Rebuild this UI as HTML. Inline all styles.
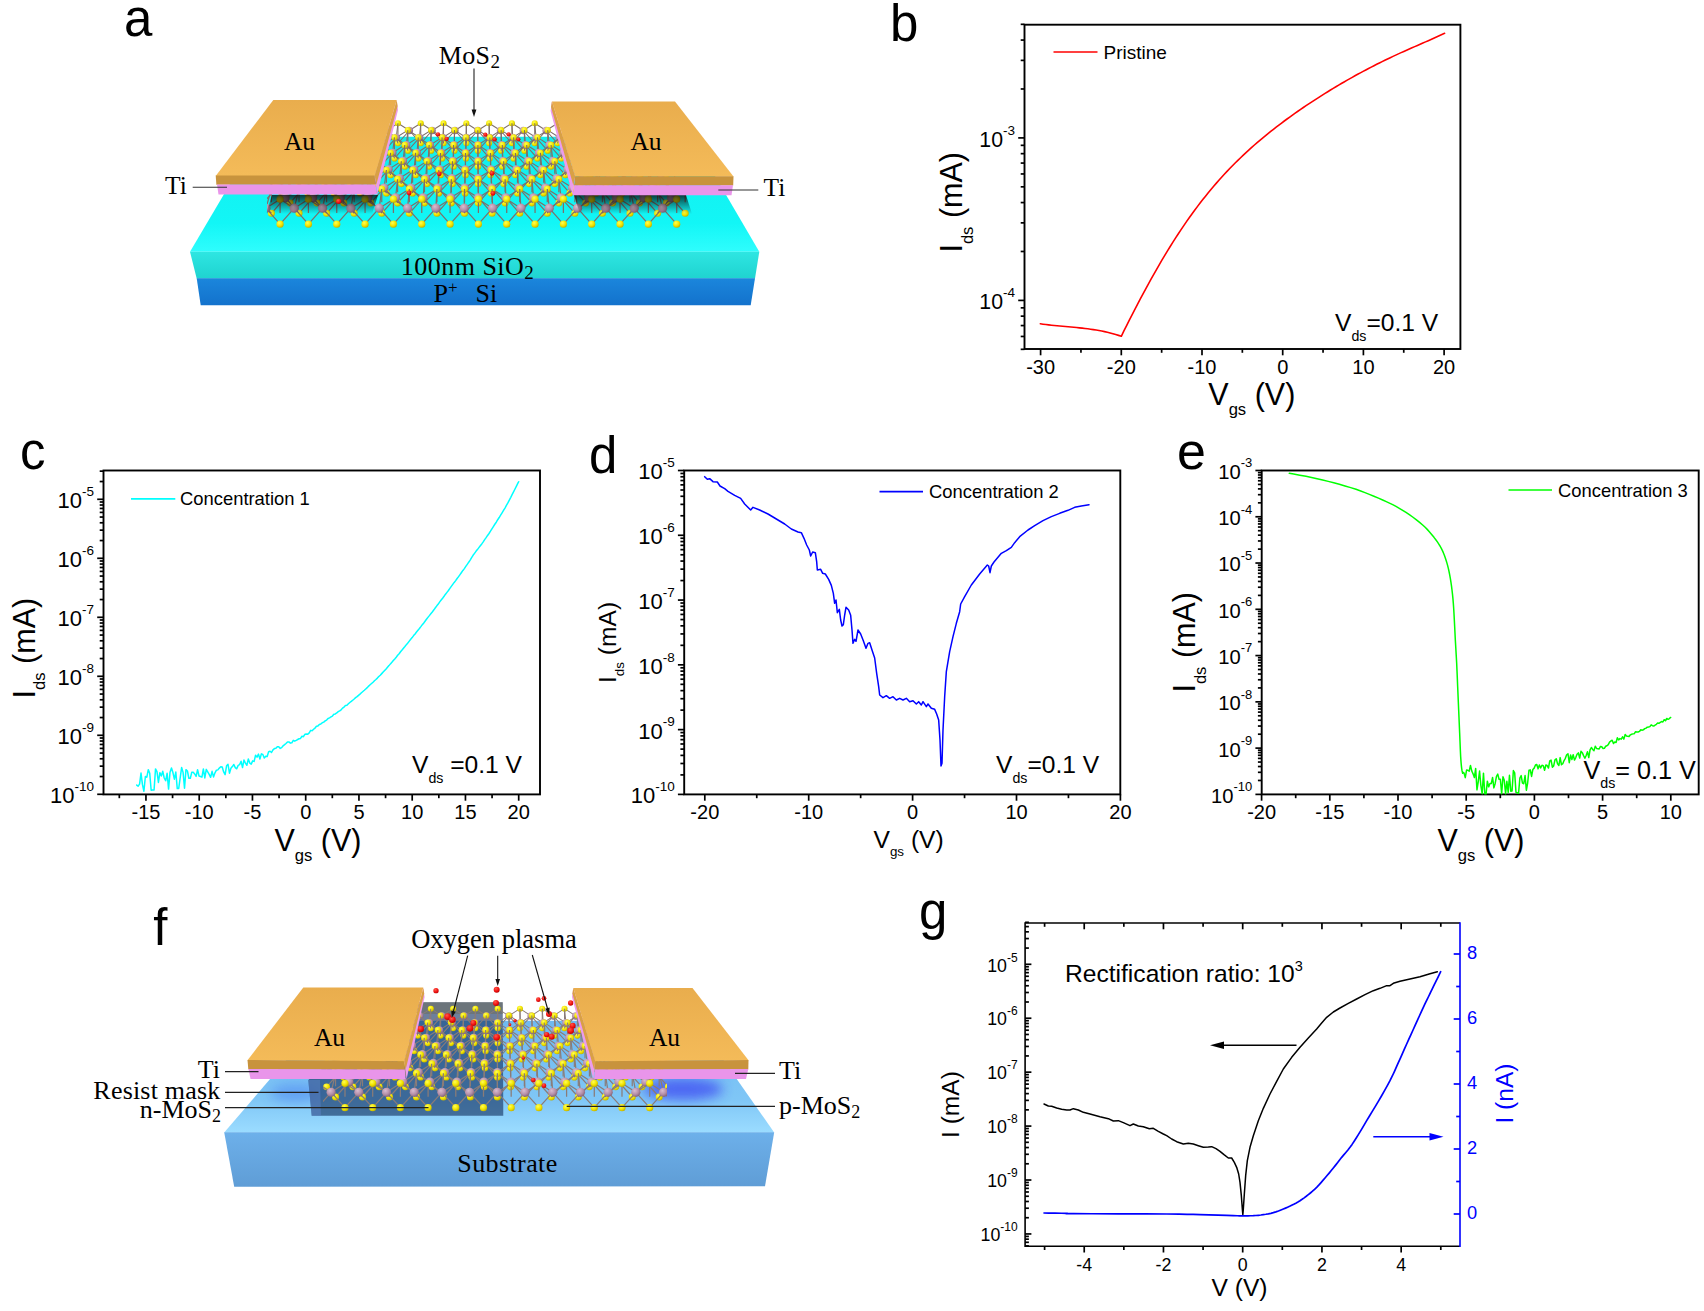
<!DOCTYPE html>
<html lang="en"><head><meta charset="utf-8"><title>MoS2 FET doping figure</title>
<style>
html,body{margin:0;padding:0;background:#fff;}
body{width:1704px;height:1311px;overflow:hidden;}
svg{display:block;}
.s{font-family:'Liberation Sans', Arial, sans-serif;}
.t{font-family:'Liberation Serif', 'Times New Roman', serif;}
</style></head><body>
<svg width="1704" height="1311" viewBox="0 0 1704 1311">
<rect width="1704" height="1311" fill="#fff"/>
<text class="s" x="124" y="35.5" font-size="51" text-anchor="start" fill="#000" >a</text>
<text class="s" x="890" y="41" font-size="51" text-anchor="start" fill="#000" >b</text>
<text class="s" x="20" y="468.5" font-size="51" text-anchor="start" fill="#000" >c</text>
<text class="s" x="589" y="473" font-size="51" text-anchor="start" fill="#000" >d</text>
<text class="s" x="1177" y="468.5" font-size="52" text-anchor="start" fill="#000" >e</text>
<text class="s" x="153.2" y="944.8" font-size="51" text-anchor="start" fill="#000" >f</text>
<text class="s" x="919" y="928.5" font-size="51" text-anchor="start" fill="#000" >g</text>
<rect x="1024.5" y="24.7" width="435.9" height="324.3" fill="#fff" stroke="#000" stroke-width="1.9"/>
<line x1="1040.6" y1="349" x2="1040.6" y2="355.3" stroke="#000" stroke-width="1.7" />
<text class="s" x="1040.6" y="374" font-size="20" text-anchor="middle" fill="#000" >-30</text>
<line x1="1121.3" y1="349" x2="1121.3" y2="355.3" stroke="#000" stroke-width="1.7" />
<text class="s" x="1121.3" y="374" font-size="20" text-anchor="middle" fill="#000" >-20</text>
<line x1="1202" y1="349" x2="1202" y2="355.3" stroke="#000" stroke-width="1.7" />
<text class="s" x="1202" y="374" font-size="20" text-anchor="middle" fill="#000" >-10</text>
<line x1="1282.7" y1="349" x2="1282.7" y2="355.3" stroke="#000" stroke-width="1.7" />
<text class="s" x="1282.7" y="374" font-size="20" text-anchor="middle" fill="#000" >0</text>
<line x1="1363.4" y1="349" x2="1363.4" y2="355.3" stroke="#000" stroke-width="1.7" />
<text class="s" x="1363.4" y="374" font-size="20" text-anchor="middle" fill="#000" >10</text>
<line x1="1444.1" y1="349" x2="1444.1" y2="355.3" stroke="#000" stroke-width="1.7" />
<text class="s" x="1444.1" y="374" font-size="20" text-anchor="middle" fill="#000" >20</text>
<line x1="1080.95" y1="349" x2="1080.95" y2="352.8" stroke="#000" stroke-width="1.7" />
<line x1="1161.65" y1="349" x2="1161.65" y2="352.8" stroke="#000" stroke-width="1.7" />
<line x1="1242.35" y1="349" x2="1242.35" y2="352.8" stroke="#000" stroke-width="1.7" />
<line x1="1323.05" y1="349" x2="1323.05" y2="352.8" stroke="#000" stroke-width="1.7" />
<line x1="1403.75" y1="349" x2="1403.75" y2="352.8" stroke="#000" stroke-width="1.7" />
<line x1="1024.5" y1="137.9" x2="1018.2" y2="137.9" stroke="#000" stroke-width="1.7" />
<text class="s" x="1015" y="146.8" font-size="21.3" text-anchor="end" fill="#000">10<tspan dy="-12.2" font-size="13.5">-3</tspan></text>
<line x1="1024.5" y1="300.4" x2="1018.2" y2="300.4" stroke="#000" stroke-width="1.7" />
<text class="s" x="1015" y="309.3" font-size="21.3" text-anchor="end" fill="#000">10<tspan dy="-12.2" font-size="13.5">-4</tspan></text>
<line x1="1024.5" y1="349.32" x2="1020.7" y2="349.32" stroke="#000" stroke-width="1.7" />
<line x1="1024.5" y1="336.45" x2="1020.7" y2="336.45" stroke="#000" stroke-width="1.7" />
<line x1="1024.5" y1="325.57" x2="1020.7" y2="325.57" stroke="#000" stroke-width="1.7" />
<line x1="1024.5" y1="316.15" x2="1020.7" y2="316.15" stroke="#000" stroke-width="1.7" />
<line x1="1024.5" y1="307.84" x2="1020.7" y2="307.84" stroke="#000" stroke-width="1.7" />
<line x1="1024.5" y1="251.48" x2="1020.7" y2="251.48" stroke="#000" stroke-width="1.7" />
<line x1="1024.5" y1="222.87" x2="1020.7" y2="222.87" stroke="#000" stroke-width="1.7" />
<line x1="1024.5" y1="202.57" x2="1020.7" y2="202.57" stroke="#000" stroke-width="1.7" />
<line x1="1024.5" y1="186.82" x2="1020.7" y2="186.82" stroke="#000" stroke-width="1.7" />
<line x1="1024.5" y1="173.95" x2="1020.7" y2="173.95" stroke="#000" stroke-width="1.7" />
<line x1="1024.5" y1="163.07" x2="1020.7" y2="163.07" stroke="#000" stroke-width="1.7" />
<line x1="1024.5" y1="153.65" x2="1020.7" y2="153.65" stroke="#000" stroke-width="1.7" />
<line x1="1024.5" y1="145.34" x2="1020.7" y2="145.34" stroke="#000" stroke-width="1.7" />
<line x1="1024.5" y1="88.98" x2="1020.7" y2="88.98" stroke="#000" stroke-width="1.7" />
<line x1="1024.5" y1="60.37" x2="1020.7" y2="60.37" stroke="#000" stroke-width="1.7" />
<line x1="1024.5" y1="40.07" x2="1020.7" y2="40.07" stroke="#000" stroke-width="1.7" />
<line x1="1024.5" y1="24.32" x2="1020.7" y2="24.32" stroke="#000" stroke-width="1.7" />
<text class="s" transform="translate(962.4 252.6) rotate(-90)" font-size="30.5" fill="#000">I<tspan dy="10.37" font-size="16.6">ds</tspan><tspan dy="-10.37" font-size="30.5"> (mA)</tspan></text>
<text class="s" x="1208.3" y="405.3" font-size="30.5" fill="#000">V<tspan dy="10.07" font-size="16.6">gs</tspan><tspan dy="-10.07" font-size="30.5"> (V)</tspan></text>
<line x1="1053.5" y1="52" x2="1097.5" y2="52" stroke="#ff0000" stroke-width="1.7" />
<text class="s" x="1103.5" y="58.6" font-size="19" text-anchor="start" fill="#000" >Pristine</text>
<text class="s" x="1335" y="331" font-size="24.6" fill="#000">V<tspan dy="9.5" font-size="14.2">ds</tspan><tspan dy="-9.5" font-size="24.6">=0.1 V</tspan></text>
<path d="M1040.3 323.79 L1043.09 324.19 L1045.89 324.55 L1048.68 324.89 L1051.47 325.2 L1054.27 325.49 L1057.06 325.77 L1059.85 326.03 L1062.64 326.28 L1065.44 326.53 L1068.23 326.78 L1071.02 327.03 L1073.82 327.29 L1076.61 327.56 L1079.4 327.84 L1082.2 328.14 L1084.99 328.46 L1087.78 328.81 L1090.58 329.18 L1093.37 329.59 L1096.16 330.04 L1098.96 330.52 L1101.75 331.05 L1104.54 331.63 L1107.33 332.26 L1110.13 332.95 L1112.92 333.69 L1115.71 334.5 L1118.51 335.38 L1121.3 336.3 L1124.02 330.71 L1126.73 325.32 L1129.45 319.96 L1132.17 314.65 L1134.88 309.38 L1137.6 304.15 L1140.32 298.99 L1143.03 293.87 L1145.75 288.82 L1148.47 283.84 L1151.18 278.92 L1153.9 274.06 L1156.62 269.28 L1159.34 264.57 L1162.05 259.93 L1164.77 255.37 L1167.49 250.89 L1170.2 246.48 L1172.92 242.15 L1175.64 237.89 L1178.35 233.71 L1181.07 229.62 L1183.79 225.59 L1186.5 221.65 L1189.22 217.78 L1191.94 213.99 L1194.65 210.27 L1197.37 206.63 L1200.09 203.06 L1202.8 199.57 L1205.52 196.14 L1208.24 192.79 L1210.95 189.5 L1213.67 186.28 L1216.39 183.13 L1219.11 180.04 L1221.82 177.02 L1224.54 174.05 L1227.26 171.15 L1229.97 168.3 L1232.69 165.51 L1235.41 162.77 L1238.12 160.09 L1240.84 157.46 L1243.56 154.87 L1246.27 152.34 L1248.99 149.85 L1251.71 147.4 L1254.42 145 L1257.14 142.64 L1259.86 140.32 L1262.57 138.04 L1265.29 135.8 L1268.01 133.59 L1270.72 131.41 L1273.44 129.27 L1276.16 127.16 L1278.87 125.08 L1281.59 123.03 L1284.31 121 L1287.03 119 L1289.74 117.03 L1292.46 115.09 L1295.18 113.16 L1297.89 111.27 L1300.61 109.39 L1303.33 107.53 L1306.04 105.7 L1308.76 103.88 L1311.48 102.09 L1314.19 100.31 L1316.91 98.56 L1319.63 96.82 L1322.34 95.1 L1325.06 93.4 L1327.78 91.71 L1330.49 90.05 L1333.21 88.4 L1335.93 86.77 L1338.64 85.15 L1341.36 83.55 L1344.08 81.97 L1346.79 80.41 L1349.51 78.86 L1352.23 77.33 L1354.95 75.81 L1357.66 74.32 L1360.38 72.84 L1363.1 71.38 L1365.81 69.93 L1368.53 68.5 L1371.25 67.09 L1373.96 65.7 L1376.68 64.32 L1379.4 62.96 L1382.11 61.62 L1384.83 60.29 L1387.55 58.98 L1390.26 57.68 L1392.98 56.4 L1395.7 55.14 L1398.41 53.88 L1401.13 52.64 L1403.85 51.42 L1406.56 50.2 L1409.28 48.99 L1412 47.8 L1414.72 46.61 L1417.43 45.42 L1420.15 44.24 L1422.87 43.06 L1425.58 41.87 L1428.3 40.69 L1431.02 39.5 L1433.73 38.29 L1436.45 37.08 L1439.17 35.85 L1441.88 34.6 L1444.6 33.33" fill="none" stroke="#ff0000" stroke-width="1.6" stroke-linejoin="round" stroke-linecap="round" />
<rect x="103.5" y="470.5" width="436.5" height="323.9" fill="#fff" stroke="#000" stroke-width="1.9"/>
<line x1="145.95" y1="794.4" x2="145.95" y2="800.7" stroke="#000" stroke-width="1.7" />
<text class="s" x="145.95" y="819.4" font-size="20" text-anchor="middle" fill="#000" >-15</text>
<line x1="199.2" y1="794.4" x2="199.2" y2="800.7" stroke="#000" stroke-width="1.7" />
<text class="s" x="199.2" y="819.4" font-size="20" text-anchor="middle" fill="#000" >-10</text>
<line x1="252.45" y1="794.4" x2="252.45" y2="800.7" stroke="#000" stroke-width="1.7" />
<text class="s" x="252.45" y="819.4" font-size="20" text-anchor="middle" fill="#000" >-5</text>
<line x1="305.7" y1="794.4" x2="305.7" y2="800.7" stroke="#000" stroke-width="1.7" />
<text class="s" x="305.7" y="819.4" font-size="20" text-anchor="middle" fill="#000" >0</text>
<line x1="358.95" y1="794.4" x2="358.95" y2="800.7" stroke="#000" stroke-width="1.7" />
<text class="s" x="358.95" y="819.4" font-size="20" text-anchor="middle" fill="#000" >5</text>
<line x1="412.2" y1="794.4" x2="412.2" y2="800.7" stroke="#000" stroke-width="1.7" />
<text class="s" x="412.2" y="819.4" font-size="20" text-anchor="middle" fill="#000" >10</text>
<line x1="465.45" y1="794.4" x2="465.45" y2="800.7" stroke="#000" stroke-width="1.7" />
<text class="s" x="465.45" y="819.4" font-size="20" text-anchor="middle" fill="#000" >15</text>
<line x1="518.7" y1="794.4" x2="518.7" y2="800.7" stroke="#000" stroke-width="1.7" />
<text class="s" x="518.7" y="819.4" font-size="20" text-anchor="middle" fill="#000" >20</text>
<line x1="119.32" y1="794.4" x2="119.32" y2="798.2" stroke="#000" stroke-width="1.7" />
<line x1="172.57" y1="794.4" x2="172.57" y2="798.2" stroke="#000" stroke-width="1.7" />
<line x1="225.82" y1="794.4" x2="225.82" y2="798.2" stroke="#000" stroke-width="1.7" />
<line x1="279.07" y1="794.4" x2="279.07" y2="798.2" stroke="#000" stroke-width="1.7" />
<line x1="332.32" y1="794.4" x2="332.32" y2="798.2" stroke="#000" stroke-width="1.7" />
<line x1="385.57" y1="794.4" x2="385.57" y2="798.2" stroke="#000" stroke-width="1.7" />
<line x1="438.82" y1="794.4" x2="438.82" y2="798.2" stroke="#000" stroke-width="1.7" />
<line x1="492.07" y1="794.4" x2="492.07" y2="798.2" stroke="#000" stroke-width="1.7" />
<line x1="103.5" y1="499.3" x2="97.2" y2="499.3" stroke="#000" stroke-width="1.7" />
<text class="s" x="94" y="508.2" font-size="22" text-anchor="end" fill="#000">10<tspan dy="-12.2" font-size="13.5">-5</tspan></text>
<line x1="103.5" y1="558.3" x2="97.2" y2="558.3" stroke="#000" stroke-width="1.7" />
<text class="s" x="94" y="567.2" font-size="22" text-anchor="end" fill="#000">10<tspan dy="-12.2" font-size="13.5">-6</tspan></text>
<line x1="103.5" y1="617.3" x2="97.2" y2="617.3" stroke="#000" stroke-width="1.7" />
<text class="s" x="94" y="626.2" font-size="22" text-anchor="end" fill="#000">10<tspan dy="-12.2" font-size="13.5">-7</tspan></text>
<line x1="103.5" y1="676.3" x2="97.2" y2="676.3" stroke="#000" stroke-width="1.7" />
<text class="s" x="94" y="685.2" font-size="22" text-anchor="end" fill="#000">10<tspan dy="-12.2" font-size="13.5">-8</tspan></text>
<line x1="103.5" y1="735.3" x2="97.2" y2="735.3" stroke="#000" stroke-width="1.7" />
<text class="s" x="94" y="744.2" font-size="22" text-anchor="end" fill="#000">10<tspan dy="-12.2" font-size="13.5">-9</tspan></text>
<line x1="103.5" y1="794.3" x2="97.2" y2="794.3" stroke="#000" stroke-width="1.7" />
<text class="s" x="94" y="803.2" font-size="22" text-anchor="end" fill="#000">10<tspan dy="-12.2" font-size="13.5">-10</tspan></text>
<line x1="103.5" y1="776.54" x2="99.7" y2="776.54" stroke="#000" stroke-width="1.7" />
<line x1="103.5" y1="766.15" x2="99.7" y2="766.15" stroke="#000" stroke-width="1.7" />
<line x1="103.5" y1="758.78" x2="99.7" y2="758.78" stroke="#000" stroke-width="1.7" />
<line x1="103.5" y1="753.06" x2="99.7" y2="753.06" stroke="#000" stroke-width="1.7" />
<line x1="103.5" y1="748.39" x2="99.7" y2="748.39" stroke="#000" stroke-width="1.7" />
<line x1="103.5" y1="744.44" x2="99.7" y2="744.44" stroke="#000" stroke-width="1.7" />
<line x1="103.5" y1="741.02" x2="99.7" y2="741.02" stroke="#000" stroke-width="1.7" />
<line x1="103.5" y1="738" x2="99.7" y2="738" stroke="#000" stroke-width="1.7" />
<line x1="103.5" y1="717.54" x2="99.7" y2="717.54" stroke="#000" stroke-width="1.7" />
<line x1="103.5" y1="707.15" x2="99.7" y2="707.15" stroke="#000" stroke-width="1.7" />
<line x1="103.5" y1="699.78" x2="99.7" y2="699.78" stroke="#000" stroke-width="1.7" />
<line x1="103.5" y1="694.06" x2="99.7" y2="694.06" stroke="#000" stroke-width="1.7" />
<line x1="103.5" y1="689.39" x2="99.7" y2="689.39" stroke="#000" stroke-width="1.7" />
<line x1="103.5" y1="685.44" x2="99.7" y2="685.44" stroke="#000" stroke-width="1.7" />
<line x1="103.5" y1="682.02" x2="99.7" y2="682.02" stroke="#000" stroke-width="1.7" />
<line x1="103.5" y1="679" x2="99.7" y2="679" stroke="#000" stroke-width="1.7" />
<line x1="103.5" y1="658.54" x2="99.7" y2="658.54" stroke="#000" stroke-width="1.7" />
<line x1="103.5" y1="648.15" x2="99.7" y2="648.15" stroke="#000" stroke-width="1.7" />
<line x1="103.5" y1="640.78" x2="99.7" y2="640.78" stroke="#000" stroke-width="1.7" />
<line x1="103.5" y1="635.06" x2="99.7" y2="635.06" stroke="#000" stroke-width="1.7" />
<line x1="103.5" y1="630.39" x2="99.7" y2="630.39" stroke="#000" stroke-width="1.7" />
<line x1="103.5" y1="626.44" x2="99.7" y2="626.44" stroke="#000" stroke-width="1.7" />
<line x1="103.5" y1="623.02" x2="99.7" y2="623.02" stroke="#000" stroke-width="1.7" />
<line x1="103.5" y1="620" x2="99.7" y2="620" stroke="#000" stroke-width="1.7" />
<line x1="103.5" y1="599.54" x2="99.7" y2="599.54" stroke="#000" stroke-width="1.7" />
<line x1="103.5" y1="589.15" x2="99.7" y2="589.15" stroke="#000" stroke-width="1.7" />
<line x1="103.5" y1="581.78" x2="99.7" y2="581.78" stroke="#000" stroke-width="1.7" />
<line x1="103.5" y1="576.06" x2="99.7" y2="576.06" stroke="#000" stroke-width="1.7" />
<line x1="103.5" y1="571.39" x2="99.7" y2="571.39" stroke="#000" stroke-width="1.7" />
<line x1="103.5" y1="567.44" x2="99.7" y2="567.44" stroke="#000" stroke-width="1.7" />
<line x1="103.5" y1="564.02" x2="99.7" y2="564.02" stroke="#000" stroke-width="1.7" />
<line x1="103.5" y1="561" x2="99.7" y2="561" stroke="#000" stroke-width="1.7" />
<line x1="103.5" y1="540.54" x2="99.7" y2="540.54" stroke="#000" stroke-width="1.7" />
<line x1="103.5" y1="530.15" x2="99.7" y2="530.15" stroke="#000" stroke-width="1.7" />
<line x1="103.5" y1="522.78" x2="99.7" y2="522.78" stroke="#000" stroke-width="1.7" />
<line x1="103.5" y1="517.06" x2="99.7" y2="517.06" stroke="#000" stroke-width="1.7" />
<line x1="103.5" y1="512.39" x2="99.7" y2="512.39" stroke="#000" stroke-width="1.7" />
<line x1="103.5" y1="508.44" x2="99.7" y2="508.44" stroke="#000" stroke-width="1.7" />
<line x1="103.5" y1="505.02" x2="99.7" y2="505.02" stroke="#000" stroke-width="1.7" />
<line x1="103.5" y1="502" x2="99.7" y2="502" stroke="#000" stroke-width="1.7" />
<line x1="103.5" y1="481.54" x2="99.7" y2="481.54" stroke="#000" stroke-width="1.7" />
<line x1="103.5" y1="471.15" x2="99.7" y2="471.15" stroke="#000" stroke-width="1.7" />
<text class="s" transform="translate(34.9 698.4) rotate(-90)" font-size="30.5" fill="#000">I<tspan dy="10.37" font-size="16.6">ds</tspan><tspan dy="-10.37" font-size="30.5"> (mA)</tspan></text>
<text class="s" x="274.5" y="851" font-size="30.5" fill="#000">V<tspan dy="10.07" font-size="16.6">gs</tspan><tspan dy="-10.07" font-size="30.5"> (V)</tspan></text>
<line x1="131" y1="498.8" x2="175.3" y2="498.8" stroke="#00ffff" stroke-width="1.7" />
<text class="s" x="180" y="505.4" font-size="18.4" text-anchor="start" fill="#000" >Concentration 1</text>
<text class="s" x="412" y="773" font-size="24.6" fill="#000">V<tspan dy="9.5" font-size="14.2">ds</tspan><tspan dy="-9.5" font-size="24.6"> =0.1 V</tspan></text>
<path d="M136.67 785.05 L138.12 786.19 L139.57 784.15 L141.02 773.04 L142.47 784.63 L143.92 791.27 L145.37 776.46 L146.82 777.26 L148.27 769.65 L149.72 773.23 L151.17 790.19 L152.62 790.07 L154.07 789.96 L155.52 768.89 L156.97 771.7 L158.42 782.43 L159.87 772.64 L161.32 776.06 L162.77 771.29 L164.22 778.01 L165.67 780.77 L167.12 773.23 L168.57 789.09 L170.02 772.22 L171.47 767.96 L172.92 772.55 L174.37 779.2 L175.82 772.08 L177.27 788.58 L178.72 788.5 L180.17 777.91 L181.62 767.59 L183.07 772.39 L184.52 788.19 L185.97 769.65 L187.42 771.01 L188.87 778.26 L190.32 778.32 L191.77 772.27 L193.22 772.3 L194.67 773.93 L196.12 776.38 L197.57 769.66 L199.02 776.03 L200.47 776.51 L201.92 777.13 L203.37 768.89 L204.82 777.97 L206.27 769.38 L207.72 771.81 L209.17 774.4 L210.62 777.32 L212.07 771.33 L213.52 776.92 L214.97 772.84 L216.42 770.18 L217.87 769.86 L219.32 768.09 L220.77 766.69 L222.22 766.97 L223.67 771.95 L225.12 774.59 L226.57 765.8 L228.02 764.25 L229.47 773.21 L230.92 768.26 L232.37 766.56 L233.82 764.46 L235.27 767.59 L236.72 768.82 L238.17 765.4 L239.62 764.66 L241.07 761.24 L242.52 767.61 L243.97 760 L245.42 763.11 L246.87 765.26 L248.32 758.95 L249.77 763.09 L251.22 764.13 L252.67 760.86 L254.12 761.4 L255.57 755.22 L257.02 757.11 L258.47 754.09 L259.92 758.94 L261.37 753.84 L262.82 754.41 L264.27 758.09 L265.72 756.23 L267.17 756.53 L268.62 751.67 L270.07 751.26 L271.52 752.51 L272.97 749.82 L274.42 748.56 L275.87 748.29 L277.32 746.7 L278.77 746.86 L280.22 748.4 L281.67 747.64 L283.12 745.79 L284.57 744.69 L286.02 743.47 L287.47 741.92 L288.92 741.94 L290.37 743.13 L291.82 742.78 L293.27 740.3 L294.72 741.16 L296.17 740.45 L297.62 739.51 L299.07 738.76 L300.52 738.44 L301.97 736.28 L303.42 736.69 L304.87 734.29 L306.32 734.1 L307.77 734.14 L309.22 732.84 L310.67 730.38 L312.12 730.69 L313.57 729.22 L315.02 728.06 L316.47 726.2 L317.92 725.9 L319.37 724.44 L320.82 724 L322.27 722.68 L323.72 722.16 L325.17 720.9 L326.62 720.1 L328.07 718.45 L329.52 717.85 L330.97 716.95 L332.42 716.05 L333.87 714.33 L335.32 713.97 L336.77 712.94 L338.22 711.62 L339.67 710.94 L341.12 709.83 L342.57 708.13 L344.02 707.05 L345.47 705.43 L346.92 705.26 L348.37 703.79 L349.82 702.5 L351.27 701.41 L352.72 700.24 L354.17 699.04 L355.62 697.67 L357.07 696.63 L358.52 695.33 L359.97 694.11 L361.42 692.77 L362.87 691.55 L364.32 690.3 L365.77 688.95 L367.22 687.65 L368.67 686.1 L370.12 684.79 L371.57 683.52 L373.02 682.23 L374.47 680.75 L375.92 679.52 L377.37 678.12 L378.82 676.52 L380.27 675.19 L381.72 673.62 L383.17 672.04 L384.62 670.5 L386.07 668.95 L387.52 667.27 L388.97 665.62 L390.42 663.89 L391.87 662.32 L393.32 660.58 L394.77 658.92 L396.22 657.18 L397.67 655.33 L399.12 653.77 L400.57 651.73 L402.02 650.08 L403.47 648.27 L404.92 646.52 L406.37 644.64 L407.82 643.06 L409.27 641.12 L410.72 639.21 L412.17 637.58 L413.62 635.6 L415.07 633.92 L416.52 632.02 L417.97 630.26 L419.42 628.53 L420.87 626.65 L422.32 624.67 L423.77 622.93 L425.22 621.01 L426.67 619.06 L428.12 617.12 L429.57 615.38 L431.02 613.48 L432.47 611.71 L433.92 609.82 L435.37 607.81 L436.82 605.82 L438.27 604.08 L439.72 601.89 L441.17 600 L442.62 598.2 L444.07 596.27 L445.52 594.19 L446.97 592.38 L448.42 590.5 L449.87 588.37 L451.32 586.42 L452.77 584.38 L454.22 582.42 L455.67 580.64 L457.12 578.47 L458.57 576.65 L460.02 574.64 L461.47 572.54 L462.92 570.43 L464.37 568.63 L465.82 566.45 L467.27 564.37 L468.72 562.2 L470.17 560.14 L471.62 557.58 L473.07 555.32 L474.52 553.36 L475.97 551.32 L477.42 549.58 L478.87 547.64 L480.32 545.7 L481.77 543.91 L483.22 541.93 L484.67 539.62 L486.12 537.67 L487.57 535.45 L489.02 533.47 L490.47 531.21 L491.92 528.81 L493.37 526.54 L494.82 524.24 L496.27 522.21 L497.72 519.72 L499.17 517.52 L500.62 515.15 L502.07 512.85 L503.52 510.44 L504.97 508.03 L506.42 505.32 L507.87 502.9 L509.32 500.06 L510.77 497.35 L512.22 494.46 L513.67 491.59 L515.12 488.76 L516.57 485.84 L518.02 482.91 L518.67 481.74" fill="none" stroke="#00ffff" stroke-width="1.5" stroke-linejoin="round" stroke-linecap="round" stroke-linejoin="miter"/>
<rect x="684.2" y="470.5" width="436.1" height="323.9" fill="#fff" stroke="#000" stroke-width="1.9"/>
<line x1="704.8" y1="794.4" x2="704.8" y2="800.7" stroke="#000" stroke-width="1.7" />
<text class="s" x="704.8" y="819.4" font-size="20" text-anchor="middle" fill="#000" >-20</text>
<line x1="808.7" y1="794.4" x2="808.7" y2="800.7" stroke="#000" stroke-width="1.7" />
<text class="s" x="808.7" y="819.4" font-size="20" text-anchor="middle" fill="#000" >-10</text>
<line x1="912.6" y1="794.4" x2="912.6" y2="800.7" stroke="#000" stroke-width="1.7" />
<text class="s" x="912.6" y="819.4" font-size="20" text-anchor="middle" fill="#000" >0</text>
<line x1="1016.5" y1="794.4" x2="1016.5" y2="800.7" stroke="#000" stroke-width="1.7" />
<text class="s" x="1016.5" y="819.4" font-size="20" text-anchor="middle" fill="#000" >10</text>
<line x1="1120.4" y1="794.4" x2="1120.4" y2="800.7" stroke="#000" stroke-width="1.7" />
<text class="s" x="1120.4" y="819.4" font-size="20" text-anchor="middle" fill="#000" >20</text>
<line x1="756.75" y1="794.4" x2="756.75" y2="798.2" stroke="#000" stroke-width="1.7" />
<line x1="860.65" y1="794.4" x2="860.65" y2="798.2" stroke="#000" stroke-width="1.7" />
<line x1="964.55" y1="794.4" x2="964.55" y2="798.2" stroke="#000" stroke-width="1.7" />
<line x1="1068.45" y1="794.4" x2="1068.45" y2="798.2" stroke="#000" stroke-width="1.7" />
<line x1="684.2" y1="470.5" x2="677.9" y2="470.5" stroke="#000" stroke-width="1.7" />
<text class="s" x="674.7" y="479.4" font-size="22" text-anchor="end" fill="#000">10<tspan dy="-12.2" font-size="13.5">-5</tspan></text>
<line x1="684.2" y1="535.28" x2="677.9" y2="535.28" stroke="#000" stroke-width="1.7" />
<text class="s" x="674.7" y="544.18" font-size="22" text-anchor="end" fill="#000">10<tspan dy="-12.2" font-size="13.5">-6</tspan></text>
<line x1="684.2" y1="600.06" x2="677.9" y2="600.06" stroke="#000" stroke-width="1.7" />
<text class="s" x="674.7" y="608.96" font-size="22" text-anchor="end" fill="#000">10<tspan dy="-12.2" font-size="13.5">-7</tspan></text>
<line x1="684.2" y1="664.84" x2="677.9" y2="664.84" stroke="#000" stroke-width="1.7" />
<text class="s" x="674.7" y="673.74" font-size="22" text-anchor="end" fill="#000">10<tspan dy="-12.2" font-size="13.5">-8</tspan></text>
<line x1="684.2" y1="729.62" x2="677.9" y2="729.62" stroke="#000" stroke-width="1.7" />
<text class="s" x="674.7" y="738.52" font-size="22" text-anchor="end" fill="#000">10<tspan dy="-12.2" font-size="13.5">-9</tspan></text>
<line x1="684.2" y1="794.4" x2="677.9" y2="794.4" stroke="#000" stroke-width="1.7" />
<text class="s" x="674.7" y="803.3" font-size="22" text-anchor="end" fill="#000">10<tspan dy="-12.2" font-size="13.5">-10</tspan></text>
<line x1="684.2" y1="774.9" x2="680.4" y2="774.9" stroke="#000" stroke-width="1.7" />
<line x1="684.2" y1="763.49" x2="680.4" y2="763.49" stroke="#000" stroke-width="1.7" />
<line x1="684.2" y1="755.4" x2="680.4" y2="755.4" stroke="#000" stroke-width="1.7" />
<line x1="684.2" y1="749.12" x2="680.4" y2="749.12" stroke="#000" stroke-width="1.7" />
<line x1="684.2" y1="743.99" x2="680.4" y2="743.99" stroke="#000" stroke-width="1.7" />
<line x1="684.2" y1="739.65" x2="680.4" y2="739.65" stroke="#000" stroke-width="1.7" />
<line x1="684.2" y1="735.9" x2="680.4" y2="735.9" stroke="#000" stroke-width="1.7" />
<line x1="684.2" y1="732.58" x2="680.4" y2="732.58" stroke="#000" stroke-width="1.7" />
<line x1="684.2" y1="710.12" x2="680.4" y2="710.12" stroke="#000" stroke-width="1.7" />
<line x1="684.2" y1="698.71" x2="680.4" y2="698.71" stroke="#000" stroke-width="1.7" />
<line x1="684.2" y1="690.62" x2="680.4" y2="690.62" stroke="#000" stroke-width="1.7" />
<line x1="684.2" y1="684.34" x2="680.4" y2="684.34" stroke="#000" stroke-width="1.7" />
<line x1="684.2" y1="679.21" x2="680.4" y2="679.21" stroke="#000" stroke-width="1.7" />
<line x1="684.2" y1="674.87" x2="680.4" y2="674.87" stroke="#000" stroke-width="1.7" />
<line x1="684.2" y1="671.12" x2="680.4" y2="671.12" stroke="#000" stroke-width="1.7" />
<line x1="684.2" y1="667.8" x2="680.4" y2="667.8" stroke="#000" stroke-width="1.7" />
<line x1="684.2" y1="645.34" x2="680.4" y2="645.34" stroke="#000" stroke-width="1.7" />
<line x1="684.2" y1="633.93" x2="680.4" y2="633.93" stroke="#000" stroke-width="1.7" />
<line x1="684.2" y1="625.84" x2="680.4" y2="625.84" stroke="#000" stroke-width="1.7" />
<line x1="684.2" y1="619.56" x2="680.4" y2="619.56" stroke="#000" stroke-width="1.7" />
<line x1="684.2" y1="614.43" x2="680.4" y2="614.43" stroke="#000" stroke-width="1.7" />
<line x1="684.2" y1="610.09" x2="680.4" y2="610.09" stroke="#000" stroke-width="1.7" />
<line x1="684.2" y1="606.34" x2="680.4" y2="606.34" stroke="#000" stroke-width="1.7" />
<line x1="684.2" y1="603.02" x2="680.4" y2="603.02" stroke="#000" stroke-width="1.7" />
<line x1="684.2" y1="580.56" x2="680.4" y2="580.56" stroke="#000" stroke-width="1.7" />
<line x1="684.2" y1="569.15" x2="680.4" y2="569.15" stroke="#000" stroke-width="1.7" />
<line x1="684.2" y1="561.06" x2="680.4" y2="561.06" stroke="#000" stroke-width="1.7" />
<line x1="684.2" y1="554.78" x2="680.4" y2="554.78" stroke="#000" stroke-width="1.7" />
<line x1="684.2" y1="549.65" x2="680.4" y2="549.65" stroke="#000" stroke-width="1.7" />
<line x1="684.2" y1="545.31" x2="680.4" y2="545.31" stroke="#000" stroke-width="1.7" />
<line x1="684.2" y1="541.56" x2="680.4" y2="541.56" stroke="#000" stroke-width="1.7" />
<line x1="684.2" y1="538.24" x2="680.4" y2="538.24" stroke="#000" stroke-width="1.7" />
<line x1="684.2" y1="515.78" x2="680.4" y2="515.78" stroke="#000" stroke-width="1.7" />
<line x1="684.2" y1="504.37" x2="680.4" y2="504.37" stroke="#000" stroke-width="1.7" />
<line x1="684.2" y1="496.28" x2="680.4" y2="496.28" stroke="#000" stroke-width="1.7" />
<line x1="684.2" y1="490" x2="680.4" y2="490" stroke="#000" stroke-width="1.7" />
<line x1="684.2" y1="484.87" x2="680.4" y2="484.87" stroke="#000" stroke-width="1.7" />
<line x1="684.2" y1="480.53" x2="680.4" y2="480.53" stroke="#000" stroke-width="1.7" />
<line x1="684.2" y1="476.78" x2="680.4" y2="476.78" stroke="#000" stroke-width="1.7" />
<line x1="684.2" y1="473.46" x2="680.4" y2="473.46" stroke="#000" stroke-width="1.7" />
<text class="s" transform="translate(615.7 683) rotate(-90)" font-size="24.6" fill="#000">I<tspan dy="8.36" font-size="13.4">ds</tspan><tspan dy="-8.36" font-size="24.6"> (mA)</tspan></text>
<text class="s" x="873.5" y="848.3" font-size="24.6" fill="#000">V<tspan dy="8.12" font-size="13.4">gs</tspan><tspan dy="-8.12" font-size="24.6"> (V)</tspan></text>
<line x1="879.5" y1="491.6" x2="923" y2="491.6" stroke="#0000ff" stroke-width="1.7" />
<text class="s" x="929" y="498.2" font-size="18.4" text-anchor="start" fill="#000" >Concentration 2</text>
<text class="s" x="996" y="773" font-size="24.6" fill="#000">V<tspan dy="9.5" font-size="14.2">ds</tspan><tspan dy="-9.5" font-size="24.6">=0.1 V</tspan></text>
<path d="M704.67 476.67 L707.33 479.33 L709.67 478.67 L713 481.67 L717.33 482 L720 486 L724.67 488.67 L728 491.33 L734.67 495.33 L740.67 498.33 L744.67 504 L750.67 510 L753 507.33 L759.67 510 L768 514 L774.67 518 L784.67 524 L791.33 529 L798 532 L801.33 532.67 L804 538.33 L806.67 545 L809.33 550 L810.67 556 L812.67 552 L815.33 552.67 L816.67 561.67 L817.33 570 L820.67 569.33 L822.67 573.33 L825.33 574 L828.67 579.33 L831.33 585.33 L833.33 593.33 L834.67 603.33 L836 600 L837.33 612.67 L839.33 609.33 L840.67 620 L842 626 L843.33 624.67 L844.67 615 L846 607.33 L848.67 610 L850.67 615.33 L852 630 L853 643.33 L854.67 639.33 L856 641.33 L858 630 L860.67 634 L863.33 640.67 L866 648.33 L868 643.33 L869.67 642.67 L872 650 L874.67 658 L876.67 673.33 L878.67 686.67 L879.67 695 L883 697.67 L886.33 695.67 L889.67 698.33 L893 696.67 L896.33 700 L899.67 698.33 L903 700 L906.33 698.33 L909.67 701.67 L913 700.67 L916.33 704 L918.67 701.67 L921.33 705 L923 701.67 L926.33 706.67 L928 704 L931.33 708.33 L934.67 709.33 L936.67 714 L938.67 720 L940 740 L941 766 L942 763.33 L943 730 L944.67 696.67 L946.33 671.67 L949.67 651.67 L953 636.67 L956.33 623.33 L959.67 611.67 L960.67 604 L964.67 596.67 L971.33 585 L979.67 574 L987.33 565 L988.67 566 L990 572.67 L991.33 566 L994 562 L1001.33 553.33 L1006.33 550.67 L1011.33 547.33 L1014.67 542.67 L1019.67 536.67 L1028 530 L1034.67 525.67 L1043 520.67 L1051.33 516.67 L1059.67 513.33 L1068 510.33 L1074.67 507.33 L1081.33 506 L1089 504.67" fill="none" stroke="#0000ff" stroke-width="1.5" stroke-linejoin="round" stroke-linecap="round" />
<rect x="1261.7" y="470.5" width="437" height="323.9" fill="#fff" stroke="#000" stroke-width="1.9"/>
<line x1="1261.6" y1="794.4" x2="1261.6" y2="800.7" stroke="#000" stroke-width="1.7" />
<text class="s" x="1261.6" y="819.4" font-size="20" text-anchor="middle" fill="#000" >-20</text>
<line x1="1329.8" y1="794.4" x2="1329.8" y2="800.7" stroke="#000" stroke-width="1.7" />
<text class="s" x="1329.8" y="819.4" font-size="20" text-anchor="middle" fill="#000" >-15</text>
<line x1="1398" y1="794.4" x2="1398" y2="800.7" stroke="#000" stroke-width="1.7" />
<text class="s" x="1398" y="819.4" font-size="20" text-anchor="middle" fill="#000" >-10</text>
<line x1="1466.2" y1="794.4" x2="1466.2" y2="800.7" stroke="#000" stroke-width="1.7" />
<text class="s" x="1466.2" y="819.4" font-size="20" text-anchor="middle" fill="#000" >-5</text>
<line x1="1534.4" y1="794.4" x2="1534.4" y2="800.7" stroke="#000" stroke-width="1.7" />
<text class="s" x="1534.4" y="819.4" font-size="20" text-anchor="middle" fill="#000" >0</text>
<line x1="1602.6" y1="794.4" x2="1602.6" y2="800.7" stroke="#000" stroke-width="1.7" />
<text class="s" x="1602.6" y="819.4" font-size="20" text-anchor="middle" fill="#000" >5</text>
<line x1="1670.8" y1="794.4" x2="1670.8" y2="800.7" stroke="#000" stroke-width="1.7" />
<text class="s" x="1670.8" y="819.4" font-size="20" text-anchor="middle" fill="#000" >10</text>
<line x1="1295.7" y1="794.4" x2="1295.7" y2="798.2" stroke="#000" stroke-width="1.7" />
<line x1="1363.9" y1="794.4" x2="1363.9" y2="798.2" stroke="#000" stroke-width="1.7" />
<line x1="1432.1" y1="794.4" x2="1432.1" y2="798.2" stroke="#000" stroke-width="1.7" />
<line x1="1500.3" y1="794.4" x2="1500.3" y2="798.2" stroke="#000" stroke-width="1.7" />
<line x1="1568.5" y1="794.4" x2="1568.5" y2="798.2" stroke="#000" stroke-width="1.7" />
<line x1="1636.7" y1="794.4" x2="1636.7" y2="798.2" stroke="#000" stroke-width="1.7" />
<line x1="1261.7" y1="470.5" x2="1255.4" y2="470.5" stroke="#000" stroke-width="1.7" />
<text class="s" x="1252.2" y="478.9" font-size="20.2" text-anchor="end" fill="#000">10<tspan dy="-11.6" font-size="13">-3</tspan></text>
<line x1="1261.7" y1="516.77" x2="1255.4" y2="516.77" stroke="#000" stroke-width="1.7" />
<text class="s" x="1252.2" y="525.17" font-size="20.2" text-anchor="end" fill="#000">10<tspan dy="-11.6" font-size="13">-4</tspan></text>
<line x1="1261.7" y1="563.04" x2="1255.4" y2="563.04" stroke="#000" stroke-width="1.7" />
<text class="s" x="1252.2" y="571.44" font-size="20.2" text-anchor="end" fill="#000">10<tspan dy="-11.6" font-size="13">-5</tspan></text>
<line x1="1261.7" y1="609.31" x2="1255.4" y2="609.31" stroke="#000" stroke-width="1.7" />
<text class="s" x="1252.2" y="617.71" font-size="20.2" text-anchor="end" fill="#000">10<tspan dy="-11.6" font-size="13">-6</tspan></text>
<line x1="1261.7" y1="655.58" x2="1255.4" y2="655.58" stroke="#000" stroke-width="1.7" />
<text class="s" x="1252.2" y="663.98" font-size="20.2" text-anchor="end" fill="#000">10<tspan dy="-11.6" font-size="13">-7</tspan></text>
<line x1="1261.7" y1="701.85" x2="1255.4" y2="701.85" stroke="#000" stroke-width="1.7" />
<text class="s" x="1252.2" y="710.25" font-size="20.2" text-anchor="end" fill="#000">10<tspan dy="-11.6" font-size="13">-8</tspan></text>
<line x1="1261.7" y1="748.12" x2="1255.4" y2="748.12" stroke="#000" stroke-width="1.7" />
<text class="s" x="1252.2" y="756.52" font-size="20.2" text-anchor="end" fill="#000">10<tspan dy="-11.6" font-size="13">-9</tspan></text>
<line x1="1261.7" y1="794.39" x2="1255.4" y2="794.39" stroke="#000" stroke-width="1.7" />
<text class="s" x="1252.2" y="802.79" font-size="20.2" text-anchor="end" fill="#000">10<tspan dy="-11.6" font-size="13">-10</tspan></text>
<line x1="1261.7" y1="780.46" x2="1257.9" y2="780.46" stroke="#000" stroke-width="1.7" />
<line x1="1261.7" y1="772.31" x2="1257.9" y2="772.31" stroke="#000" stroke-width="1.7" />
<line x1="1261.7" y1="766.53" x2="1257.9" y2="766.53" stroke="#000" stroke-width="1.7" />
<line x1="1261.7" y1="762.05" x2="1257.9" y2="762.05" stroke="#000" stroke-width="1.7" />
<line x1="1261.7" y1="758.38" x2="1257.9" y2="758.38" stroke="#000" stroke-width="1.7" />
<line x1="1261.7" y1="755.29" x2="1257.9" y2="755.29" stroke="#000" stroke-width="1.7" />
<line x1="1261.7" y1="752.6" x2="1257.9" y2="752.6" stroke="#000" stroke-width="1.7" />
<line x1="1261.7" y1="750.24" x2="1257.9" y2="750.24" stroke="#000" stroke-width="1.7" />
<line x1="1261.7" y1="734.19" x2="1257.9" y2="734.19" stroke="#000" stroke-width="1.7" />
<line x1="1261.7" y1="726.04" x2="1257.9" y2="726.04" stroke="#000" stroke-width="1.7" />
<line x1="1261.7" y1="720.26" x2="1257.9" y2="720.26" stroke="#000" stroke-width="1.7" />
<line x1="1261.7" y1="715.78" x2="1257.9" y2="715.78" stroke="#000" stroke-width="1.7" />
<line x1="1261.7" y1="712.11" x2="1257.9" y2="712.11" stroke="#000" stroke-width="1.7" />
<line x1="1261.7" y1="709.02" x2="1257.9" y2="709.02" stroke="#000" stroke-width="1.7" />
<line x1="1261.7" y1="706.33" x2="1257.9" y2="706.33" stroke="#000" stroke-width="1.7" />
<line x1="1261.7" y1="703.97" x2="1257.9" y2="703.97" stroke="#000" stroke-width="1.7" />
<line x1="1261.7" y1="687.92" x2="1257.9" y2="687.92" stroke="#000" stroke-width="1.7" />
<line x1="1261.7" y1="679.77" x2="1257.9" y2="679.77" stroke="#000" stroke-width="1.7" />
<line x1="1261.7" y1="673.99" x2="1257.9" y2="673.99" stroke="#000" stroke-width="1.7" />
<line x1="1261.7" y1="669.51" x2="1257.9" y2="669.51" stroke="#000" stroke-width="1.7" />
<line x1="1261.7" y1="665.84" x2="1257.9" y2="665.84" stroke="#000" stroke-width="1.7" />
<line x1="1261.7" y1="662.75" x2="1257.9" y2="662.75" stroke="#000" stroke-width="1.7" />
<line x1="1261.7" y1="660.06" x2="1257.9" y2="660.06" stroke="#000" stroke-width="1.7" />
<line x1="1261.7" y1="657.7" x2="1257.9" y2="657.7" stroke="#000" stroke-width="1.7" />
<line x1="1261.7" y1="641.65" x2="1257.9" y2="641.65" stroke="#000" stroke-width="1.7" />
<line x1="1261.7" y1="633.5" x2="1257.9" y2="633.5" stroke="#000" stroke-width="1.7" />
<line x1="1261.7" y1="627.72" x2="1257.9" y2="627.72" stroke="#000" stroke-width="1.7" />
<line x1="1261.7" y1="623.24" x2="1257.9" y2="623.24" stroke="#000" stroke-width="1.7" />
<line x1="1261.7" y1="619.57" x2="1257.9" y2="619.57" stroke="#000" stroke-width="1.7" />
<line x1="1261.7" y1="616.48" x2="1257.9" y2="616.48" stroke="#000" stroke-width="1.7" />
<line x1="1261.7" y1="613.79" x2="1257.9" y2="613.79" stroke="#000" stroke-width="1.7" />
<line x1="1261.7" y1="611.43" x2="1257.9" y2="611.43" stroke="#000" stroke-width="1.7" />
<line x1="1261.7" y1="595.38" x2="1257.9" y2="595.38" stroke="#000" stroke-width="1.7" />
<line x1="1261.7" y1="587.23" x2="1257.9" y2="587.23" stroke="#000" stroke-width="1.7" />
<line x1="1261.7" y1="581.45" x2="1257.9" y2="581.45" stroke="#000" stroke-width="1.7" />
<line x1="1261.7" y1="576.97" x2="1257.9" y2="576.97" stroke="#000" stroke-width="1.7" />
<line x1="1261.7" y1="573.3" x2="1257.9" y2="573.3" stroke="#000" stroke-width="1.7" />
<line x1="1261.7" y1="570.21" x2="1257.9" y2="570.21" stroke="#000" stroke-width="1.7" />
<line x1="1261.7" y1="567.52" x2="1257.9" y2="567.52" stroke="#000" stroke-width="1.7" />
<line x1="1261.7" y1="565.16" x2="1257.9" y2="565.16" stroke="#000" stroke-width="1.7" />
<line x1="1261.7" y1="549.11" x2="1257.9" y2="549.11" stroke="#000" stroke-width="1.7" />
<line x1="1261.7" y1="540.96" x2="1257.9" y2="540.96" stroke="#000" stroke-width="1.7" />
<line x1="1261.7" y1="535.18" x2="1257.9" y2="535.18" stroke="#000" stroke-width="1.7" />
<line x1="1261.7" y1="530.7" x2="1257.9" y2="530.7" stroke="#000" stroke-width="1.7" />
<line x1="1261.7" y1="527.03" x2="1257.9" y2="527.03" stroke="#000" stroke-width="1.7" />
<line x1="1261.7" y1="523.94" x2="1257.9" y2="523.94" stroke="#000" stroke-width="1.7" />
<line x1="1261.7" y1="521.25" x2="1257.9" y2="521.25" stroke="#000" stroke-width="1.7" />
<line x1="1261.7" y1="518.89" x2="1257.9" y2="518.89" stroke="#000" stroke-width="1.7" />
<line x1="1261.7" y1="502.84" x2="1257.9" y2="502.84" stroke="#000" stroke-width="1.7" />
<line x1="1261.7" y1="494.69" x2="1257.9" y2="494.69" stroke="#000" stroke-width="1.7" />
<line x1="1261.7" y1="488.91" x2="1257.9" y2="488.91" stroke="#000" stroke-width="1.7" />
<line x1="1261.7" y1="484.43" x2="1257.9" y2="484.43" stroke="#000" stroke-width="1.7" />
<line x1="1261.7" y1="480.76" x2="1257.9" y2="480.76" stroke="#000" stroke-width="1.7" />
<line x1="1261.7" y1="477.67" x2="1257.9" y2="477.67" stroke="#000" stroke-width="1.7" />
<line x1="1261.7" y1="474.98" x2="1257.9" y2="474.98" stroke="#000" stroke-width="1.7" />
<line x1="1261.7" y1="472.62" x2="1257.9" y2="472.62" stroke="#000" stroke-width="1.7" />
<text class="s" transform="translate(1195.3 692.6) rotate(-90)" font-size="30.5" fill="#000">I<tspan dy="10.37" font-size="16.6">ds</tspan><tspan dy="-10.37" font-size="30.5"> (mA)</tspan></text>
<text class="s" x="1437.5" y="850.7" font-size="30.5" fill="#000">V<tspan dy="10.07" font-size="16.6">gs</tspan><tspan dy="-10.07" font-size="30.5"> (V)</tspan></text>
<line x1="1508.5" y1="490" x2="1552" y2="490" stroke="#00ff00" stroke-width="1.7" />
<text class="s" x="1558" y="496.6" font-size="18.4" text-anchor="start" fill="#000" >Concentration 3</text>
<text class="s" x="1583.5" y="778.5" font-size="25.2" fill="#000">V<tspan dy="9.5" font-size="14.2">ds</tspan><tspan dy="-9.5" font-size="25.2">= 0.1 V</tspan></text>
<path d="M1289.33 473.33 L1293.65 474.09 L1299.83 475.17 L1306 476.33 L1311.56 477.48 L1317.11 478.7 L1322.67 480 L1328.22 481.37 L1333.78 482.81 L1339.33 484.33 L1345.01 485.95 L1350.69 487.64 L1356 489.33 L1360.69 490.98 L1365.01 492.62 L1369.33 494.33 L1373.9 496.21 L1378.47 498.16 L1382.67 500 L1386.25 501.59 L1389.46 503.07 L1392.67 504.67 L1396 506.44 L1399.33 508.33 L1402.67 510.33 L1406 512.43 L1409.33 514.64 L1412.67 517 L1416.12 519.62 L1419.58 522.38 L1422.67 525 L1425.14 527.26 L1427.23 529.37 L1429.33 531.67 L1431.65 534.41 L1433.98 537.33 L1436 540 L1437.56 542.15 L1438.81 544.04 L1440 546 L1441.19 548.15 L1442.3 550.37 L1443.33 552.67 L1444.28 555.02 L1445.16 557.46 L1446 560 L1446.81 562.64 L1447.59 565.4 L1448.33 568.33 L1449.04 571.48 L1449.7 574.81 L1450.33 578.33 L1450.93 582.04 L1451.48 585.93 L1452 590 L1452.48 594.2 L1452.93 598.58 L1453.33 603.33 L1453.69 608.52 L1454.01 614.07 L1454.33 620 L1454.65 626.3 L1454.98 632.96 L1455.33 640 L1455.77 647.53 L1456.23 655.43 L1456.67 663.33 L1457.02 671.11 L1457.35 678.89 L1457.67 686.67 L1458 694.44 L1458.33 702.22 L1458.67 710 L1459 717.78 L1459.33 725.56 L1459.67 733.33 L1460 741.54 L1460.33 749.75 L1460.67 756.67 L1461 761.67 L1461.33 765.37 L1461.67 768.33 L1462.04 770.68 L1462.41 772.28 L1462.67 773.33 L1462.67 772.08 L1463.97 772.9 L1465.27 777.62 L1466.57 770.1 L1467.87 770.27 L1469.17 771.27 L1470.47 765.45 L1471.77 771.05 L1473.07 773.87 L1474.37 777.6 L1475.67 768.48 L1476.97 789.86 L1478.27 781.59 L1479.57 771 L1480.87 785.75 L1482.17 793.64 L1483.47 773.14 L1484.77 793.8 L1486.07 793.8 L1487.37 781.2 L1488.67 786.85 L1489.97 783.58 L1491.27 783.56 L1492.57 777.43 L1493.87 787.9 L1495.17 783.45 L1496.47 776.35 L1497.77 774.14 L1499.07 779.32 L1500.37 779.32 L1501.67 793.8 L1502.97 776.69 L1504.27 780.26 L1505.57 793.8 L1506.87 781.24 L1508.17 792.48 L1509.47 775.22 L1510.77 791.2 L1512.07 791.01 L1513.37 770.6 L1514.67 772.82 L1515.97 792.25 L1517.27 792.82 L1518.57 793.22 L1519.87 778.14 L1521.17 775.63 L1522.47 783.14 L1523.77 783.7 L1525.07 775.57 L1526.37 790.3 L1527.67 782.78 L1528.97 770.25 L1530.27 769.88 L1531.57 776.4 L1532.87 769.44 L1534.17 768.11 L1535.47 765.05 L1536.77 764.52 L1538.07 768.86 L1539.37 764.93 L1540.67 768.01 L1541.97 765.25 L1543.27 765.61 L1544.57 770.23 L1545.87 765.05 L1547.17 765.54 L1548.47 768.05 L1549.77 760.8 L1551.07 760.1 L1552.37 767.23 L1553.67 765.9 L1554.97 759.8 L1556.27 758.79 L1557.57 763.87 L1558.87 765.47 L1560.17 757.63 L1561.47 764.76 L1562.77 763.69 L1564.07 760.52 L1565.37 758.32 L1566.67 754.78 L1567.97 753.76 L1569.27 762.66 L1570.57 755.08 L1571.87 759.43 L1573.17 754.69 L1574.47 760.09 L1575.77 757.58 L1577.07 754.32 L1578.37 752.9 L1579.67 758.11 L1580.97 751.33 L1582.27 752.66 L1583.57 755.65 L1584.87 758.24 L1586.17 755.46 L1587.47 751.68 L1588.77 757.58 L1590.07 749.92 L1591.37 747.5 L1592.67 749.46 L1593.97 750.63 L1595.27 746.16 L1596.57 748.51 L1597.87 748.72 L1599.17 748.98 L1600.47 746.41 L1601.77 746.8 L1603.07 748.51 L1604.37 748.29 L1605.67 746.25 L1606.97 745.78 L1608.27 744.67 L1609.57 742.09 L1610.87 740.98 L1612.17 740.27 L1613.47 743.56 L1614.77 742.01 L1616.07 742.53 L1617.37 737.78 L1618.67 739.88 L1619.97 738.6 L1621.27 739.12 L1622.57 736.74 L1623.87 739.17 L1625.17 734.55 L1626.47 736.07 L1627.77 736.36 L1629.07 736.54 L1630.37 734.81 L1631.67 734.2 L1632.97 733.88 L1634.27 733.64 L1635.57 731.76 L1636.87 732.03 L1638.17 732.02 L1639.47 731.42 L1640.77 729.8 L1642.07 730.18 L1643.37 729.84 L1644.67 728.62 L1645.97 728.23 L1647.27 727.13 L1648.57 727.1 L1649.87 726.64 L1651.17 724.86 L1652.47 725.68 L1653.77 726.01 L1655.07 725.22 L1656.37 724.33 L1657.67 723 L1658.97 723.31 L1660.27 722.42 L1661.57 721.56 L1662.87 722 L1664.17 719.67 L1665.47 720.75 L1666.77 718.5 L1668.07 719.35 L1669.37 718.54 L1670.67 717.42" fill="none" stroke="#00ff00" stroke-width="1.5" stroke-linejoin="round" stroke-linecap="round" stroke-linejoin="miter"/>
<rect x="1025.1" y="923" width="434.9" height="323.2" fill="#fff" stroke="none"/>
<line x1="1025.1" y1="923" x2="1460" y2="923" stroke="#000" stroke-width="1.6" />
<line x1="1025.1" y1="1246.2" x2="1460" y2="1246.2" stroke="#000" stroke-width="1.6" />
<line x1="1025.1" y1="922.2" x2="1025.1" y2="1247" stroke="#000" stroke-width="1.6" />
<line x1="1084.22" y1="1246.2" x2="1084.22" y2="1252.5" stroke="#000" stroke-width="1.7" />
<text class="s" x="1084.22" y="1270.6" font-size="17.8" text-anchor="middle" fill="#000" >-4</text>
<line x1="1163.46" y1="1246.2" x2="1163.46" y2="1252.5" stroke="#000" stroke-width="1.7" />
<text class="s" x="1163.46" y="1270.6" font-size="17.8" text-anchor="middle" fill="#000" >-2</text>
<line x1="1242.7" y1="1246.2" x2="1242.7" y2="1252.5" stroke="#000" stroke-width="1.7" />
<text class="s" x="1242.7" y="1270.6" font-size="17.8" text-anchor="middle" fill="#000" >0</text>
<line x1="1321.94" y1="1246.2" x2="1321.94" y2="1252.5" stroke="#000" stroke-width="1.7" />
<text class="s" x="1321.94" y="1270.6" font-size="17.8" text-anchor="middle" fill="#000" >2</text>
<line x1="1401.18" y1="1246.2" x2="1401.18" y2="1252.5" stroke="#000" stroke-width="1.7" />
<text class="s" x="1401.18" y="1270.6" font-size="17.8" text-anchor="middle" fill="#000" >4</text>
<line x1="1044.6" y1="1246.2" x2="1044.6" y2="1250" stroke="#000" stroke-width="1.7" />
<line x1="1123.84" y1="1246.2" x2="1123.84" y2="1250" stroke="#000" stroke-width="1.7" />
<line x1="1203.08" y1="1246.2" x2="1203.08" y2="1250" stroke="#000" stroke-width="1.7" />
<line x1="1282.32" y1="1246.2" x2="1282.32" y2="1250" stroke="#000" stroke-width="1.7" />
<line x1="1361.56" y1="1246.2" x2="1361.56" y2="1250" stroke="#000" stroke-width="1.7" />
<line x1="1440.8" y1="1246.2" x2="1440.8" y2="1250" stroke="#000" stroke-width="1.7" />
<line x1="1084.22" y1="923" x2="1084.22" y2="929.3" stroke="#000" stroke-width="1.7" />
<line x1="1163.46" y1="923" x2="1163.46" y2="929.3" stroke="#000" stroke-width="1.7" />
<line x1="1242.7" y1="923" x2="1242.7" y2="929.3" stroke="#000" stroke-width="1.7" />
<line x1="1321.94" y1="923" x2="1321.94" y2="929.3" stroke="#000" stroke-width="1.7" />
<line x1="1401.18" y1="923" x2="1401.18" y2="929.3" stroke="#000" stroke-width="1.7" />
<line x1="1044.6" y1="923" x2="1044.6" y2="926.8" stroke="#000" stroke-width="1.7" />
<line x1="1123.84" y1="923" x2="1123.84" y2="926.8" stroke="#000" stroke-width="1.7" />
<line x1="1203.08" y1="923" x2="1203.08" y2="926.8" stroke="#000" stroke-width="1.7" />
<line x1="1282.32" y1="923" x2="1282.32" y2="926.8" stroke="#000" stroke-width="1.7" />
<line x1="1361.56" y1="923" x2="1361.56" y2="926.8" stroke="#000" stroke-width="1.7" />
<line x1="1440.8" y1="923" x2="1440.8" y2="926.8" stroke="#000" stroke-width="1.7" />
<line x1="1025.1" y1="964.3" x2="1031.4" y2="964.3" stroke="#000" stroke-width="1.7" />
<text class="s" x="1017.7" y="971.5" font-size="17.8" text-anchor="end" fill="#000">10<tspan dy="-10" font-size="12">-5</tspan></text>
<line x1="1025.1" y1="1018.23" x2="1031.4" y2="1018.23" stroke="#000" stroke-width="1.7" />
<text class="s" x="1017.7" y="1025.43" font-size="17.8" text-anchor="end" fill="#000">10<tspan dy="-10" font-size="12">-6</tspan></text>
<line x1="1025.1" y1="1072.16" x2="1031.4" y2="1072.16" stroke="#000" stroke-width="1.7" />
<text class="s" x="1017.7" y="1079.36" font-size="17.8" text-anchor="end" fill="#000">10<tspan dy="-10" font-size="12">-7</tspan></text>
<line x1="1025.1" y1="1126.09" x2="1031.4" y2="1126.09" stroke="#000" stroke-width="1.7" />
<text class="s" x="1017.7" y="1133.29" font-size="17.8" text-anchor="end" fill="#000">10<tspan dy="-10" font-size="12">-8</tspan></text>
<line x1="1025.1" y1="1180.02" x2="1031.4" y2="1180.02" stroke="#000" stroke-width="1.7" />
<text class="s" x="1017.7" y="1187.22" font-size="17.8" text-anchor="end" fill="#000">10<tspan dy="-10" font-size="12">-9</tspan></text>
<line x1="1025.1" y1="1233.95" x2="1031.4" y2="1233.95" stroke="#000" stroke-width="1.7" />
<text class="s" x="1017.7" y="1241.15" font-size="17.8" text-anchor="end" fill="#000">10<tspan dy="-10" font-size="12">-10</tspan></text>
<line x1="1025.1" y1="1245.91" x2="1028.9" y2="1245.91" stroke="#000" stroke-width="1.7" />
<line x1="1025.1" y1="1242.3" x2="1028.9" y2="1242.3" stroke="#000" stroke-width="1.7" />
<line x1="1025.1" y1="1239.18" x2="1028.9" y2="1239.18" stroke="#000" stroke-width="1.7" />
<line x1="1025.1" y1="1236.42" x2="1028.9" y2="1236.42" stroke="#000" stroke-width="1.7" />
<line x1="1025.1" y1="1217.72" x2="1028.9" y2="1217.72" stroke="#000" stroke-width="1.7" />
<line x1="1025.1" y1="1208.22" x2="1028.9" y2="1208.22" stroke="#000" stroke-width="1.7" />
<line x1="1025.1" y1="1201.48" x2="1028.9" y2="1201.48" stroke="#000" stroke-width="1.7" />
<line x1="1025.1" y1="1196.25" x2="1028.9" y2="1196.25" stroke="#000" stroke-width="1.7" />
<line x1="1025.1" y1="1191.98" x2="1028.9" y2="1191.98" stroke="#000" stroke-width="1.7" />
<line x1="1025.1" y1="1188.37" x2="1028.9" y2="1188.37" stroke="#000" stroke-width="1.7" />
<line x1="1025.1" y1="1185.25" x2="1028.9" y2="1185.25" stroke="#000" stroke-width="1.7" />
<line x1="1025.1" y1="1182.49" x2="1028.9" y2="1182.49" stroke="#000" stroke-width="1.7" />
<line x1="1025.1" y1="1163.79" x2="1028.9" y2="1163.79" stroke="#000" stroke-width="1.7" />
<line x1="1025.1" y1="1154.29" x2="1028.9" y2="1154.29" stroke="#000" stroke-width="1.7" />
<line x1="1025.1" y1="1147.55" x2="1028.9" y2="1147.55" stroke="#000" stroke-width="1.7" />
<line x1="1025.1" y1="1142.32" x2="1028.9" y2="1142.32" stroke="#000" stroke-width="1.7" />
<line x1="1025.1" y1="1138.05" x2="1028.9" y2="1138.05" stroke="#000" stroke-width="1.7" />
<line x1="1025.1" y1="1134.44" x2="1028.9" y2="1134.44" stroke="#000" stroke-width="1.7" />
<line x1="1025.1" y1="1131.32" x2="1028.9" y2="1131.32" stroke="#000" stroke-width="1.7" />
<line x1="1025.1" y1="1128.56" x2="1028.9" y2="1128.56" stroke="#000" stroke-width="1.7" />
<line x1="1025.1" y1="1109.86" x2="1028.9" y2="1109.86" stroke="#000" stroke-width="1.7" />
<line x1="1025.1" y1="1100.36" x2="1028.9" y2="1100.36" stroke="#000" stroke-width="1.7" />
<line x1="1025.1" y1="1093.62" x2="1028.9" y2="1093.62" stroke="#000" stroke-width="1.7" />
<line x1="1025.1" y1="1088.39" x2="1028.9" y2="1088.39" stroke="#000" stroke-width="1.7" />
<line x1="1025.1" y1="1084.12" x2="1028.9" y2="1084.12" stroke="#000" stroke-width="1.7" />
<line x1="1025.1" y1="1080.51" x2="1028.9" y2="1080.51" stroke="#000" stroke-width="1.7" />
<line x1="1025.1" y1="1077.39" x2="1028.9" y2="1077.39" stroke="#000" stroke-width="1.7" />
<line x1="1025.1" y1="1074.63" x2="1028.9" y2="1074.63" stroke="#000" stroke-width="1.7" />
<line x1="1025.1" y1="1055.93" x2="1028.9" y2="1055.93" stroke="#000" stroke-width="1.7" />
<line x1="1025.1" y1="1046.43" x2="1028.9" y2="1046.43" stroke="#000" stroke-width="1.7" />
<line x1="1025.1" y1="1039.69" x2="1028.9" y2="1039.69" stroke="#000" stroke-width="1.7" />
<line x1="1025.1" y1="1034.46" x2="1028.9" y2="1034.46" stroke="#000" stroke-width="1.7" />
<line x1="1025.1" y1="1030.19" x2="1028.9" y2="1030.19" stroke="#000" stroke-width="1.7" />
<line x1="1025.1" y1="1026.58" x2="1028.9" y2="1026.58" stroke="#000" stroke-width="1.7" />
<line x1="1025.1" y1="1023.46" x2="1028.9" y2="1023.46" stroke="#000" stroke-width="1.7" />
<line x1="1025.1" y1="1020.7" x2="1028.9" y2="1020.7" stroke="#000" stroke-width="1.7" />
<line x1="1025.1" y1="1002" x2="1028.9" y2="1002" stroke="#000" stroke-width="1.7" />
<line x1="1025.1" y1="992.5" x2="1028.9" y2="992.5" stroke="#000" stroke-width="1.7" />
<line x1="1025.1" y1="985.76" x2="1028.9" y2="985.76" stroke="#000" stroke-width="1.7" />
<line x1="1025.1" y1="980.53" x2="1028.9" y2="980.53" stroke="#000" stroke-width="1.7" />
<line x1="1025.1" y1="976.26" x2="1028.9" y2="976.26" stroke="#000" stroke-width="1.7" />
<line x1="1025.1" y1="972.65" x2="1028.9" y2="972.65" stroke="#000" stroke-width="1.7" />
<line x1="1025.1" y1="969.53" x2="1028.9" y2="969.53" stroke="#000" stroke-width="1.7" />
<line x1="1025.1" y1="966.77" x2="1028.9" y2="966.77" stroke="#000" stroke-width="1.7" />
<line x1="1025.1" y1="948.07" x2="1028.9" y2="948.07" stroke="#000" stroke-width="1.7" />
<line x1="1025.1" y1="938.57" x2="1028.9" y2="938.57" stroke="#000" stroke-width="1.7" />
<line x1="1025.1" y1="931.83" x2="1028.9" y2="931.83" stroke="#000" stroke-width="1.7" />
<line x1="1025.1" y1="926.6" x2="1028.9" y2="926.6" stroke="#000" stroke-width="1.7" />
<line x1="1025.1" y1="922.33" x2="1028.9" y2="922.33" stroke="#000" stroke-width="1.7" />
<line x1="1460" y1="922.2" x2="1460" y2="1247" stroke="#0000ff" stroke-width="1.6" />
<line x1="1460" y1="1214" x2="1453.7" y2="1214" stroke="#0000ff" stroke-width="1.7" />
<text class="s" x="1467" y="1218.7" font-size="18.3" text-anchor="start" fill="#0000ff" >0</text>
<line x1="1460" y1="1149" x2="1453.7" y2="1149" stroke="#0000ff" stroke-width="1.7" />
<text class="s" x="1467" y="1153.7" font-size="18.3" text-anchor="start" fill="#0000ff" >2</text>
<line x1="1460" y1="1084" x2="1453.7" y2="1084" stroke="#0000ff" stroke-width="1.7" />
<text class="s" x="1467" y="1088.7" font-size="18.3" text-anchor="start" fill="#0000ff" >4</text>
<line x1="1460" y1="1019" x2="1453.7" y2="1019" stroke="#0000ff" stroke-width="1.7" />
<text class="s" x="1467" y="1023.7" font-size="18.3" text-anchor="start" fill="#0000ff" >6</text>
<line x1="1460" y1="954" x2="1453.7" y2="954" stroke="#0000ff" stroke-width="1.7" />
<text class="s" x="1467" y="958.7" font-size="18.3" text-anchor="start" fill="#0000ff" >8</text>
<line x1="1460" y1="1181.5" x2="1456.2" y2="1181.5" stroke="#0000ff" stroke-width="1.7" />
<line x1="1460" y1="1116.5" x2="1456.2" y2="1116.5" stroke="#0000ff" stroke-width="1.7" />
<line x1="1460" y1="1051.5" x2="1456.2" y2="1051.5" stroke="#0000ff" stroke-width="1.7" />
<line x1="1460" y1="986.5" x2="1456.2" y2="986.5" stroke="#0000ff" stroke-width="1.7" />
<text class="s" transform="translate(959.1 1138) rotate(-90)" font-size="24.6" fill="#000">I (mA)</text>
<text class="s" transform="translate(1512.8 1093.5) rotate(-90)" font-size="24.6" text-anchor="middle" fill="#0000ff">I (nA)</text>
<text class="s" x="1211.5" y="1295.7" font-size="24.6" fill="#000">V (V)</text>
<text class="s" x="1065" y="981.5" font-size="24.6" fill="#000">Rectification ratio: 10<tspan dy="-11" font-size="14.5">3</tspan></text>
<path d="M1044 1104 L1048.33 1106 L1051.67 1106.33 L1056.67 1108 L1061.67 1109.33 L1066.67 1110 L1070 1110 L1073.33 1108.67 L1078.33 1110 L1083.33 1112.33 L1090 1114 L1100 1116.67 L1108.33 1118.67 L1113.33 1121 L1118.33 1120.67 L1123.33 1122.67 L1130 1125.67 L1133.33 1124 L1138.33 1126 L1143.33 1126.67 L1149.33 1128.67 L1153.33 1128.33 L1158.33 1131.33 L1163.33 1134 L1166.67 1135.67 L1171.67 1139 L1176.67 1141.67 L1183.33 1144 L1188.33 1143.33 L1193.33 1144 L1198.33 1145.67 L1203.33 1147.33 L1208.33 1147 L1211.67 1146.67 L1216 1148.67 L1220 1151.33 L1224 1154.67 L1228.33 1158 L1231.67 1158 L1234.33 1162.33 L1236.67 1167.33 L1238.67 1174 L1240 1182.33 L1241.33 1195.67 L1242.33 1209 L1242.83 1214.67 L1243.33 1209 L1244.33 1194 L1245.67 1175.67 L1247.33 1160.67 L1250 1147.33 L1253.33 1135.67 L1258.33 1120.67 L1263.33 1108.33 L1270 1094 L1276.67 1081.33 L1283.33 1069 L1291.67 1057.33 L1300 1047.33 L1308.33 1038 L1316.67 1029 L1321.67 1023 L1326.67 1017.33 L1333.33 1012 L1340 1008 L1348.33 1003.33 L1356.67 999 L1365 994.67 L1373.33 990.67 L1380 988.33 L1386.67 985.67 L1390 985.67 L1393.33 983.33 L1400 981.33 L1410 979 L1420 976.67 L1430 973.67 L1437.33 971.67" fill="none" stroke="#000" stroke-width="1.5" stroke-linejoin="round" stroke-linecap="round" />
<path d="M1044 1213 L1048.45 1213.06 L1054.92 1213.15 L1061.59 1213.24 L1066.67 1213.33 L1067.43 1213.42 L1065.58 1213.5 L1065.95 1213.58 L1073.33 1213.67 L1091.98 1213.74 L1118.33 1213.81 L1145.52 1213.89 L1166.67 1214 L1179.22 1214.14 L1187.08 1214.29 L1193.07 1214.47 L1200 1214.67 L1208.9 1214.91 L1218.17 1215.2 L1226.69 1215.47 L1233.33 1215.67 L1237.32 1215.77 L1239.42 1215.82 L1240.8 1215.83 L1242.67 1215.83 L1245.26 1215.83 L1247.96 1215.82 L1250.68 1215.77 L1253.33 1215.67 L1255.88 1215.5 L1258.38 1215.28 L1260.85 1215.01 L1263.33 1214.67 L1265.83 1214.28 L1268.33 1213.83 L1270.83 1213.31 L1273.33 1212.67 L1275.87 1211.87 L1278.44 1210.94 L1280.95 1209.96 L1283.33 1209 L1285.53 1208.11 L1287.6 1207.23 L1289.62 1206.32 L1291.67 1205.33 L1293.75 1204.27 L1295.83 1203.15 L1297.92 1201.95 L1300 1200.67 L1302.08 1199.29 L1304.17 1197.83 L1306.25 1196.29 L1308.33 1194.67 L1310.42 1192.97 L1312.5 1191.21 L1314.58 1189.34 L1316.67 1187.33 L1318.75 1185.16 L1320.83 1182.83 L1322.92 1180.43 L1325 1178 L1327.08 1175.56 L1329.17 1173.08 L1331.25 1170.56 L1333.33 1168 L1335.42 1165.36 L1337.5 1162.67 L1339.58 1159.97 L1341.67 1157.33 L1343.75 1154.85 L1345.83 1152.46 L1347.92 1150.01 L1350 1147.33 L1352.08 1144.39 L1354.17 1141.25 L1356.25 1137.99 L1358.33 1134.67 L1360.34 1131.39 L1362.29 1128.08 L1364.35 1124.57 L1366.67 1120.67 L1369.35 1116.24 L1372.29 1111.42 L1375.34 1106.39 L1378.33 1101.33 L1381.33 1096.2 L1384.38 1090.92 L1387.32 1085.68 L1390 1080.67 L1392.32 1075.99 L1394.37 1071.54 L1396.33 1067.15 L1398.33 1062.67 L1400.42 1058.04 L1402.5 1053.35 L1404.58 1048.66 L1406.67 1044 L1408.75 1039.39 L1410.83 1034.81 L1412.92 1030.24 L1415 1025.67 L1417.16 1020.9 L1419.38 1016 L1421.48 1011.35 L1423.33 1007.33 L1424.82 1004.19 L1426.04 1001.67 L1427.16 999.4 L1428.33 997 L1429.61 994.37 L1430.9 991.7 L1432.15 989.1 L1433.33 986.67 L1434.42 984.45 L1435.44 982.38 L1436.4 980.43 L1437.33 978.53 L1438.29 976.57 L1439.25 974.59 L1440.08 972.87 L1440.67 971.67" fill="none" stroke="#0000ff" stroke-width="1.7" stroke-linejoin="round" stroke-linecap="round" />
<line x1="1296.5" y1="1045.3" x2="1222" y2="1045.3" stroke="#000" stroke-width="1.6" />
<polygon points="1210,1045.3 1224,1041.6 1224,1049" fill="#000" />
<line x1="1373.3" y1="1136.7" x2="1432" y2="1136.7" stroke="#0000ff" stroke-width="1.6" />
<polygon points="1443.5,1136.7 1429.5,1133 1429.5,1140.4" fill="#0000ff" />
<defs>
<radialGradient id="gS" cx="0.38" cy="0.32" r="0.75"><stop offset="0" stop-color="#ffff55"/><stop offset="0.55" stop-color="#f2e400"/><stop offset="1" stop-color="#b8a800"/></radialGradient>
<radialGradient id="gM" cx="0.38" cy="0.32" r="0.75"><stop offset="0" stop-color="#d9bcd0"/><stop offset="0.55" stop-color="#b58fa8"/><stop offset="1" stop-color="#7c5c72"/></radialGradient>
<radialGradient id="gO" cx="0.38" cy="0.32" r="0.75"><stop offset="0" stop-color="#ff5a4a"/><stop offset="0.6" stop-color="#f01010"/><stop offset="1" stop-color="#b00000"/></radialGradient>
<linearGradient id="aTop" x1="0" y1="0" x2="0" y2="1"><stop offset="0" stop-color="#14ecec"/><stop offset="0.75" stop-color="#12f6f6"/><stop offset="1" stop-color="#2ffdfd"/></linearGradient>
<linearGradient id="aSiO" x1="0" y1="0" x2="0" y2="1"><stop offset="0" stop-color="#2ee6e2"/><stop offset="1" stop-color="#1fd3d0"/></linearGradient>
<linearGradient id="aSi" x1="0" y1="0" x2="0" y2="1"><stop offset="0" stop-color="#1b86dc"/><stop offset="1" stop-color="#1372cc"/></linearGradient>
<linearGradient id="auTop" x1="0" y1="0" x2="0" y2="1"><stop offset="0" stop-color="#e9ad4d"/><stop offset="1" stop-color="#f4bb59"/></linearGradient>
<linearGradient id="fTop" x1="0" y1="0" x2="0" y2="1"><stop offset="0" stop-color="#6fb9f1"/><stop offset="0.7" stop-color="#7fc6f6"/><stop offset="1" stop-color="#9bdcff"/></linearGradient>
<linearGradient id="fFront" x1="0" y1="0" x2="0" y2="1"><stop offset="0" stop-color="#6db0ea"/><stop offset="1" stop-color="#5f9dd6"/></linearGradient>
<linearGradient id="shadow" x1="0" y1="0" x2="0" y2="1"><stop offset="0" stop-color="#000" stop-opacity="0.75"/><stop offset="1" stop-color="#000" stop-opacity="0"/></linearGradient>
<filter id="blur6" x="-30%" y="-30%" width="160%" height="160%"><feGaussianBlur stdDeviation="6"/></filter>
<filter id="blur3" x="-30%" y="-30%" width="160%" height="160%"><feGaussianBlur stdDeviation="2.5"/></filter>
</defs>
<polygon points="190,251.7 759.3,251.7 692,136.7 258,136.7" fill="url(#aTop)" />
<polygon points="190,251.7 759.3,251.7 755,278.5 196.7,278.5" fill="url(#aSiO)" />
<polygon points="196.7,278.3 755,278.3 750.7,305.3 200.7,305.3" fill="url(#aSi)" />
<clipPath id="clipA"><polygon points="267,100 696,100 696,240 267,240"/></clipPath>
<g clip-path="url(#clipA)"><path d="M306.8 123.22L306.8 134.28 M318.19 130.46L306.8 143.33 M318.19 130.46L306.8 123.22 M318.19 130.46L329.59 143.33 M318.19 130.46L329.59 123.22 M329.59 123.22L329.59 134.28 M340.99 130.46L329.59 143.33 M340.99 130.46L329.59 123.22 M340.99 130.46L352.38 143.33 M340.99 130.46L352.38 123.22 M352.38 123.22L352.38 134.28 M363.78 130.46L352.38 143.33 M363.78 130.46L352.38 123.22 M363.78 130.46L375.17 143.33 M363.78 130.46L375.17 123.22 M375.17 123.22L375.17 134.28 M386.57 130.46L375.17 143.33 M386.57 130.46L375.17 123.22 M386.57 130.46L397.96 143.33 M386.57 130.46L397.96 123.22 M397.96 123.22L397.96 134.28 M409.36 130.46L397.96 143.33 M409.36 130.46L397.96 123.22 M409.36 130.46L420.76 143.33 M409.36 130.46L420.76 123.22 M420.76 123.22L420.76 134.28 M432.15 130.46L420.76 143.33 M432.15 130.46L420.76 123.22 M432.15 130.46L443.55 143.33 M432.15 130.46L443.55 123.22 M443.55 123.22L443.55 134.28 M454.94 130.46L443.55 143.33 M454.94 130.46L443.55 123.22 M454.94 130.46L466.34 143.33 M454.94 130.46L466.34 123.22 M466.34 123.22L466.34 134.28 M477.73 130.46L466.34 143.33 M477.73 130.46L466.34 123.22 M477.73 130.46L489.13 143.33 M477.73 130.46L489.13 123.22 M489.13 123.22L489.13 134.28 M500.53 130.46L489.13 143.33 M500.53 130.46L489.13 123.22 M500.53 130.46L511.92 143.33 M500.53 130.46L511.92 123.22 M511.92 123.22L511.92 134.28 M523.32 130.46L511.92 143.33 M523.32 130.46L511.92 123.22 M523.32 130.46L534.71 143.33 M523.32 130.46L534.71 123.22 M534.71 123.22L534.71 134.28 M546.11 130.46L534.71 143.33 M546.11 130.46L534.71 123.22 M546.11 130.46L557.51 143.33 M546.11 130.46L557.51 123.22 M557.51 123.22L557.51 134.28 M568.9 130.46L557.51 143.33 M568.9 130.46L557.51 123.22 M568.9 130.46L580.3 143.33 M568.9 130.46L580.3 123.22 M580.3 123.22L580.3 134.28 M591.69 130.46L580.3 143.33 M591.69 130.46L580.3 123.22 M591.69 130.46L603.09 143.33 M591.69 130.46L603.09 123.22 M603.09 123.22L603.09 134.28 M614.48 130.46L603.09 143.33 M614.48 130.46L603.09 123.22 M614.48 130.46L625.88 143.33 M614.48 130.46L625.88 123.22 M625.88 123.22L625.88 134.28 M637.28 130.46L625.88 143.33 M637.28 130.46L625.88 123.22 M637.28 130.46L648.67 143.33 M637.28 130.46L648.67 123.22 M648.67 123.22L648.67 134.28" stroke="#7d6f6a" stroke-width="1.01" fill="none"/><circle cx="306.8" cy="143.33" r="3.03" fill="url(#gS)"/><circle cx="329.59" cy="143.33" r="3.03" fill="url(#gS)"/><circle cx="352.38" cy="143.33" r="3.03" fill="url(#gS)"/><circle cx="375.17" cy="143.33" r="3.03" fill="url(#gS)"/><circle cx="397.96" cy="143.33" r="3.03" fill="url(#gS)"/><circle cx="420.76" cy="143.33" r="3.03" fill="url(#gS)"/><circle cx="443.55" cy="143.33" r="3.03" fill="url(#gS)"/><circle cx="466.34" cy="143.33" r="3.03" fill="url(#gS)"/><circle cx="489.13" cy="143.33" r="3.03" fill="url(#gS)"/><circle cx="511.92" cy="143.33" r="3.03" fill="url(#gS)"/><circle cx="534.71" cy="143.33" r="3.03" fill="url(#gS)"/><circle cx="557.51" cy="143.33" r="3.03" fill="url(#gS)"/><circle cx="580.3" cy="143.33" r="3.03" fill="url(#gS)"/><circle cx="603.09" cy="143.33" r="3.03" fill="url(#gS)"/><circle cx="625.88" cy="143.33" r="3.03" fill="url(#gS)"/><circle cx="648.67" cy="143.33" r="3.03" fill="url(#gS)"/><circle cx="318.19" cy="130.46" r="3.7" fill="url(#gM)"/><circle cx="340.99" cy="130.46" r="3.7" fill="url(#gM)"/><circle cx="363.78" cy="130.46" r="3.7" fill="url(#gM)"/><circle cx="386.57" cy="130.46" r="3.7" fill="url(#gM)"/><circle cx="409.36" cy="130.46" r="3.7" fill="url(#gM)"/><circle cx="432.15" cy="130.46" r="3.7" fill="url(#gM)"/><circle cx="454.94" cy="130.46" r="3.7" fill="url(#gM)"/><circle cx="477.73" cy="130.46" r="3.7" fill="url(#gM)"/><circle cx="500.53" cy="130.46" r="3.7" fill="url(#gM)"/><circle cx="523.32" cy="130.46" r="3.7" fill="url(#gM)"/><circle cx="546.11" cy="130.46" r="3.7" fill="url(#gM)"/><circle cx="568.9" cy="130.46" r="3.7" fill="url(#gM)"/><circle cx="591.69" cy="130.46" r="3.7" fill="url(#gM)"/><circle cx="614.48" cy="130.46" r="3.7" fill="url(#gM)"/><circle cx="637.28" cy="130.46" r="3.7" fill="url(#gM)"/><circle cx="306.8" cy="123.22" r="3.03" fill="url(#gS)"/><circle cx="329.59" cy="123.22" r="3.03" fill="url(#gS)"/><circle cx="352.38" cy="123.22" r="3.03" fill="url(#gS)"/><circle cx="375.17" cy="123.22" r="3.03" fill="url(#gS)"/><circle cx="397.96" cy="123.22" r="3.03" fill="url(#gS)"/><circle cx="420.76" cy="123.22" r="3.03" fill="url(#gS)"/><circle cx="443.55" cy="123.22" r="3.03" fill="url(#gS)"/><circle cx="466.34" cy="123.22" r="3.03" fill="url(#gS)"/><circle cx="489.13" cy="123.22" r="3.03" fill="url(#gS)"/><circle cx="511.92" cy="123.22" r="3.03" fill="url(#gS)"/><circle cx="534.71" cy="123.22" r="3.03" fill="url(#gS)"/><circle cx="557.51" cy="123.22" r="3.03" fill="url(#gS)"/><circle cx="580.3" cy="123.22" r="3.03" fill="url(#gS)"/><circle cx="603.09" cy="123.22" r="3.03" fill="url(#gS)"/><circle cx="625.88" cy="123.22" r="3.03" fill="url(#gS)"/><circle cx="648.67" cy="123.22" r="3.03" fill="url(#gS)"/><path d="M291.41 130.14L291.41 141.45 M303.06 137.55L291.41 150.7 M303.06 137.55L291.41 130.14 M303.06 137.55L314.71 150.7 M303.06 137.55L314.71 130.14 M303.06 137.55L306.8 143.33 M303.06 137.55L306.8 123.22 M314.71 130.14L314.71 141.45 M326.36 137.55L314.71 150.7 M326.36 137.55L314.71 130.14 M326.36 137.55L338.01 150.7 M326.36 137.55L338.01 130.14 M326.36 137.55L329.59 143.33 M326.36 137.55L329.59 123.22 M338.01 130.14L338.01 141.45 M349.66 137.55L338.01 150.7 M349.66 137.55L338.01 130.14 M349.66 137.55L361.31 150.7 M349.66 137.55L361.31 130.14 M349.66 137.55L352.38 143.33 M349.66 137.55L352.38 123.22 M361.31 130.14L361.31 141.45 M372.96 137.55L361.31 150.7 M372.96 137.55L361.31 130.14 M372.96 137.55L384.6 150.7 M372.96 137.55L384.6 130.14 M372.96 137.55L375.17 143.33 M372.96 137.55L375.17 123.22 M384.6 130.14L384.6 141.45 M396.25 137.55L384.6 150.7 M396.25 137.55L384.6 130.14 M396.25 137.55L407.9 150.7 M396.25 137.55L407.9 130.14 M396.25 137.55L397.96 143.33 M396.25 137.55L397.96 123.22 M407.9 130.14L407.9 141.45 M419.55 137.55L407.9 150.7 M419.55 137.55L407.9 130.14 M419.55 137.55L431.2 150.7 M419.55 137.55L431.2 130.14 M419.55 137.55L420.76 143.33 M419.55 137.55L420.76 123.22 M431.2 130.14L431.2 141.45 M442.85 137.55L431.2 150.7 M442.85 137.55L431.2 130.14 M442.85 137.55L454.5 150.7 M442.85 137.55L454.5 130.14 M442.85 137.55L443.55 143.33 M442.85 137.55L443.55 123.22 M454.5 130.14L454.5 141.45 M466.15 137.55L454.5 150.7 M466.15 137.55L454.5 130.14 M466.15 137.55L477.8 150.7 M466.15 137.55L477.8 130.14 M466.15 137.55L466.34 143.33 M466.15 137.55L466.34 123.22 M477.8 130.14L477.8 141.45 M489.44 137.55L477.8 150.7 M489.44 137.55L477.8 130.14 M489.44 137.55L501.09 150.7 M489.44 137.55L501.09 130.14 M489.44 137.55L489.13 143.33 M489.44 137.55L489.13 123.22 M501.09 130.14L501.09 141.45 M512.74 137.55L501.09 150.7 M512.74 137.55L501.09 130.14 M512.74 137.55L524.39 150.7 M512.74 137.55L524.39 130.14 M512.74 137.55L511.92 143.33 M512.74 137.55L511.92 123.22 M524.39 130.14L524.39 141.45 M536.04 137.55L524.39 150.7 M536.04 137.55L524.39 130.14 M536.04 137.55L547.69 150.7 M536.04 137.55L547.69 130.14 M536.04 137.55L534.71 143.33 M536.04 137.55L534.71 123.22 M547.69 130.14L547.69 141.45 M559.34 137.55L547.69 150.7 M559.34 137.55L547.69 130.14 M559.34 137.55L570.99 150.7 M559.34 137.55L570.99 130.14 M559.34 137.55L557.51 143.33 M559.34 137.55L557.51 123.22 M570.99 130.14L570.99 141.45 M582.64 137.55L570.99 150.7 M582.64 137.55L570.99 130.14 M582.64 137.55L594.28 150.7 M582.64 137.55L594.28 130.14 M582.64 137.55L580.3 143.33 M582.64 137.55L580.3 123.22 M594.28 130.14L594.28 141.45 M605.93 137.55L594.28 150.7 M605.93 137.55L594.28 130.14 M605.93 137.55L617.58 150.7 M605.93 137.55L617.58 130.14 M605.93 137.55L603.09 143.33 M605.93 137.55L603.09 123.22 M617.58 130.14L617.58 141.45 M629.23 137.55L617.58 150.7 M629.23 137.55L617.58 130.14 M629.23 137.55L640.88 150.7 M629.23 137.55L640.88 130.14 M629.23 137.55L625.88 143.33 M629.23 137.55L625.88 123.22 M640.88 130.14L640.88 141.45" stroke="#7d6f6a" stroke-width="1.03" fill="none"/><circle cx="291.41" cy="150.7" r="3.08" fill="url(#gS)"/><circle cx="314.71" cy="150.7" r="3.08" fill="url(#gS)"/><circle cx="338.01" cy="150.7" r="3.08" fill="url(#gS)"/><circle cx="361.31" cy="150.7" r="3.08" fill="url(#gS)"/><circle cx="384.6" cy="150.7" r="3.08" fill="url(#gS)"/><circle cx="407.9" cy="150.7" r="3.08" fill="url(#gS)"/><circle cx="431.2" cy="150.7" r="3.08" fill="url(#gS)"/><circle cx="454.5" cy="150.7" r="3.08" fill="url(#gS)"/><circle cx="477.8" cy="150.7" r="3.08" fill="url(#gS)"/><circle cx="501.09" cy="150.7" r="3.08" fill="url(#gS)"/><circle cx="524.39" cy="150.7" r="3.08" fill="url(#gS)"/><circle cx="547.69" cy="150.7" r="3.08" fill="url(#gS)"/><circle cx="570.99" cy="150.7" r="3.08" fill="url(#gS)"/><circle cx="594.28" cy="150.7" r="3.08" fill="url(#gS)"/><circle cx="617.58" cy="150.7" r="3.08" fill="url(#gS)"/><circle cx="640.88" cy="150.7" r="3.08" fill="url(#gS)"/><circle cx="303.06" cy="137.55" r="3.78" fill="url(#gM)"/><circle cx="326.36" cy="137.55" r="3.78" fill="url(#gM)"/><circle cx="349.66" cy="137.55" r="3.78" fill="url(#gM)"/><circle cx="372.96" cy="137.55" r="3.78" fill="url(#gM)"/><circle cx="396.25" cy="137.55" r="3.78" fill="url(#gM)"/><circle cx="419.55" cy="137.55" r="3.78" fill="url(#gM)"/><circle cx="442.85" cy="137.55" r="3.78" fill="url(#gM)"/><circle cx="466.15" cy="137.55" r="3.78" fill="url(#gM)"/><circle cx="489.44" cy="137.55" r="3.78" fill="url(#gM)"/><circle cx="512.74" cy="137.55" r="3.78" fill="url(#gM)"/><circle cx="536.04" cy="137.55" r="3.78" fill="url(#gM)"/><circle cx="559.34" cy="137.55" r="3.78" fill="url(#gM)"/><circle cx="582.64" cy="137.55" r="3.78" fill="url(#gM)"/><circle cx="605.93" cy="137.55" r="3.78" fill="url(#gM)"/><circle cx="629.23" cy="137.55" r="3.78" fill="url(#gM)"/><circle cx="291.41" cy="130.14" r="3.08" fill="url(#gS)"/><circle cx="314.71" cy="130.14" r="3.08" fill="url(#gS)"/><circle cx="338.01" cy="130.14" r="3.08" fill="url(#gS)"/><circle cx="361.31" cy="130.14" r="3.08" fill="url(#gS)"/><circle cx="384.6" cy="130.14" r="3.08" fill="url(#gS)"/><circle cx="407.9" cy="130.14" r="3.08" fill="url(#gS)"/><circle cx="431.2" cy="130.14" r="3.08" fill="url(#gS)"/><circle cx="454.5" cy="130.14" r="3.08" fill="url(#gS)"/><circle cx="477.8" cy="130.14" r="3.08" fill="url(#gS)"/><circle cx="501.09" cy="130.14" r="3.08" fill="url(#gS)"/><circle cx="524.39" cy="130.14" r="3.08" fill="url(#gS)"/><circle cx="547.69" cy="130.14" r="3.08" fill="url(#gS)"/><circle cx="570.99" cy="130.14" r="3.08" fill="url(#gS)"/><circle cx="594.28" cy="130.14" r="3.08" fill="url(#gS)"/><circle cx="617.58" cy="130.14" r="3.08" fill="url(#gS)"/><circle cx="640.88" cy="130.14" r="3.08" fill="url(#gS)"/><path d="M299.16 137.39L299.16 148.95 M311.07 144.96L299.16 158.41 M311.07 144.96L299.16 137.39 M311.07 144.96L322.99 158.41 M311.07 144.96L322.99 137.39 M311.07 144.96L314.71 150.7 M311.07 144.96L314.71 130.14 M322.99 137.39L322.99 148.95 M334.9 144.96L322.99 158.41 M334.9 144.96L322.99 137.39 M334.9 144.96L346.81 158.41 M334.9 144.96L346.81 137.39 M334.9 144.96L338.01 150.7 M334.9 144.96L338.01 130.14 M346.81 137.39L346.81 148.95 M358.73 144.96L346.81 158.41 M358.73 144.96L346.81 137.39 M358.73 144.96L370.64 158.41 M358.73 144.96L370.64 137.39 M358.73 144.96L361.31 150.7 M358.73 144.96L361.31 130.14 M370.64 137.39L370.64 148.95 M382.55 144.96L370.64 158.41 M382.55 144.96L370.64 137.39 M382.55 144.96L394.47 158.41 M382.55 144.96L394.47 137.39 M382.55 144.96L384.6 150.7 M382.55 144.96L384.6 130.14 M394.47 137.39L394.47 148.95 M406.38 144.96L394.47 158.41 M406.38 144.96L394.47 137.39 M406.38 144.96L418.29 158.41 M406.38 144.96L418.29 137.39 M406.38 144.96L407.9 150.7 M406.38 144.96L407.9 130.14 M418.29 137.39L418.29 148.95 M430.21 144.96L418.29 158.41 M430.21 144.96L418.29 137.39 M430.21 144.96L442.12 158.41 M430.21 144.96L442.12 137.39 M430.21 144.96L431.2 150.7 M430.21 144.96L431.2 130.14 M442.12 137.39L442.12 148.95 M454.03 144.96L442.12 158.41 M454.03 144.96L442.12 137.39 M454.03 144.96L465.95 158.41 M454.03 144.96L465.95 137.39 M454.03 144.96L454.5 150.7 M454.03 144.96L454.5 130.14 M465.95 137.39L465.95 148.95 M477.86 144.96L465.95 158.41 M477.86 144.96L465.95 137.39 M477.86 144.96L489.77 158.41 M477.86 144.96L489.77 137.39 M477.86 144.96L477.8 150.7 M477.86 144.96L477.8 130.14 M489.77 137.39L489.77 148.95 M501.69 144.96L489.77 158.41 M501.69 144.96L489.77 137.39 M501.69 144.96L513.6 158.41 M501.69 144.96L513.6 137.39 M501.69 144.96L501.09 150.7 M501.69 144.96L501.09 130.14 M513.6 137.39L513.6 148.95 M525.51 144.96L513.6 158.41 M525.51 144.96L513.6 137.39 M525.51 144.96L537.43 158.41 M525.51 144.96L537.43 137.39 M525.51 144.96L524.39 150.7 M525.51 144.96L524.39 130.14 M537.43 137.39L537.43 148.95 M549.34 144.96L537.43 158.41 M549.34 144.96L537.43 137.39 M549.34 144.96L561.25 158.41 M549.34 144.96L561.25 137.39 M549.34 144.96L547.69 150.7 M549.34 144.96L547.69 130.14 M561.25 137.39L561.25 148.95 M573.17 144.96L561.25 158.41 M573.17 144.96L561.25 137.39 M573.17 144.96L585.08 158.41 M573.17 144.96L585.08 137.39 M573.17 144.96L570.99 150.7 M573.17 144.96L570.99 130.14 M585.08 137.39L585.08 148.95 M596.99 144.96L585.08 158.41 M596.99 144.96L585.08 137.39 M596.99 144.96L608.91 158.41 M596.99 144.96L608.91 137.39 M596.99 144.96L594.28 150.7 M596.99 144.96L594.28 130.14 M608.91 137.39L608.91 148.95 M620.82 144.96L608.91 158.41 M620.82 144.96L608.91 137.39 M620.82 144.96L632.73 158.41 M620.82 144.96L632.73 137.39 M620.82 144.96L617.58 150.7 M620.82 144.96L617.58 130.14 M632.73 137.39L632.73 148.95 M644.65 144.96L632.73 158.41 M644.65 144.96L632.73 137.39 M644.65 144.96L656.56 158.41 M644.65 144.96L656.56 137.39 M644.65 144.96L640.88 150.7 M644.65 144.96L640.88 130.14 M656.56 137.39L656.56 148.95" stroke="#7d6f6a" stroke-width="1.05" fill="none"/><circle cx="299.16" cy="158.41" r="3.13" fill="url(#gS)"/><circle cx="322.99" cy="158.41" r="3.13" fill="url(#gS)"/><circle cx="346.81" cy="158.41" r="3.13" fill="url(#gS)"/><circle cx="370.64" cy="158.41" r="3.13" fill="url(#gS)"/><circle cx="394.47" cy="158.41" r="3.13" fill="url(#gS)"/><circle cx="418.29" cy="158.41" r="3.13" fill="url(#gS)"/><circle cx="442.12" cy="158.41" r="3.13" fill="url(#gS)"/><circle cx="465.95" cy="158.41" r="3.13" fill="url(#gS)"/><circle cx="489.77" cy="158.41" r="3.13" fill="url(#gS)"/><circle cx="513.6" cy="158.41" r="3.13" fill="url(#gS)"/><circle cx="537.43" cy="158.41" r="3.13" fill="url(#gS)"/><circle cx="561.25" cy="158.41" r="3.13" fill="url(#gS)"/><circle cx="585.08" cy="158.41" r="3.13" fill="url(#gS)"/><circle cx="608.91" cy="158.41" r="3.13" fill="url(#gS)"/><circle cx="632.73" cy="158.41" r="3.13" fill="url(#gS)"/><circle cx="656.56" cy="158.41" r="3.13" fill="url(#gS)"/><circle cx="311.07" cy="144.96" r="3.87" fill="url(#gM)"/><circle cx="334.9" cy="144.96" r="3.87" fill="url(#gM)"/><circle cx="358.73" cy="144.96" r="3.87" fill="url(#gM)"/><circle cx="382.55" cy="144.96" r="3.87" fill="url(#gM)"/><circle cx="406.38" cy="144.96" r="3.87" fill="url(#gM)"/><circle cx="430.21" cy="144.96" r="3.87" fill="url(#gM)"/><circle cx="454.03" cy="144.96" r="3.87" fill="url(#gM)"/><circle cx="477.86" cy="144.96" r="3.87" fill="url(#gM)"/><circle cx="501.69" cy="144.96" r="3.87" fill="url(#gM)"/><circle cx="525.51" cy="144.96" r="3.87" fill="url(#gM)"/><circle cx="549.34" cy="144.96" r="3.87" fill="url(#gM)"/><circle cx="573.17" cy="144.96" r="3.87" fill="url(#gM)"/><circle cx="596.99" cy="144.96" r="3.87" fill="url(#gM)"/><circle cx="620.82" cy="144.96" r="3.87" fill="url(#gM)"/><circle cx="644.65" cy="144.96" r="3.87" fill="url(#gM)"/><circle cx="299.16" cy="137.39" r="3.13" fill="url(#gS)"/><circle cx="322.99" cy="137.39" r="3.13" fill="url(#gS)"/><circle cx="346.81" cy="137.39" r="3.13" fill="url(#gS)"/><circle cx="370.64" cy="137.39" r="3.13" fill="url(#gS)"/><circle cx="394.47" cy="137.39" r="3.13" fill="url(#gS)"/><circle cx="418.29" cy="137.39" r="3.13" fill="url(#gS)"/><circle cx="442.12" cy="137.39" r="3.13" fill="url(#gS)"/><circle cx="465.95" cy="137.39" r="3.13" fill="url(#gS)"/><circle cx="489.77" cy="137.39" r="3.13" fill="url(#gS)"/><circle cx="513.6" cy="137.39" r="3.13" fill="url(#gS)"/><circle cx="537.43" cy="137.39" r="3.13" fill="url(#gS)"/><circle cx="561.25" cy="137.39" r="3.13" fill="url(#gS)"/><circle cx="585.08" cy="137.39" r="3.13" fill="url(#gS)"/><circle cx="608.91" cy="137.39" r="3.13" fill="url(#gS)"/><circle cx="632.73" cy="137.39" r="3.13" fill="url(#gS)"/><circle cx="656.56" cy="137.39" r="3.13" fill="url(#gS)"/><path d="M282.88 144.97L282.88 156.8 M295.07 152.72L282.88 166.49 M295.07 152.72L282.88 144.97 M295.07 152.72L307.26 166.49 M295.07 152.72L307.26 144.97 M295.07 152.72L299.16 158.41 M295.07 152.72L299.16 137.39 M307.26 144.97L307.26 156.8 M319.45 152.72L307.26 166.49 M319.45 152.72L307.26 144.97 M319.45 152.72L331.64 166.49 M319.45 152.72L331.64 144.97 M319.45 152.72L322.99 158.41 M319.45 152.72L322.99 137.39 M331.64 144.97L331.64 156.8 M343.83 152.72L331.64 166.49 M343.83 152.72L331.64 144.97 M343.83 152.72L356.02 166.49 M343.83 152.72L356.02 144.97 M343.83 152.72L346.81 158.41 M343.83 152.72L346.81 137.39 M356.02 144.97L356.02 156.8 M368.21 152.72L356.02 166.49 M368.21 152.72L356.02 144.97 M368.21 152.72L380.4 166.49 M368.21 152.72L380.4 144.97 M368.21 152.72L370.64 158.41 M368.21 152.72L370.64 137.39 M380.4 144.97L380.4 156.8 M392.59 152.72L380.4 166.49 M392.59 152.72L380.4 144.97 M392.59 152.72L404.78 166.49 M392.59 152.72L404.78 144.97 M392.59 152.72L394.47 158.41 M392.59 152.72L394.47 137.39 M404.78 144.97L404.78 156.8 M416.97 152.72L404.78 166.49 M416.97 152.72L404.78 144.97 M416.97 152.72L429.16 166.49 M416.97 152.72L429.16 144.97 M416.97 152.72L418.29 158.41 M416.97 152.72L418.29 137.39 M429.16 144.97L429.16 156.8 M441.36 152.72L429.16 166.49 M441.36 152.72L429.16 144.97 M441.36 152.72L453.55 166.49 M441.36 152.72L453.55 144.97 M441.36 152.72L442.12 158.41 M441.36 152.72L442.12 137.39 M453.55 144.97L453.55 156.8 M465.74 152.72L453.55 166.49 M465.74 152.72L453.55 144.97 M465.74 152.72L477.93 166.49 M465.74 152.72L477.93 144.97 M465.74 152.72L465.95 158.41 M465.74 152.72L465.95 137.39 M477.93 144.97L477.93 156.8 M490.12 152.72L477.93 166.49 M490.12 152.72L477.93 144.97 M490.12 152.72L502.31 166.49 M490.12 152.72L502.31 144.97 M490.12 152.72L489.77 158.41 M490.12 152.72L489.77 137.39 M502.31 144.97L502.31 156.8 M514.5 152.72L502.31 166.49 M514.5 152.72L502.31 144.97 M514.5 152.72L526.69 166.49 M514.5 152.72L526.69 144.97 M514.5 152.72L513.6 158.41 M514.5 152.72L513.6 137.39 M526.69 144.97L526.69 156.8 M538.88 152.72L526.69 166.49 M538.88 152.72L526.69 144.97 M538.88 152.72L551.07 166.49 M538.88 152.72L551.07 144.97 M538.88 152.72L537.43 158.41 M538.88 152.72L537.43 137.39 M551.07 144.97L551.07 156.8 M563.26 152.72L551.07 166.49 M563.26 152.72L551.07 144.97 M563.26 152.72L575.45 166.49 M563.26 152.72L575.45 144.97 M563.26 152.72L561.25 158.41 M563.26 152.72L561.25 137.39 M575.45 144.97L575.45 156.8 M587.64 152.72L575.45 166.49 M587.64 152.72L575.45 144.97 M587.64 152.72L599.83 166.49 M587.64 152.72L599.83 144.97 M587.64 152.72L585.08 158.41 M587.64 152.72L585.08 137.39 M599.83 144.97L599.83 156.8 M612.02 152.72L599.83 166.49 M612.02 152.72L599.83 144.97 M612.02 152.72L624.21 166.49 M612.02 152.72L624.21 144.97 M612.02 152.72L608.91 158.41 M612.02 152.72L608.91 137.39 M624.21 144.97L624.21 156.8 M636.4 152.72L624.21 166.49 M636.4 152.72L624.21 144.97 M636.4 152.72L648.59 166.49 M636.4 152.72L648.59 144.97 M636.4 152.72L632.73 158.41 M636.4 152.72L632.73 137.39 M648.59 144.97L648.59 156.8" stroke="#7d6f6a" stroke-width="1.08" fill="none"/><circle cx="282.88" cy="166.49" r="3.19" fill="url(#gS)"/><circle cx="307.26" cy="166.49" r="3.19" fill="url(#gS)"/><circle cx="331.64" cy="166.49" r="3.19" fill="url(#gS)"/><circle cx="356.02" cy="166.49" r="3.19" fill="url(#gS)"/><circle cx="380.4" cy="166.49" r="3.19" fill="url(#gS)"/><circle cx="404.78" cy="166.49" r="3.19" fill="url(#gS)"/><circle cx="429.16" cy="166.49" r="3.19" fill="url(#gS)"/><circle cx="453.55" cy="166.49" r="3.19" fill="url(#gS)"/><circle cx="477.93" cy="166.49" r="3.19" fill="url(#gS)"/><circle cx="502.31" cy="166.49" r="3.19" fill="url(#gS)"/><circle cx="526.69" cy="166.49" r="3.19" fill="url(#gS)"/><circle cx="551.07" cy="166.49" r="3.19" fill="url(#gS)"/><circle cx="575.45" cy="166.49" r="3.19" fill="url(#gS)"/><circle cx="599.83" cy="166.49" r="3.19" fill="url(#gS)"/><circle cx="624.21" cy="166.49" r="3.19" fill="url(#gS)"/><circle cx="648.59" cy="166.49" r="3.19" fill="url(#gS)"/><circle cx="295.07" cy="152.72" r="3.96" fill="url(#gM)"/><circle cx="319.45" cy="152.72" r="3.96" fill="url(#gM)"/><circle cx="343.83" cy="152.72" r="3.96" fill="url(#gM)"/><circle cx="368.21" cy="152.72" r="3.96" fill="url(#gM)"/><circle cx="392.59" cy="152.72" r="3.96" fill="url(#gM)"/><circle cx="416.97" cy="152.72" r="3.96" fill="url(#gM)"/><circle cx="441.36" cy="152.72" r="3.96" fill="url(#gM)"/><circle cx="465.74" cy="152.72" r="3.96" fill="url(#gM)"/><circle cx="490.12" cy="152.72" r="3.96" fill="url(#gM)"/><circle cx="514.5" cy="152.72" r="3.96" fill="url(#gM)"/><circle cx="538.88" cy="152.72" r="3.96" fill="url(#gM)"/><circle cx="563.26" cy="152.72" r="3.96" fill="url(#gM)"/><circle cx="587.64" cy="152.72" r="3.96" fill="url(#gM)"/><circle cx="612.02" cy="152.72" r="3.96" fill="url(#gM)"/><circle cx="636.4" cy="152.72" r="3.96" fill="url(#gM)"/><circle cx="282.88" cy="144.97" r="3.19" fill="url(#gS)"/><circle cx="307.26" cy="144.97" r="3.19" fill="url(#gS)"/><circle cx="331.64" cy="144.97" r="3.19" fill="url(#gS)"/><circle cx="356.02" cy="144.97" r="3.19" fill="url(#gS)"/><circle cx="380.4" cy="144.97" r="3.19" fill="url(#gS)"/><circle cx="404.78" cy="144.97" r="3.19" fill="url(#gS)"/><circle cx="429.16" cy="144.97" r="3.19" fill="url(#gS)"/><circle cx="453.55" cy="144.97" r="3.19" fill="url(#gS)"/><circle cx="477.93" cy="144.97" r="3.19" fill="url(#gS)"/><circle cx="502.31" cy="144.97" r="3.19" fill="url(#gS)"/><circle cx="526.69" cy="144.97" r="3.19" fill="url(#gS)"/><circle cx="551.07" cy="144.97" r="3.19" fill="url(#gS)"/><circle cx="575.45" cy="144.97" r="3.19" fill="url(#gS)"/><circle cx="599.83" cy="144.97" r="3.19" fill="url(#gS)"/><circle cx="624.21" cy="144.97" r="3.19" fill="url(#gS)"/><circle cx="648.59" cy="144.97" r="3.19" fill="url(#gS)"/><path d="M290.79 152.92L290.79 165.04 M303.27 160.85L290.79 174.95 M303.27 160.85L290.79 152.92 M303.27 160.85L315.75 174.95 M303.27 160.85L315.75 152.92 M303.27 160.85L307.26 166.49 M303.27 160.85L307.26 144.97 M315.75 152.92L315.75 165.04 M328.23 160.85L315.75 174.95 M328.23 160.85L315.75 152.92 M328.23 160.85L340.71 174.95 M328.23 160.85L340.71 152.92 M328.23 160.85L331.64 166.49 M328.23 160.85L331.64 144.97 M340.71 152.92L340.71 165.04 M353.19 160.85L340.71 174.95 M353.19 160.85L340.71 152.92 M353.19 160.85L365.67 174.95 M353.19 160.85L365.67 152.92 M353.19 160.85L356.02 166.49 M353.19 160.85L356.02 144.97 M365.67 152.92L365.67 165.04 M378.15 160.85L365.67 174.95 M378.15 160.85L365.67 152.92 M378.15 160.85L390.63 174.95 M378.15 160.85L390.63 152.92 M378.15 160.85L380.4 166.49 M378.15 160.85L380.4 144.97 M390.63 152.92L390.63 165.04 M403.11 160.85L390.63 174.95 M403.11 160.85L390.63 152.92 M403.11 160.85L415.59 174.95 M403.11 160.85L415.59 152.92 M403.11 160.85L404.78 166.49 M403.11 160.85L404.78 144.97 M415.59 152.92L415.59 165.04 M428.07 160.85L415.59 174.95 M428.07 160.85L415.59 152.92 M428.07 160.85L440.55 174.95 M428.07 160.85L440.55 152.92 M428.07 160.85L429.16 166.49 M428.07 160.85L429.16 144.97 M440.55 152.92L440.55 165.04 M453.03 160.85L440.55 174.95 M453.03 160.85L440.55 152.92 M453.03 160.85L465.52 174.95 M453.03 160.85L465.52 152.92 M453.03 160.85L453.55 166.49 M453.03 160.85L453.55 144.97 M465.52 152.92L465.52 165.04 M478 160.85L465.52 174.95 M478 160.85L465.52 152.92 M478 160.85L490.48 174.95 M478 160.85L490.48 152.92 M478 160.85L477.93 166.49 M478 160.85L477.93 144.97 M490.48 152.92L490.48 165.04 M502.96 160.85L490.48 174.95 M502.96 160.85L490.48 152.92 M502.96 160.85L515.44 174.95 M502.96 160.85L515.44 152.92 M502.96 160.85L502.31 166.49 M502.96 160.85L502.31 144.97 M515.44 152.92L515.44 165.04 M527.92 160.85L515.44 174.95 M527.92 160.85L515.44 152.92 M527.92 160.85L540.4 174.95 M527.92 160.85L540.4 152.92 M527.92 160.85L526.69 166.49 M527.92 160.85L526.69 144.97 M540.4 152.92L540.4 165.04 M552.88 160.85L540.4 174.95 M552.88 160.85L540.4 152.92 M552.88 160.85L565.36 174.95 M552.88 160.85L565.36 152.92 M552.88 160.85L551.07 166.49 M552.88 160.85L551.07 144.97 M565.36 152.92L565.36 165.04 M577.84 160.85L565.36 174.95 M577.84 160.85L565.36 152.92 M577.84 160.85L590.32 174.95 M577.84 160.85L590.32 152.92 M577.84 160.85L575.45 166.49 M577.84 160.85L575.45 144.97 M590.32 152.92L590.32 165.04 M602.8 160.85L590.32 174.95 M602.8 160.85L590.32 152.92 M602.8 160.85L615.28 174.95 M602.8 160.85L615.28 152.92 M602.8 160.85L599.83 166.49 M602.8 160.85L599.83 144.97 M615.28 152.92L615.28 165.04 M627.76 160.85L615.28 174.95 M627.76 160.85L615.28 152.92 M627.76 160.85L640.24 174.95 M627.76 160.85L640.24 152.92 M627.76 160.85L624.21 166.49 M627.76 160.85L624.21 144.97 M640.24 152.92L640.24 165.04 M652.72 160.85L640.24 174.95 M652.72 160.85L640.24 152.92 M652.72 160.85L665.2 174.95 M652.72 160.85L665.2 152.92 M652.72 160.85L648.59 166.49 M652.72 160.85L648.59 144.97 M665.2 152.92L665.2 165.04" stroke="#7d6f6a" stroke-width="1.1" fill="none"/><circle cx="290.79" cy="174.95" r="3.25" fill="url(#gS)"/><circle cx="315.75" cy="174.95" r="3.25" fill="url(#gS)"/><circle cx="340.71" cy="174.95" r="3.25" fill="url(#gS)"/><circle cx="365.67" cy="174.95" r="3.25" fill="url(#gS)"/><circle cx="390.63" cy="174.95" r="3.25" fill="url(#gS)"/><circle cx="415.59" cy="174.95" r="3.25" fill="url(#gS)"/><circle cx="440.55" cy="174.95" r="3.25" fill="url(#gS)"/><circle cx="465.52" cy="174.95" r="3.25" fill="url(#gS)"/><circle cx="490.48" cy="174.95" r="3.25" fill="url(#gS)"/><circle cx="515.44" cy="174.95" r="3.25" fill="url(#gS)"/><circle cx="540.4" cy="174.95" r="3.25" fill="url(#gS)"/><circle cx="565.36" cy="174.95" r="3.25" fill="url(#gS)"/><circle cx="590.32" cy="174.95" r="3.25" fill="url(#gS)"/><circle cx="615.28" cy="174.95" r="3.25" fill="url(#gS)"/><circle cx="640.24" cy="174.95" r="3.25" fill="url(#gS)"/><circle cx="665.2" cy="174.95" r="3.25" fill="url(#gS)"/><circle cx="303.27" cy="160.85" r="4.05" fill="url(#gM)"/><circle cx="328.23" cy="160.85" r="4.05" fill="url(#gM)"/><circle cx="353.19" cy="160.85" r="4.05" fill="url(#gM)"/><circle cx="378.15" cy="160.85" r="4.05" fill="url(#gM)"/><circle cx="403.11" cy="160.85" r="4.05" fill="url(#gM)"/><circle cx="428.07" cy="160.85" r="4.05" fill="url(#gM)"/><circle cx="453.03" cy="160.85" r="4.05" fill="url(#gM)"/><circle cx="478" cy="160.85" r="4.05" fill="url(#gM)"/><circle cx="502.96" cy="160.85" r="4.05" fill="url(#gM)"/><circle cx="527.92" cy="160.85" r="4.05" fill="url(#gM)"/><circle cx="552.88" cy="160.85" r="4.05" fill="url(#gM)"/><circle cx="577.84" cy="160.85" r="4.05" fill="url(#gM)"/><circle cx="602.8" cy="160.85" r="4.05" fill="url(#gM)"/><circle cx="627.76" cy="160.85" r="4.05" fill="url(#gM)"/><circle cx="652.72" cy="160.85" r="4.05" fill="url(#gM)"/><circle cx="290.79" cy="152.92" r="3.25" fill="url(#gS)"/><circle cx="315.75" cy="152.92" r="3.25" fill="url(#gS)"/><circle cx="340.71" cy="152.92" r="3.25" fill="url(#gS)"/><circle cx="365.67" cy="152.92" r="3.25" fill="url(#gS)"/><circle cx="390.63" cy="152.92" r="3.25" fill="url(#gS)"/><circle cx="415.59" cy="152.92" r="3.25" fill="url(#gS)"/><circle cx="440.55" cy="152.92" r="3.25" fill="url(#gS)"/><circle cx="465.52" cy="152.92" r="3.25" fill="url(#gS)"/><circle cx="490.48" cy="152.92" r="3.25" fill="url(#gS)"/><circle cx="515.44" cy="152.92" r="3.25" fill="url(#gS)"/><circle cx="540.4" cy="152.92" r="3.25" fill="url(#gS)"/><circle cx="565.36" cy="152.92" r="3.25" fill="url(#gS)"/><circle cx="590.32" cy="152.92" r="3.25" fill="url(#gS)"/><circle cx="615.28" cy="152.92" r="3.25" fill="url(#gS)"/><circle cx="640.24" cy="152.92" r="3.25" fill="url(#gS)"/><circle cx="665.2" cy="152.92" r="3.25" fill="url(#gS)"/><path d="M273.52 161.26L273.52 173.67 M286.3 169.39L273.52 183.83 M286.3 169.39L273.52 161.26 M286.3 169.39L299.09 183.83 M286.3 169.39L299.09 161.26 M286.3 169.39L290.79 174.95 M286.3 169.39L290.79 152.92 M299.09 161.26L299.09 173.67 M311.87 169.39L299.09 183.83 M311.87 169.39L299.09 161.26 M311.87 169.39L324.66 183.83 M311.87 169.39L324.66 161.26 M311.87 169.39L315.75 174.95 M311.87 169.39L315.75 152.92 M324.66 161.26L324.66 173.67 M337.44 169.39L324.66 183.83 M337.44 169.39L324.66 161.26 M337.44 169.39L350.23 183.83 M337.44 169.39L350.23 161.26 M337.44 169.39L340.71 174.95 M337.44 169.39L340.71 152.92 M350.23 161.26L350.23 173.67 M363.01 169.39L350.23 183.83 M363.01 169.39L350.23 161.26 M363.01 169.39L375.79 183.83 M363.01 169.39L375.79 161.26 M363.01 169.39L365.67 174.95 M363.01 169.39L365.67 152.92 M375.79 161.26L375.79 173.67 M388.58 169.39L375.79 183.83 M388.58 169.39L375.79 161.26 M388.58 169.39L401.36 183.83 M388.58 169.39L401.36 161.26 M388.58 169.39L390.63 174.95 M388.58 169.39L390.63 152.92 M401.36 161.26L401.36 173.67 M414.15 169.39L401.36 183.83 M414.15 169.39L401.36 161.26 M414.15 169.39L426.93 183.83 M414.15 169.39L426.93 161.26 M414.15 169.39L415.59 174.95 M414.15 169.39L415.59 152.92 M426.93 161.26L426.93 173.67 M439.72 169.39L426.93 183.83 M439.72 169.39L426.93 161.26 M439.72 169.39L452.5 183.83 M439.72 169.39L452.5 161.26 M439.72 169.39L440.55 174.95 M439.72 169.39L440.55 152.92 M452.5 161.26L452.5 173.67 M465.28 169.39L452.5 183.83 M465.28 169.39L452.5 161.26 M465.28 169.39L478.07 183.83 M465.28 169.39L478.07 161.26 M465.28 169.39L465.52 174.95 M465.28 169.39L465.52 152.92 M478.07 161.26L478.07 173.67 M490.85 169.39L478.07 183.83 M490.85 169.39L478.07 161.26 M490.85 169.39L503.64 183.83 M490.85 169.39L503.64 161.26 M490.85 169.39L490.48 174.95 M490.85 169.39L490.48 152.92 M503.64 161.26L503.64 173.67 M516.42 169.39L503.64 183.83 M516.42 169.39L503.64 161.26 M516.42 169.39L529.21 183.83 M516.42 169.39L529.21 161.26 M516.42 169.39L515.44 174.95 M516.42 169.39L515.44 152.92 M529.21 161.26L529.21 173.67 M541.99 169.39L529.21 183.83 M541.99 169.39L529.21 161.26 M541.99 169.39L554.77 183.83 M541.99 169.39L554.77 161.26 M541.99 169.39L540.4 174.95 M541.99 169.39L540.4 152.92 M554.77 161.26L554.77 173.67 M567.56 169.39L554.77 183.83 M567.56 169.39L554.77 161.26 M567.56 169.39L580.34 183.83 M567.56 169.39L580.34 161.26 M567.56 169.39L565.36 174.95 M567.56 169.39L565.36 152.92 M580.34 161.26L580.34 173.67 M593.13 169.39L580.34 183.83 M593.13 169.39L580.34 161.26 M593.13 169.39L605.91 183.83 M593.13 169.39L605.91 161.26 M593.13 169.39L590.32 174.95 M593.13 169.39L590.32 152.92 M605.91 161.26L605.91 173.67 M618.7 169.39L605.91 183.83 M618.7 169.39L605.91 161.26 M618.7 169.39L631.48 183.83 M618.7 169.39L631.48 161.26 M618.7 169.39L615.28 174.95 M618.7 169.39L615.28 152.92 M631.48 161.26L631.48 173.67 M644.26 169.39L631.48 183.83 M644.26 169.39L631.48 161.26 M644.26 169.39L657.05 183.83 M644.26 169.39L657.05 161.26 M644.26 169.39L640.24 174.95 M644.26 169.39L640.24 152.92 M657.05 161.26L657.05 173.67" stroke="#7d6f6a" stroke-width="1.13" fill="none"/><circle cx="273.52" cy="183.83" r="3.32" fill="url(#gS)"/><circle cx="299.09" cy="183.83" r="3.32" fill="url(#gS)"/><circle cx="324.66" cy="183.83" r="3.32" fill="url(#gS)"/><circle cx="350.23" cy="183.83" r="3.32" fill="url(#gS)"/><circle cx="375.79" cy="183.83" r="3.32" fill="url(#gS)"/><circle cx="401.36" cy="183.83" r="3.32" fill="url(#gS)"/><circle cx="426.93" cy="183.83" r="3.32" fill="url(#gS)"/><circle cx="452.5" cy="183.83" r="3.32" fill="url(#gS)"/><circle cx="478.07" cy="183.83" r="3.32" fill="url(#gS)"/><circle cx="503.64" cy="183.83" r="3.32" fill="url(#gS)"/><circle cx="529.21" cy="183.83" r="3.32" fill="url(#gS)"/><circle cx="554.77" cy="183.83" r="3.32" fill="url(#gS)"/><circle cx="580.34" cy="183.83" r="3.32" fill="url(#gS)"/><circle cx="605.91" cy="183.83" r="3.32" fill="url(#gS)"/><circle cx="631.48" cy="183.83" r="3.32" fill="url(#gS)"/><circle cx="657.05" cy="183.83" r="3.32" fill="url(#gS)"/><circle cx="286.3" cy="169.39" r="4.15" fill="url(#gM)"/><circle cx="311.87" cy="169.39" r="4.15" fill="url(#gM)"/><circle cx="337.44" cy="169.39" r="4.15" fill="url(#gM)"/><circle cx="363.01" cy="169.39" r="4.15" fill="url(#gM)"/><circle cx="388.58" cy="169.39" r="4.15" fill="url(#gM)"/><circle cx="414.15" cy="169.39" r="4.15" fill="url(#gM)"/><circle cx="439.72" cy="169.39" r="4.15" fill="url(#gM)"/><circle cx="465.28" cy="169.39" r="4.15" fill="url(#gM)"/><circle cx="490.85" cy="169.39" r="4.15" fill="url(#gM)"/><circle cx="516.42" cy="169.39" r="4.15" fill="url(#gM)"/><circle cx="541.99" cy="169.39" r="4.15" fill="url(#gM)"/><circle cx="567.56" cy="169.39" r="4.15" fill="url(#gM)"/><circle cx="593.13" cy="169.39" r="4.15" fill="url(#gM)"/><circle cx="618.7" cy="169.39" r="4.15" fill="url(#gM)"/><circle cx="644.26" cy="169.39" r="4.15" fill="url(#gM)"/><circle cx="273.52" cy="161.26" r="3.32" fill="url(#gS)"/><circle cx="299.09" cy="161.26" r="3.32" fill="url(#gS)"/><circle cx="324.66" cy="161.26" r="3.32" fill="url(#gS)"/><circle cx="350.23" cy="161.26" r="3.32" fill="url(#gS)"/><circle cx="375.79" cy="161.26" r="3.32" fill="url(#gS)"/><circle cx="401.36" cy="161.26" r="3.32" fill="url(#gS)"/><circle cx="426.93" cy="161.26" r="3.32" fill="url(#gS)"/><circle cx="452.5" cy="161.26" r="3.32" fill="url(#gS)"/><circle cx="478.07" cy="161.26" r="3.32" fill="url(#gS)"/><circle cx="503.64" cy="161.26" r="3.32" fill="url(#gS)"/><circle cx="529.21" cy="161.26" r="3.32" fill="url(#gS)"/><circle cx="554.77" cy="161.26" r="3.32" fill="url(#gS)"/><circle cx="580.34" cy="161.26" r="3.32" fill="url(#gS)"/><circle cx="605.91" cy="161.26" r="3.32" fill="url(#gS)"/><circle cx="631.48" cy="161.26" r="3.32" fill="url(#gS)"/><circle cx="657.05" cy="161.26" r="3.32" fill="url(#gS)"/><path d="M281.59 170.03L281.59 182.75 M294.69 178.35L281.59 193.15 M294.69 178.35L281.59 170.03 M294.69 178.35L307.8 193.15 M294.69 178.35L307.8 170.03 M294.69 178.35L299.09 183.83 M294.69 178.35L299.09 161.26 M307.8 170.03L307.8 182.75 M320.9 178.35L307.8 193.15 M320.9 178.35L307.8 170.03 M320.9 178.35L334.01 193.15 M320.9 178.35L334.01 170.03 M320.9 178.35L324.66 183.83 M320.9 178.35L324.66 161.26 M334.01 170.03L334.01 182.75 M347.11 178.35L334.01 193.15 M347.11 178.35L334.01 170.03 M347.11 178.35L360.21 193.15 M347.11 178.35L360.21 170.03 M347.11 178.35L350.23 183.83 M347.11 178.35L350.23 161.26 M360.21 170.03L360.21 182.75 M373.32 178.35L360.21 193.15 M373.32 178.35L360.21 170.03 M373.32 178.35L386.42 193.15 M373.32 178.35L386.42 170.03 M373.32 178.35L375.79 183.83 M373.32 178.35L375.79 161.26 M386.42 170.03L386.42 182.75 M399.52 178.35L386.42 193.15 M399.52 178.35L386.42 170.03 M399.52 178.35L412.63 193.15 M399.52 178.35L412.63 170.03 M399.52 178.35L401.36 183.83 M399.52 178.35L401.36 161.26 M412.63 170.03L412.63 182.75 M425.73 178.35L412.63 193.15 M425.73 178.35L412.63 170.03 M425.73 178.35L438.83 193.15 M425.73 178.35L438.83 170.03 M425.73 178.35L426.93 183.83 M425.73 178.35L426.93 161.26 M438.83 170.03L438.83 182.75 M451.94 178.35L438.83 193.15 M451.94 178.35L438.83 170.03 M451.94 178.35L465.04 193.15 M451.94 178.35L465.04 170.03 M451.94 178.35L452.5 183.83 M451.94 178.35L452.5 161.26 M465.04 170.03L465.04 182.75 M478.14 178.35L465.04 193.15 M478.14 178.35L465.04 170.03 M478.14 178.35L491.25 193.15 M478.14 178.35L491.25 170.03 M478.14 178.35L478.07 183.83 M478.14 178.35L478.07 161.26 M491.25 170.03L491.25 182.75 M504.35 178.35L491.25 193.15 M504.35 178.35L491.25 170.03 M504.35 178.35L517.46 193.15 M504.35 178.35L517.46 170.03 M504.35 178.35L503.64 183.83 M504.35 178.35L503.64 161.26 M517.46 170.03L517.46 182.75 M530.56 178.35L517.46 193.15 M530.56 178.35L517.46 170.03 M530.56 178.35L543.66 193.15 M530.56 178.35L543.66 170.03 M530.56 178.35L529.21 183.83 M530.56 178.35L529.21 161.26 M543.66 170.03L543.66 182.75 M556.77 178.35L543.66 193.15 M556.77 178.35L543.66 170.03 M556.77 178.35L569.87 193.15 M556.77 178.35L569.87 170.03 M556.77 178.35L554.77 183.83 M556.77 178.35L554.77 161.26 M569.87 170.03L569.87 182.75 M582.97 178.35L569.87 193.15 M582.97 178.35L569.87 170.03 M582.97 178.35L596.08 193.15 M582.97 178.35L596.08 170.03 M582.97 178.35L580.34 183.83 M582.97 178.35L580.34 161.26 M596.08 170.03L596.08 182.75 M609.18 178.35L596.08 193.15 M609.18 178.35L596.08 170.03 M609.18 178.35L622.28 193.15 M609.18 178.35L622.28 170.03 M609.18 178.35L605.91 183.83 M609.18 178.35L605.91 161.26 M622.28 170.03L622.28 182.75 M635.39 178.35L622.28 193.15 M635.39 178.35L622.28 170.03 M635.39 178.35L648.49 193.15 M635.39 178.35L648.49 170.03 M635.39 178.35L631.48 183.83 M635.39 178.35L631.48 161.26 M648.49 170.03L648.49 182.75 M661.6 178.35L648.49 193.15 M661.6 178.35L648.49 170.03 M661.6 178.35L674.7 193.15 M661.6 178.35L674.7 170.03 M661.6 178.35L657.05 183.83 M661.6 178.35L657.05 161.26 M674.7 170.03L674.7 182.75" stroke="#7d6f6a" stroke-width="1.16" fill="none"/><circle cx="281.59" cy="193.15" r="3.38" fill="url(#gS)"/><circle cx="307.8" cy="193.15" r="3.38" fill="url(#gS)"/><circle cx="334.01" cy="193.15" r="3.38" fill="url(#gS)"/><circle cx="360.21" cy="193.15" r="3.38" fill="url(#gS)"/><circle cx="386.42" cy="193.15" r="3.38" fill="url(#gS)"/><circle cx="412.63" cy="193.15" r="3.38" fill="url(#gS)"/><circle cx="438.83" cy="193.15" r="3.38" fill="url(#gS)"/><circle cx="465.04" cy="193.15" r="3.38" fill="url(#gS)"/><circle cx="491.25" cy="193.15" r="3.38" fill="url(#gS)"/><circle cx="517.46" cy="193.15" r="3.38" fill="url(#gS)"/><circle cx="543.66" cy="193.15" r="3.38" fill="url(#gS)"/><circle cx="569.87" cy="193.15" r="3.38" fill="url(#gS)"/><circle cx="596.08" cy="193.15" r="3.38" fill="url(#gS)"/><circle cx="622.28" cy="193.15" r="3.38" fill="url(#gS)"/><circle cx="648.49" cy="193.15" r="3.38" fill="url(#gS)"/><circle cx="674.7" cy="193.15" r="3.38" fill="url(#gS)"/><circle cx="294.69" cy="178.35" r="4.26" fill="url(#gM)"/><circle cx="320.9" cy="178.35" r="4.26" fill="url(#gM)"/><circle cx="347.11" cy="178.35" r="4.26" fill="url(#gM)"/><circle cx="373.32" cy="178.35" r="4.26" fill="url(#gM)"/><circle cx="399.52" cy="178.35" r="4.26" fill="url(#gM)"/><circle cx="425.73" cy="178.35" r="4.26" fill="url(#gM)"/><circle cx="451.94" cy="178.35" r="4.26" fill="url(#gM)"/><circle cx="478.14" cy="178.35" r="4.26" fill="url(#gM)"/><circle cx="504.35" cy="178.35" r="4.26" fill="url(#gM)"/><circle cx="530.56" cy="178.35" r="4.26" fill="url(#gM)"/><circle cx="556.77" cy="178.35" r="4.26" fill="url(#gM)"/><circle cx="582.97" cy="178.35" r="4.26" fill="url(#gM)"/><circle cx="609.18" cy="178.35" r="4.26" fill="url(#gM)"/><circle cx="635.39" cy="178.35" r="4.26" fill="url(#gM)"/><circle cx="661.6" cy="178.35" r="4.26" fill="url(#gM)"/><circle cx="281.59" cy="170.03" r="3.38" fill="url(#gS)"/><circle cx="307.8" cy="170.03" r="3.38" fill="url(#gS)"/><circle cx="334.01" cy="170.03" r="3.38" fill="url(#gS)"/><circle cx="360.21" cy="170.03" r="3.38" fill="url(#gS)"/><circle cx="386.42" cy="170.03" r="3.38" fill="url(#gS)"/><circle cx="412.63" cy="170.03" r="3.38" fill="url(#gS)"/><circle cx="438.83" cy="170.03" r="3.38" fill="url(#gS)"/><circle cx="465.04" cy="170.03" r="3.38" fill="url(#gS)"/><circle cx="491.25" cy="170.03" r="3.38" fill="url(#gS)"/><circle cx="517.46" cy="170.03" r="3.38" fill="url(#gS)"/><circle cx="543.66" cy="170.03" r="3.38" fill="url(#gS)"/><circle cx="569.87" cy="170.03" r="3.38" fill="url(#gS)"/><circle cx="596.08" cy="170.03" r="3.38" fill="url(#gS)"/><circle cx="622.28" cy="170.03" r="3.38" fill="url(#gS)"/><circle cx="648.49" cy="170.03" r="3.38" fill="url(#gS)"/><circle cx="674.7" cy="170.03" r="3.38" fill="url(#gS)"/><path d="M263.2 179.25L263.2 192.29 M276.64 187.79L263.2 202.97 M276.64 187.79L263.2 179.25 M276.64 187.79L290.08 202.97 M276.64 187.79L290.08 179.25 M276.64 187.79L281.59 193.15 M276.64 187.79L281.59 170.03 M290.08 179.25L290.08 192.29 M303.51 187.79L290.08 202.97 M303.51 187.79L290.08 179.25 M303.51 187.79L316.95 202.97 M303.51 187.79L316.95 179.25 M303.51 187.79L307.8 193.15 M303.51 187.79L307.8 170.03 M316.95 179.25L316.95 192.29 M330.39 187.79L316.95 202.97 M330.39 187.79L316.95 179.25 M330.39 187.79L343.83 202.97 M330.39 187.79L343.83 179.25 M330.39 187.79L334.01 193.15 M330.39 187.79L334.01 170.03 M343.83 179.25L343.83 192.29 M357.27 187.79L343.83 202.97 M357.27 187.79L343.83 179.25 M357.27 187.79L370.71 202.97 M357.27 187.79L370.71 179.25 M357.27 187.79L360.21 193.15 M357.27 187.79L360.21 170.03 M370.71 179.25L370.71 192.29 M384.15 187.79L370.71 202.97 M384.15 187.79L370.71 179.25 M384.15 187.79L397.59 202.97 M384.15 187.79L397.59 179.25 M384.15 187.79L386.42 193.15 M384.15 187.79L386.42 170.03 M397.59 179.25L397.59 192.29 M411.03 187.79L397.59 202.97 M411.03 187.79L397.59 179.25 M411.03 187.79L424.47 202.97 M411.03 187.79L424.47 179.25 M411.03 187.79L412.63 193.15 M411.03 187.79L412.63 170.03 M424.47 179.25L424.47 192.29 M437.91 187.79L424.47 202.97 M437.91 187.79L424.47 179.25 M437.91 187.79L451.35 202.97 M437.91 187.79L451.35 179.25 M437.91 187.79L438.83 193.15 M437.91 187.79L438.83 170.03 M451.35 179.25L451.35 192.29 M464.79 187.79L451.35 202.97 M464.79 187.79L451.35 179.25 M464.79 187.79L478.23 202.97 M464.79 187.79L478.23 179.25 M464.79 187.79L465.04 193.15 M464.79 187.79L465.04 170.03 M478.23 179.25L478.23 192.29 M491.66 187.79L478.23 202.97 M491.66 187.79L478.23 179.25 M491.66 187.79L505.1 202.97 M491.66 187.79L505.1 179.25 M491.66 187.79L491.25 193.15 M491.66 187.79L491.25 170.03 M505.1 179.25L505.1 192.29 M518.54 187.79L505.1 202.97 M518.54 187.79L505.1 179.25 M518.54 187.79L531.98 202.97 M518.54 187.79L531.98 179.25 M518.54 187.79L517.46 193.15 M518.54 187.79L517.46 170.03 M531.98 179.25L531.98 192.29 M545.42 187.79L531.98 202.97 M545.42 187.79L531.98 179.25 M545.42 187.79L558.86 202.97 M545.42 187.79L558.86 179.25 M545.42 187.79L543.66 193.15 M545.42 187.79L543.66 170.03 M558.86 179.25L558.86 192.29 M572.3 187.79L558.86 202.97 M572.3 187.79L558.86 179.25 M572.3 187.79L585.74 202.97 M572.3 187.79L585.74 179.25 M572.3 187.79L569.87 193.15 M572.3 187.79L569.87 170.03 M585.74 179.25L585.74 192.29 M599.18 187.79L585.74 202.97 M599.18 187.79L585.74 179.25 M599.18 187.79L612.62 202.97 M599.18 187.79L612.62 179.25 M599.18 187.79L596.08 193.15 M599.18 187.79L596.08 170.03 M612.62 179.25L612.62 192.29 M626.06 187.79L612.62 202.97 M626.06 187.79L612.62 179.25 M626.06 187.79L639.5 202.97 M626.06 187.79L639.5 179.25 M626.06 187.79L622.28 193.15 M626.06 187.79L622.28 170.03 M639.5 179.25L639.5 192.29 M652.94 187.79L639.5 202.97 M652.94 187.79L639.5 179.25 M652.94 187.79L666.38 202.97 M652.94 187.79L666.38 179.25 M652.94 187.79L648.49 193.15 M652.94 187.79L648.49 170.03 M666.38 179.25L666.38 192.29" stroke="#7d6f6a" stroke-width="1.19" fill="none"/><circle cx="263.2" cy="202.97" r="3.45" fill="url(#gS)"/><circle cx="290.08" cy="202.97" r="3.45" fill="url(#gS)"/><circle cx="316.95" cy="202.97" r="3.45" fill="url(#gS)"/><circle cx="343.83" cy="202.97" r="3.45" fill="url(#gS)"/><circle cx="370.71" cy="202.97" r="3.45" fill="url(#gS)"/><circle cx="397.59" cy="202.97" r="3.45" fill="url(#gS)"/><circle cx="424.47" cy="202.97" r="3.45" fill="url(#gS)"/><circle cx="451.35" cy="202.97" r="3.45" fill="url(#gS)"/><circle cx="478.23" cy="202.97" r="3.45" fill="url(#gS)"/><circle cx="505.1" cy="202.97" r="3.45" fill="url(#gS)"/><circle cx="531.98" cy="202.97" r="3.45" fill="url(#gS)"/><circle cx="558.86" cy="202.97" r="3.45" fill="url(#gS)"/><circle cx="585.74" cy="202.97" r="3.45" fill="url(#gS)"/><circle cx="612.62" cy="202.97" r="3.45" fill="url(#gS)"/><circle cx="639.5" cy="202.97" r="3.45" fill="url(#gS)"/><circle cx="666.38" cy="202.97" r="3.45" fill="url(#gS)"/><circle cx="276.64" cy="187.79" r="4.36" fill="url(#gM)"/><circle cx="303.51" cy="187.79" r="4.36" fill="url(#gM)"/><circle cx="330.39" cy="187.79" r="4.36" fill="url(#gM)"/><circle cx="357.27" cy="187.79" r="4.36" fill="url(#gM)"/><circle cx="384.15" cy="187.79" r="4.36" fill="url(#gM)"/><circle cx="411.03" cy="187.79" r="4.36" fill="url(#gM)"/><circle cx="437.91" cy="187.79" r="4.36" fill="url(#gM)"/><circle cx="464.79" cy="187.79" r="4.36" fill="url(#gM)"/><circle cx="491.66" cy="187.79" r="4.36" fill="url(#gM)"/><circle cx="518.54" cy="187.79" r="4.36" fill="url(#gM)"/><circle cx="545.42" cy="187.79" r="4.36" fill="url(#gM)"/><circle cx="572.3" cy="187.79" r="4.36" fill="url(#gM)"/><circle cx="599.18" cy="187.79" r="4.36" fill="url(#gM)"/><circle cx="626.06" cy="187.79" r="4.36" fill="url(#gM)"/><circle cx="652.94" cy="187.79" r="4.36" fill="url(#gM)"/><circle cx="263.2" cy="179.25" r="3.45" fill="url(#gS)"/><circle cx="290.08" cy="179.25" r="3.45" fill="url(#gS)"/><circle cx="316.95" cy="179.25" r="3.45" fill="url(#gS)"/><circle cx="343.83" cy="179.25" r="3.45" fill="url(#gS)"/><circle cx="370.71" cy="179.25" r="3.45" fill="url(#gS)"/><circle cx="397.59" cy="179.25" r="3.45" fill="url(#gS)"/><circle cx="424.47" cy="179.25" r="3.45" fill="url(#gS)"/><circle cx="451.35" cy="179.25" r="3.45" fill="url(#gS)"/><circle cx="478.23" cy="179.25" r="3.45" fill="url(#gS)"/><circle cx="505.1" cy="179.25" r="3.45" fill="url(#gS)"/><circle cx="531.98" cy="179.25" r="3.45" fill="url(#gS)"/><circle cx="558.86" cy="179.25" r="3.45" fill="url(#gS)"/><circle cx="585.74" cy="179.25" r="3.45" fill="url(#gS)"/><circle cx="612.62" cy="179.25" r="3.45" fill="url(#gS)"/><circle cx="639.5" cy="179.25" r="3.45" fill="url(#gS)"/><circle cx="666.38" cy="179.25" r="3.45" fill="url(#gS)"/><path d="M271.42 188.96L271.42 202.35 M285.21 197.72L271.42 213.3 M285.21 197.72L271.42 188.96 M285.21 197.72L299.01 213.3 M285.21 197.72L299.01 188.96 M285.21 197.72L290.08 202.97 M285.21 197.72L290.08 179.25 M299.01 188.96L299.01 202.35 M312.8 197.72L299.01 213.3 M312.8 197.72L299.01 188.96 M312.8 197.72L326.59 213.3 M312.8 197.72L326.59 188.96 M312.8 197.72L316.95 202.97 M312.8 197.72L316.95 179.25 M326.59 188.96L326.59 202.35 M340.38 197.72L326.59 213.3 M340.38 197.72L326.59 188.96 M340.38 197.72L354.18 213.3 M340.38 197.72L354.18 188.96 M340.38 197.72L343.83 202.97 M340.38 197.72L343.83 179.25 M354.18 188.96L354.18 202.35 M367.97 197.72L354.18 213.3 M367.97 197.72L354.18 188.96 M367.97 197.72L381.76 213.3 M367.97 197.72L381.76 188.96 M367.97 197.72L370.71 202.97 M367.97 197.72L370.71 179.25 M381.76 188.96L381.76 202.35 M395.55 197.72L381.76 213.3 M395.55 197.72L381.76 188.96 M395.55 197.72L409.35 213.3 M395.55 197.72L409.35 188.96 M395.55 197.72L397.59 202.97 M395.55 197.72L397.59 179.25 M409.35 188.96L409.35 202.35 M423.14 197.72L409.35 213.3 M423.14 197.72L409.35 188.96 M423.14 197.72L436.93 213.3 M423.14 197.72L436.93 188.96 M423.14 197.72L424.47 202.97 M423.14 197.72L424.47 179.25 M436.93 188.96L436.93 202.35 M450.73 197.72L436.93 213.3 M450.73 197.72L436.93 188.96 M450.73 197.72L464.52 213.3 M450.73 197.72L464.52 188.96 M450.73 197.72L451.35 202.97 M450.73 197.72L451.35 179.25 M464.52 188.96L464.52 202.35 M478.31 197.72L464.52 213.3 M478.31 197.72L464.52 188.96 M478.31 197.72L492.1 213.3 M478.31 197.72L492.1 188.96 M478.31 197.72L478.23 202.97 M478.31 197.72L478.23 179.25 M492.1 188.96L492.1 202.35 M505.9 197.72L492.1 213.3 M505.9 197.72L492.1 188.96 M505.9 197.72L519.69 213.3 M505.9 197.72L519.69 188.96 M505.9 197.72L505.1 202.97 M505.9 197.72L505.1 179.25 M519.69 188.96L519.69 202.35 M533.48 197.72L519.69 213.3 M533.48 197.72L519.69 188.96 M533.48 197.72L547.27 213.3 M533.48 197.72L547.27 188.96 M533.48 197.72L531.98 202.97 M533.48 197.72L531.98 179.25 M547.27 188.96L547.27 202.35 M561.07 197.72L547.27 213.3 M561.07 197.72L547.27 188.96 M561.07 197.72L574.86 213.3 M561.07 197.72L574.86 188.96 M561.07 197.72L558.86 202.97 M561.07 197.72L558.86 179.25 M574.86 188.96L574.86 202.35 M588.65 197.72L574.86 213.3 M588.65 197.72L574.86 188.96 M588.65 197.72L602.44 213.3 M588.65 197.72L602.44 188.96 M588.65 197.72L585.74 202.97 M588.65 197.72L585.74 179.25 M602.44 188.96L602.44 202.35 M616.24 197.72L602.44 213.3 M616.24 197.72L602.44 188.96 M616.24 197.72L630.03 213.3 M616.24 197.72L630.03 188.96 M616.24 197.72L612.62 202.97 M616.24 197.72L612.62 179.25 M630.03 188.96L630.03 202.35 M643.82 197.72L630.03 213.3 M643.82 197.72L630.03 188.96 M643.82 197.72L657.61 213.3 M643.82 197.72L657.61 188.96 M643.82 197.72L639.5 202.97 M643.82 197.72L639.5 179.25 M657.61 188.96L657.61 202.35 M671.41 197.72L657.61 213.3 M671.41 197.72L657.61 188.96 M671.41 197.72L685.2 213.3 M671.41 197.72L685.2 188.96 M671.41 197.72L666.38 202.97 M671.41 197.72L666.38 179.25 M685.2 188.96L685.2 202.35" stroke="#7d6f6a" stroke-width="1.22" fill="none"/><circle cx="271.42" cy="213.3" r="3.52" fill="url(#gS)"/><circle cx="299.01" cy="213.3" r="3.52" fill="url(#gS)"/><circle cx="326.59" cy="213.3" r="3.52" fill="url(#gS)"/><circle cx="354.18" cy="213.3" r="3.52" fill="url(#gS)"/><circle cx="381.76" cy="213.3" r="3.52" fill="url(#gS)"/><circle cx="409.35" cy="213.3" r="3.52" fill="url(#gS)"/><circle cx="436.93" cy="213.3" r="3.52" fill="url(#gS)"/><circle cx="464.52" cy="213.3" r="3.52" fill="url(#gS)"/><circle cx="492.1" cy="213.3" r="3.52" fill="url(#gS)"/><circle cx="519.69" cy="213.3" r="3.52" fill="url(#gS)"/><circle cx="547.27" cy="213.3" r="3.52" fill="url(#gS)"/><circle cx="574.86" cy="213.3" r="3.52" fill="url(#gS)"/><circle cx="602.44" cy="213.3" r="3.52" fill="url(#gS)"/><circle cx="630.03" cy="213.3" r="3.52" fill="url(#gS)"/><circle cx="657.61" cy="213.3" r="3.52" fill="url(#gS)"/><circle cx="685.2" cy="213.3" r="3.52" fill="url(#gS)"/><circle cx="285.21" cy="197.72" r="4.48" fill="url(#gM)"/><circle cx="312.8" cy="197.72" r="4.48" fill="url(#gM)"/><circle cx="340.38" cy="197.72" r="4.48" fill="url(#gM)"/><circle cx="367.97" cy="197.72" r="4.48" fill="url(#gM)"/><circle cx="395.55" cy="197.72" r="4.48" fill="url(#gM)"/><circle cx="423.14" cy="197.72" r="4.48" fill="url(#gM)"/><circle cx="450.73" cy="197.72" r="4.48" fill="url(#gM)"/><circle cx="478.31" cy="197.72" r="4.48" fill="url(#gM)"/><circle cx="505.9" cy="197.72" r="4.48" fill="url(#gM)"/><circle cx="533.48" cy="197.72" r="4.48" fill="url(#gM)"/><circle cx="561.07" cy="197.72" r="4.48" fill="url(#gM)"/><circle cx="588.65" cy="197.72" r="4.48" fill="url(#gM)"/><circle cx="616.24" cy="197.72" r="4.48" fill="url(#gM)"/><circle cx="643.82" cy="197.72" r="4.48" fill="url(#gM)"/><circle cx="671.41" cy="197.72" r="4.48" fill="url(#gM)"/><circle cx="271.42" cy="188.96" r="3.52" fill="url(#gS)"/><circle cx="299.01" cy="188.96" r="3.52" fill="url(#gS)"/><circle cx="326.59" cy="188.96" r="3.52" fill="url(#gS)"/><circle cx="354.18" cy="188.96" r="3.52" fill="url(#gS)"/><circle cx="381.76" cy="188.96" r="3.52" fill="url(#gS)"/><circle cx="409.35" cy="188.96" r="3.52" fill="url(#gS)"/><circle cx="436.93" cy="188.96" r="3.52" fill="url(#gS)"/><circle cx="464.52" cy="188.96" r="3.52" fill="url(#gS)"/><circle cx="492.1" cy="188.96" r="3.52" fill="url(#gS)"/><circle cx="519.69" cy="188.96" r="3.52" fill="url(#gS)"/><circle cx="547.27" cy="188.96" r="3.52" fill="url(#gS)"/><circle cx="574.86" cy="188.96" r="3.52" fill="url(#gS)"/><circle cx="602.44" cy="188.96" r="3.52" fill="url(#gS)"/><circle cx="630.03" cy="188.96" r="3.52" fill="url(#gS)"/><circle cx="657.61" cy="188.96" r="3.52" fill="url(#gS)"/><circle cx="685.2" cy="188.96" r="3.52" fill="url(#gS)"/><path d="M251.76 199.2L251.76 212.95 M265.92 208.2L251.76 224.2 M265.92 208.2L251.76 199.2 M265.92 208.2L280.09 224.2 M265.92 208.2L280.09 199.2 M265.92 208.2L271.42 213.3 M265.92 208.2L271.42 188.96 M280.09 199.2L280.09 212.95 M294.25 208.2L280.09 224.2 M294.25 208.2L280.09 199.2 M294.25 208.2L308.42 224.2 M294.25 208.2L308.42 199.2 M294.25 208.2L299.01 213.3 M294.25 208.2L299.01 188.96 M308.42 199.2L308.42 212.95 M322.58 208.2L308.42 224.2 M322.58 208.2L308.42 199.2 M322.58 208.2L336.75 224.2 M322.58 208.2L336.75 199.2 M322.58 208.2L326.59 213.3 M322.58 208.2L326.59 188.96 M336.75 199.2L336.75 212.95 M350.91 208.2L336.75 224.2 M350.91 208.2L336.75 199.2 M350.91 208.2L365.08 224.2 M350.91 208.2L365.08 199.2 M350.91 208.2L354.18 213.3 M350.91 208.2L354.18 188.96 M365.08 199.2L365.08 212.95 M379.24 208.2L365.08 224.2 M379.24 208.2L365.08 199.2 M379.24 208.2L393.41 224.2 M379.24 208.2L393.41 199.2 M379.24 208.2L381.76 213.3 M379.24 208.2L381.76 188.96 M393.41 199.2L393.41 212.95 M407.57 208.2L393.41 224.2 M407.57 208.2L393.41 199.2 M407.57 208.2L421.74 224.2 M407.57 208.2L421.74 199.2 M407.57 208.2L409.35 213.3 M407.57 208.2L409.35 188.96 M421.74 199.2L421.74 212.95 M435.9 208.2L421.74 224.2 M435.9 208.2L421.74 199.2 M435.9 208.2L450.07 224.2 M435.9 208.2L450.07 199.2 M435.9 208.2L436.93 213.3 M435.9 208.2L436.93 188.96 M450.07 199.2L450.07 212.95 M464.23 208.2L450.07 224.2 M464.23 208.2L450.07 199.2 M464.23 208.2L478.4 224.2 M464.23 208.2L478.4 199.2 M464.23 208.2L464.52 213.3 M464.23 208.2L464.52 188.96 M478.4 199.2L478.4 212.95 M492.56 208.2L478.4 224.2 M492.56 208.2L478.4 199.2 M492.56 208.2L506.73 224.2 M492.56 208.2L506.73 199.2 M492.56 208.2L492.1 213.3 M492.56 208.2L492.1 188.96 M506.73 199.2L506.73 212.95 M520.89 208.2L506.73 224.2 M520.89 208.2L506.73 199.2 M520.89 208.2L535.06 224.2 M520.89 208.2L535.06 199.2 M520.89 208.2L519.69 213.3 M520.89 208.2L519.69 188.96 M535.06 199.2L535.06 212.95 M549.22 208.2L535.06 224.2 M549.22 208.2L535.06 199.2 M549.22 208.2L563.39 224.2 M549.22 208.2L563.39 199.2 M549.22 208.2L547.27 213.3 M549.22 208.2L547.27 188.96 M563.39 199.2L563.39 212.95 M577.55 208.2L563.39 224.2 M577.55 208.2L563.39 199.2 M577.55 208.2L591.72 224.2 M577.55 208.2L591.72 199.2 M577.55 208.2L574.86 213.3 M577.55 208.2L574.86 188.96 M591.72 199.2L591.72 212.95 M605.88 208.2L591.72 224.2 M605.88 208.2L591.72 199.2 M605.88 208.2L620.05 224.2 M605.88 208.2L620.05 199.2 M605.88 208.2L602.44 213.3 M605.88 208.2L602.44 188.96 M620.05 199.2L620.05 212.95 M634.21 208.2L620.05 224.2 M634.21 208.2L620.05 199.2 M634.21 208.2L648.38 224.2 M634.21 208.2L648.38 199.2 M634.21 208.2L630.03 213.3 M634.21 208.2L630.03 188.96 M648.38 199.2L648.38 212.95 M662.54 208.2L648.38 224.2 M662.54 208.2L648.38 199.2 M662.54 208.2L676.71 224.2 M662.54 208.2L676.71 199.2 M662.54 208.2L657.61 213.3 M662.54 208.2L657.61 188.96 M676.71 199.2L676.71 212.95" stroke="#7d6f6a" stroke-width="1.25" fill="none"/><circle cx="251.76" cy="224.2" r="3.6" fill="url(#gS)"/><circle cx="280.09" cy="224.2" r="3.6" fill="url(#gS)"/><circle cx="308.42" cy="224.2" r="3.6" fill="url(#gS)"/><circle cx="336.75" cy="224.2" r="3.6" fill="url(#gS)"/><circle cx="365.08" cy="224.2" r="3.6" fill="url(#gS)"/><circle cx="393.41" cy="224.2" r="3.6" fill="url(#gS)"/><circle cx="421.74" cy="224.2" r="3.6" fill="url(#gS)"/><circle cx="450.07" cy="224.2" r="3.6" fill="url(#gS)"/><circle cx="478.4" cy="224.2" r="3.6" fill="url(#gS)"/><circle cx="506.73" cy="224.2" r="3.6" fill="url(#gS)"/><circle cx="535.06" cy="224.2" r="3.6" fill="url(#gS)"/><circle cx="563.39" cy="224.2" r="3.6" fill="url(#gS)"/><circle cx="591.72" cy="224.2" r="3.6" fill="url(#gS)"/><circle cx="620.05" cy="224.2" r="3.6" fill="url(#gS)"/><circle cx="648.38" cy="224.2" r="3.6" fill="url(#gS)"/><circle cx="676.71" cy="224.2" r="3.6" fill="url(#gS)"/><circle cx="265.92" cy="208.2" r="4.6" fill="url(#gM)"/><circle cx="294.25" cy="208.2" r="4.6" fill="url(#gM)"/><circle cx="322.58" cy="208.2" r="4.6" fill="url(#gM)"/><circle cx="350.91" cy="208.2" r="4.6" fill="url(#gM)"/><circle cx="379.24" cy="208.2" r="4.6" fill="url(#gM)"/><circle cx="407.57" cy="208.2" r="4.6" fill="url(#gM)"/><circle cx="435.9" cy="208.2" r="4.6" fill="url(#gM)"/><circle cx="464.23" cy="208.2" r="4.6" fill="url(#gM)"/><circle cx="492.56" cy="208.2" r="4.6" fill="url(#gM)"/><circle cx="520.89" cy="208.2" r="4.6" fill="url(#gM)"/><circle cx="549.22" cy="208.2" r="4.6" fill="url(#gM)"/><circle cx="577.55" cy="208.2" r="4.6" fill="url(#gM)"/><circle cx="605.88" cy="208.2" r="4.6" fill="url(#gM)"/><circle cx="634.21" cy="208.2" r="4.6" fill="url(#gM)"/><circle cx="662.54" cy="208.2" r="4.6" fill="url(#gM)"/><circle cx="251.76" cy="199.2" r="3.6" fill="url(#gS)"/><circle cx="280.09" cy="199.2" r="3.6" fill="url(#gS)"/><circle cx="308.42" cy="199.2" r="3.6" fill="url(#gS)"/><circle cx="336.75" cy="199.2" r="3.6" fill="url(#gS)"/><circle cx="365.08" cy="199.2" r="3.6" fill="url(#gS)"/><circle cx="393.41" cy="199.2" r="3.6" fill="url(#gS)"/><circle cx="421.74" cy="199.2" r="3.6" fill="url(#gS)"/><circle cx="450.07" cy="199.2" r="3.6" fill="url(#gS)"/><circle cx="478.4" cy="199.2" r="3.6" fill="url(#gS)"/><circle cx="506.73" cy="199.2" r="3.6" fill="url(#gS)"/><circle cx="535.06" cy="199.2" r="3.6" fill="url(#gS)"/><circle cx="563.39" cy="199.2" r="3.6" fill="url(#gS)"/><circle cx="591.72" cy="199.2" r="3.6" fill="url(#gS)"/><circle cx="620.05" cy="199.2" r="3.6" fill="url(#gS)"/><circle cx="648.38" cy="199.2" r="3.6" fill="url(#gS)"/><circle cx="676.71" cy="199.2" r="3.6" fill="url(#gS)"/></g>
<polygon points="272,195 378,195 372,214 266,214" fill="url(#shadow)" />
<polygon points="574,195 686,195 692,214 580,214" fill="url(#shadow)" />
<circle cx="438" cy="134.33" r="2.17" fill="url(#gO)"/>
<circle cx="446.67" cy="138.83" r="2.17" fill="url(#gO)"/>
<circle cx="485.33" cy="134.67" r="2.17" fill="url(#gO)"/>
<circle cx="494.67" cy="139.33" r="2.17" fill="url(#gO)"/>
<circle cx="508.67" cy="134.33" r="2.17" fill="url(#gO)"/>
<circle cx="518.33" cy="139.33" r="2.17" fill="url(#gO)"/>
<circle cx="439.33" cy="173.83" r="2.39" fill="url(#gO)"/>
<circle cx="492" cy="173.33" r="2.39" fill="url(#gO)"/>
<circle cx="409.17" cy="193" r="2.39" fill="url(#gO)"/>
<circle cx="493" cy="193.33" r="2.39" fill="url(#gO)"/>
<circle cx="338.67" cy="201.33" r="2.61" fill="url(#gO)"/>
<polygon points="396.7,100.3 398,110 377.2,194.6 374.6,175" fill="#ec9cec" />
<polygon points="396.7,100.3 397.6,106 376.3,184.8 374.6,175" fill="#d9a045" />
<polygon points="273.3,100 396.7,100 374.6,176 215.7,176" fill="url(#auTop)" />
<polygon points="215.7,175.6 374.6,175.6 375.5,184.8 216.4,184.8" fill="#c8933d" />
<polygon points="217,184.5 375.5,184.5 377.2,194.6 218.5,194.6" fill="#e995ea" />
<polygon points="551.9,101.5 550.6,111 572.6,195.2 575.2,176.5" fill="#ec9cec" />
<polygon points="551.9,101.5 551,107 573.4,185.6 575.2,176.5" fill="#d9a045" />
<polygon points="551.9,101.5 675,101.5 733.5,176.5 575.2,176.5" fill="url(#auTop)" />
<polygon points="575.2,176.2 733.5,176.2 733.2,185.6 574.3,185.6" fill="#c8933d" />
<polygon points="574.3,185.3 733,185.3 731.5,195.3 572.6,195.3" fill="#e995ea" />
<text class="t" x="469.5" y="63.5" font-size="26" text-anchor="middle" letter-spacing="0.4">MoS<tspan dy="4" font-size="19">2</tspan></text>
<line x1="474" y1="68.5" x2="474" y2="113" stroke="#222" stroke-width="1.1" />
<polygon points="474,117 471.6,109.5 476.4,109.5" fill="#111" />
<text class="t" x="299.5" y="149.5" font-size="25.5" text-anchor="middle" fill="#000" >Au</text>
<text class="t" x="646" y="149.5" font-size="25.5" text-anchor="middle" fill="#000" >Au</text>
<text class="t" x="165" y="193.5" font-size="25.5" text-anchor="start" fill="#000" >Ti</text>
<text class="t" x="763.5" y="196" font-size="25.5" text-anchor="start" fill="#000" >Ti</text>
<line x1="192.7" y1="187.3" x2="227" y2="187.3" stroke="#333" stroke-width="1.1" />
<line x1="718.3" y1="190" x2="758.3" y2="190" stroke="#333" stroke-width="1.1" />
<text class="t" x="467.5" y="275" font-size="26" text-anchor="middle" letter-spacing="0.5">100nm SiO<tspan dy="4" font-size="19">2</tspan></text>
<text class="t" x="433.5" y="301.8" font-size="26">P<tspan dy="-9" font-size="17">+</tspan><tspan dy="9" dx="11.5" font-size="26"> Si</tspan></text>
<polygon points="224.2,1132.5 774.2,1132.5 696,1020.7 320,1020.7" fill="url(#fTop)" />
<polygon points="224.2,1132.3 774.2,1132.3 765,1186.3 234.2,1186.7" fill="url(#fFront)" />
<clipPath id="clipTopF"><polygon points="224.2,1132.5 774.2,1132.5 696,1020.7 320,1020.7"/></clipPath>
<g clip-path="url(#clipTopF)"><ellipse cx="683" cy="1089" rx="40" ry="11" fill="#3a44f2" opacity="0.72" filter="url(#blur6)"/><ellipse cx="296" cy="1093" rx="26" ry="9" fill="#3a6cf0" opacity="0.4" filter="url(#blur6)"/></g>
<polygon points="404,1002.3 502.7,1002.3 503.3,1115.8 311.7,1115.8 308.3,1080" fill="#14305f" opacity="0.62"/>
<polygon points="404,1002.3 502.7,1002.3 502.8,1014 400,1014" fill="#6b6e60" opacity="0.55"/>
<polygon points="308.3,1080 320,1080 321,1115.8 311.7,1115.8" fill="#5b84c8" opacity="0.5"/>
<clipPath id="clipF"><polygon points="323,985 667,985 667,1125 323,1125"/></clipPath>
<g clip-path="url(#clipF)"><path d="M363.95 1008.69L363.95 1019.48 M375.1 1015.93L363.95 1028.32 M375.1 1015.93L363.95 1008.69 M375.1 1015.93L386.24 1028.32 M375.1 1015.93L386.24 1008.69 M386.24 1008.69L386.24 1019.48 M397.38 1015.93L386.24 1028.32 M397.38 1015.93L386.24 1008.69 M397.38 1015.93L408.52 1028.32 M397.38 1015.93L408.52 1008.69 M408.52 1008.69L408.52 1019.48 M419.67 1015.93L408.52 1028.32 M419.67 1015.93L408.52 1008.69 M419.67 1015.93L430.81 1028.32 M419.67 1015.93L430.81 1008.69 M430.81 1008.69L430.81 1019.48 M441.95 1015.93L430.81 1028.32 M441.95 1015.93L430.81 1008.69 M441.95 1015.93L453.09 1028.32 M441.95 1015.93L453.09 1008.69 M453.09 1008.69L453.09 1019.48 M464.24 1015.93L453.09 1028.32 M464.24 1015.93L453.09 1008.69 M464.24 1015.93L475.38 1028.32 M464.24 1015.93L475.38 1008.69 M475.38 1008.69L475.38 1019.48 M486.52 1015.93L475.38 1028.32 M486.52 1015.93L475.38 1008.69 M486.52 1015.93L497.66 1028.32 M486.52 1015.93L497.66 1008.69 M497.66 1008.69L497.66 1019.48 M508.81 1015.93L497.66 1028.32 M508.81 1015.93L497.66 1008.69 M508.81 1015.93L519.95 1028.32 M508.81 1015.93L519.95 1008.69 M519.95 1008.69L519.95 1019.48 M531.09 1015.93L519.95 1028.32 M531.09 1015.93L519.95 1008.69 M531.09 1015.93L542.23 1028.32 M531.09 1015.93L542.23 1008.69 M542.23 1008.69L542.23 1019.48 M553.37 1015.93L542.23 1028.32 M553.37 1015.93L542.23 1008.69 M553.37 1015.93L564.52 1028.32 M553.37 1015.93L564.52 1008.69 M564.52 1008.69L564.52 1019.48 M575.66 1015.93L564.52 1028.32 M575.66 1015.93L564.52 1008.69 M575.66 1015.93L586.8 1028.32 M575.66 1015.93L586.8 1008.69 M586.8 1008.69L586.8 1019.48 M597.94 1015.93L586.8 1028.32 M597.94 1015.93L586.8 1008.69 M597.94 1015.93L609.09 1028.32 M597.94 1015.93L609.09 1008.69 M609.09 1008.69L609.09 1019.48 M620.23 1015.93L609.09 1028.32 M620.23 1015.93L609.09 1008.69 M620.23 1015.93L631.37 1028.32 M620.23 1015.93L631.37 1008.69 M631.37 1008.69L631.37 1019.48 M642.51 1015.93L631.37 1028.32 M642.51 1015.93L631.37 1008.69 M642.51 1015.93L653.66 1028.32 M642.51 1015.93L653.66 1008.69 M653.66 1008.69L653.66 1019.48" stroke="#8a7c78" stroke-width="1.01" fill="none"/><circle cx="363.95" cy="1028.32" r="3.03" fill="url(#gS)"/><circle cx="386.24" cy="1028.32" r="3.03" fill="url(#gS)"/><circle cx="408.52" cy="1028.32" r="3.03" fill="url(#gS)"/><circle cx="430.81" cy="1028.32" r="3.03" fill="url(#gS)"/><circle cx="453.09" cy="1028.32" r="3.03" fill="url(#gS)"/><circle cx="475.38" cy="1028.32" r="3.03" fill="url(#gS)"/><circle cx="497.66" cy="1028.32" r="3.03" fill="url(#gS)"/><circle cx="519.95" cy="1028.32" r="3.03" fill="url(#gS)"/><circle cx="542.23" cy="1028.32" r="3.03" fill="url(#gS)"/><circle cx="564.52" cy="1028.32" r="3.03" fill="url(#gS)"/><circle cx="586.8" cy="1028.32" r="3.03" fill="url(#gS)"/><circle cx="609.09" cy="1028.32" r="3.03" fill="url(#gS)"/><circle cx="631.37" cy="1028.32" r="3.03" fill="url(#gS)"/><circle cx="653.66" cy="1028.32" r="3.03" fill="url(#gS)"/><circle cx="375.1" cy="1015.93" r="3.7" fill="url(#gM)"/><circle cx="397.38" cy="1015.93" r="3.7" fill="url(#gM)"/><circle cx="419.67" cy="1015.93" r="3.7" fill="url(#gM)"/><circle cx="441.95" cy="1015.93" r="3.7" fill="url(#gM)"/><circle cx="464.24" cy="1015.93" r="3.7" fill="url(#gM)"/><circle cx="486.52" cy="1015.93" r="3.7" fill="url(#gM)"/><circle cx="508.81" cy="1015.93" r="3.7" fill="url(#gM)"/><circle cx="531.09" cy="1015.93" r="3.7" fill="url(#gM)"/><circle cx="553.37" cy="1015.93" r="3.7" fill="url(#gM)"/><circle cx="575.66" cy="1015.93" r="3.7" fill="url(#gM)"/><circle cx="597.94" cy="1015.93" r="3.7" fill="url(#gM)"/><circle cx="620.23" cy="1015.93" r="3.7" fill="url(#gM)"/><circle cx="642.51" cy="1015.93" r="3.7" fill="url(#gM)"/><circle cx="363.95" cy="1008.69" r="3.03" fill="url(#gS)"/><circle cx="386.24" cy="1008.69" r="3.03" fill="url(#gS)"/><circle cx="408.52" cy="1008.69" r="3.03" fill="url(#gS)"/><circle cx="430.81" cy="1008.69" r="3.03" fill="url(#gS)"/><circle cx="453.09" cy="1008.69" r="3.03" fill="url(#gS)"/><circle cx="475.38" cy="1008.69" r="3.03" fill="url(#gS)"/><circle cx="497.66" cy="1008.69" r="3.03" fill="url(#gS)"/><circle cx="519.95" cy="1008.69" r="3.03" fill="url(#gS)"/><circle cx="542.23" cy="1008.69" r="3.03" fill="url(#gS)"/><circle cx="564.52" cy="1008.69" r="3.03" fill="url(#gS)"/><circle cx="586.8" cy="1008.69" r="3.03" fill="url(#gS)"/><circle cx="609.09" cy="1008.69" r="3.03" fill="url(#gS)"/><circle cx="631.37" cy="1008.69" r="3.03" fill="url(#gS)"/><circle cx="653.66" cy="1008.69" r="3.03" fill="url(#gS)"/><path d="M349.57 1015.49L349.57 1026.52 M360.96 1022.89L349.57 1035.55 M360.96 1022.89L349.57 1015.49 M360.96 1022.89L372.35 1035.55 M360.96 1022.89L372.35 1015.49 M360.96 1022.89L363.95 1028.32 M360.96 1022.89L363.95 1008.69 M372.35 1015.49L372.35 1026.52 M383.74 1022.89L372.35 1035.55 M383.74 1022.89L372.35 1015.49 M383.74 1022.89L395.12 1035.55 M383.74 1022.89L395.12 1015.49 M383.74 1022.89L386.24 1028.32 M383.74 1022.89L386.24 1008.69 M395.12 1015.49L395.12 1026.52 M406.51 1022.89L395.12 1035.55 M406.51 1022.89L395.12 1015.49 M406.51 1022.89L417.9 1035.55 M406.51 1022.89L417.9 1015.49 M406.51 1022.89L408.52 1028.32 M406.51 1022.89L408.52 1008.69 M417.9 1015.49L417.9 1026.52 M429.29 1022.89L417.9 1035.55 M429.29 1022.89L417.9 1015.49 M429.29 1022.89L440.68 1035.55 M429.29 1022.89L440.68 1015.49 M429.29 1022.89L430.81 1028.32 M429.29 1022.89L430.81 1008.69 M440.68 1015.49L440.68 1026.52 M452.07 1022.89L440.68 1035.55 M452.07 1022.89L440.68 1015.49 M452.07 1022.89L463.46 1035.55 M452.07 1022.89L463.46 1015.49 M452.07 1022.89L453.09 1028.32 M452.07 1022.89L453.09 1008.69 M463.46 1015.49L463.46 1026.52 M474.85 1022.89L463.46 1035.55 M474.85 1022.89L463.46 1015.49 M474.85 1022.89L486.24 1035.55 M474.85 1022.89L486.24 1015.49 M474.85 1022.89L475.38 1028.32 M474.85 1022.89L475.38 1008.69 M486.24 1015.49L486.24 1026.52 M497.63 1022.89L486.24 1035.55 M497.63 1022.89L486.24 1015.49 M497.63 1022.89L509.02 1035.55 M497.63 1022.89L509.02 1015.49 M497.63 1022.89L497.66 1028.32 M497.63 1022.89L497.66 1008.69 M509.02 1015.49L509.02 1026.52 M520.41 1022.89L509.02 1035.55 M520.41 1022.89L509.02 1015.49 M520.41 1022.89L531.8 1035.55 M520.41 1022.89L531.8 1015.49 M520.41 1022.89L519.95 1028.32 M520.41 1022.89L519.95 1008.69 M531.8 1015.49L531.8 1026.52 M543.19 1022.89L531.8 1035.55 M543.19 1022.89L531.8 1015.49 M543.19 1022.89L554.58 1035.55 M543.19 1022.89L554.58 1015.49 M543.19 1022.89L542.23 1028.32 M543.19 1022.89L542.23 1008.69 M554.58 1015.49L554.58 1026.52 M565.97 1022.89L554.58 1035.55 M565.97 1022.89L554.58 1015.49 M565.97 1022.89L577.36 1035.55 M565.97 1022.89L577.36 1015.49 M565.97 1022.89L564.52 1028.32 M565.97 1022.89L564.52 1008.69 M577.36 1015.49L577.36 1026.52 M588.75 1022.89L577.36 1035.55 M588.75 1022.89L577.36 1015.49 M588.75 1022.89L600.14 1035.55 M588.75 1022.89L600.14 1015.49 M588.75 1022.89L586.8 1028.32 M588.75 1022.89L586.8 1008.69 M600.14 1015.49L600.14 1026.52 M611.53 1022.89L600.14 1035.55 M611.53 1022.89L600.14 1015.49 M611.53 1022.89L622.92 1035.55 M611.53 1022.89L622.92 1015.49 M611.53 1022.89L609.09 1028.32 M611.53 1022.89L609.09 1008.69 M622.92 1015.49L622.92 1026.52 M634.31 1022.89L622.92 1035.55 M634.31 1022.89L622.92 1015.49 M634.31 1022.89L645.7 1035.55 M634.31 1022.89L645.7 1015.49 M634.31 1022.89L631.37 1028.32 M634.31 1022.89L631.37 1008.69 M645.7 1015.49L645.7 1026.52" stroke="#8a7c78" stroke-width="1.03" fill="none"/><circle cx="349.57" cy="1035.55" r="3.08" fill="url(#gS)"/><circle cx="372.35" cy="1035.55" r="3.08" fill="url(#gS)"/><circle cx="395.12" cy="1035.55" r="3.08" fill="url(#gS)"/><circle cx="417.9" cy="1035.55" r="3.08" fill="url(#gS)"/><circle cx="440.68" cy="1035.55" r="3.08" fill="url(#gS)"/><circle cx="463.46" cy="1035.55" r="3.08" fill="url(#gS)"/><circle cx="486.24" cy="1035.55" r="3.08" fill="url(#gS)"/><circle cx="509.02" cy="1035.55" r="3.08" fill="url(#gS)"/><circle cx="531.8" cy="1035.55" r="3.08" fill="url(#gS)"/><circle cx="554.58" cy="1035.55" r="3.08" fill="url(#gS)"/><circle cx="577.36" cy="1035.55" r="3.08" fill="url(#gS)"/><circle cx="600.14" cy="1035.55" r="3.08" fill="url(#gS)"/><circle cx="622.92" cy="1035.55" r="3.08" fill="url(#gS)"/><circle cx="645.7" cy="1035.55" r="3.08" fill="url(#gS)"/><circle cx="360.96" cy="1022.89" r="3.78" fill="url(#gM)"/><circle cx="383.74" cy="1022.89" r="3.78" fill="url(#gM)"/><circle cx="406.51" cy="1022.89" r="3.78" fill="url(#gM)"/><circle cx="429.29" cy="1022.89" r="3.78" fill="url(#gM)"/><circle cx="452.07" cy="1022.89" r="3.78" fill="url(#gM)"/><circle cx="474.85" cy="1022.89" r="3.78" fill="url(#gM)"/><circle cx="497.63" cy="1022.89" r="3.78" fill="url(#gM)"/><circle cx="520.41" cy="1022.89" r="3.78" fill="url(#gM)"/><circle cx="543.19" cy="1022.89" r="3.78" fill="url(#gM)"/><circle cx="565.97" cy="1022.89" r="3.78" fill="url(#gM)"/><circle cx="588.75" cy="1022.89" r="3.78" fill="url(#gM)"/><circle cx="611.53" cy="1022.89" r="3.78" fill="url(#gM)"/><circle cx="634.31" cy="1022.89" r="3.78" fill="url(#gM)"/><circle cx="349.57" cy="1015.49" r="3.08" fill="url(#gS)"/><circle cx="372.35" cy="1015.49" r="3.08" fill="url(#gS)"/><circle cx="395.12" cy="1015.49" r="3.08" fill="url(#gS)"/><circle cx="417.9" cy="1015.49" r="3.08" fill="url(#gS)"/><circle cx="440.68" cy="1015.49" r="3.08" fill="url(#gS)"/><circle cx="463.46" cy="1015.49" r="3.08" fill="url(#gS)"/><circle cx="486.24" cy="1015.49" r="3.08" fill="url(#gS)"/><circle cx="509.02" cy="1015.49" r="3.08" fill="url(#gS)"/><circle cx="531.8" cy="1015.49" r="3.08" fill="url(#gS)"/><circle cx="554.58" cy="1015.49" r="3.08" fill="url(#gS)"/><circle cx="577.36" cy="1015.49" r="3.08" fill="url(#gS)"/><circle cx="600.14" cy="1015.49" r="3.08" fill="url(#gS)"/><circle cx="622.92" cy="1015.49" r="3.08" fill="url(#gS)"/><circle cx="645.7" cy="1015.49" r="3.08" fill="url(#gS)"/><path d="M357.82 1022.6L357.82 1033.89 M369.47 1030.17L357.82 1043.12 M369.47 1030.17L357.82 1022.6 M369.47 1030.17L381.12 1043.12 M369.47 1030.17L381.12 1022.6 M369.47 1030.17L372.35 1035.55 M369.47 1030.17L372.35 1015.49 M381.12 1022.6L381.12 1033.89 M392.77 1030.17L381.12 1043.12 M392.77 1030.17L381.12 1022.6 M392.77 1030.17L404.41 1043.12 M392.77 1030.17L404.41 1022.6 M392.77 1030.17L395.12 1035.55 M392.77 1030.17L395.12 1015.49 M404.41 1022.6L404.41 1033.89 M416.06 1030.17L404.41 1043.12 M416.06 1030.17L404.41 1022.6 M416.06 1030.17L427.71 1043.12 M416.06 1030.17L427.71 1022.6 M416.06 1030.17L417.9 1035.55 M416.06 1030.17L417.9 1015.49 M427.71 1022.6L427.71 1033.89 M439.36 1030.17L427.71 1043.12 M439.36 1030.17L427.71 1022.6 M439.36 1030.17L451.01 1043.12 M439.36 1030.17L451.01 1022.6 M439.36 1030.17L440.68 1035.55 M439.36 1030.17L440.68 1015.49 M451.01 1022.6L451.01 1033.89 M462.66 1030.17L451.01 1043.12 M462.66 1030.17L451.01 1022.6 M462.66 1030.17L474.31 1043.12 M462.66 1030.17L474.31 1022.6 M462.66 1030.17L463.46 1035.55 M462.66 1030.17L463.46 1015.49 M474.31 1022.6L474.31 1033.89 M485.95 1030.17L474.31 1043.12 M485.95 1030.17L474.31 1022.6 M485.95 1030.17L497.6 1043.12 M485.95 1030.17L497.6 1022.6 M485.95 1030.17L486.24 1035.55 M485.95 1030.17L486.24 1015.49 M497.6 1022.6L497.6 1033.89 M509.25 1030.17L497.6 1043.12 M509.25 1030.17L497.6 1022.6 M509.25 1030.17L520.9 1043.12 M509.25 1030.17L520.9 1022.6 M509.25 1030.17L509.02 1035.55 M509.25 1030.17L509.02 1015.49 M520.9 1022.6L520.9 1033.89 M532.55 1030.17L520.9 1043.12 M532.55 1030.17L520.9 1022.6 M532.55 1030.17L544.2 1043.12 M532.55 1030.17L544.2 1022.6 M532.55 1030.17L531.8 1035.55 M532.55 1030.17L531.8 1015.49 M544.2 1022.6L544.2 1033.89 M555.84 1030.17L544.2 1043.12 M555.84 1030.17L544.2 1022.6 M555.84 1030.17L567.49 1043.12 M555.84 1030.17L567.49 1022.6 M555.84 1030.17L554.58 1035.55 M555.84 1030.17L554.58 1015.49 M567.49 1022.6L567.49 1033.89 M579.14 1030.17L567.49 1043.12 M579.14 1030.17L567.49 1022.6 M579.14 1030.17L590.79 1043.12 M579.14 1030.17L590.79 1022.6 M579.14 1030.17L577.36 1035.55 M579.14 1030.17L577.36 1015.49 M590.79 1022.6L590.79 1033.89 M602.44 1030.17L590.79 1043.12 M602.44 1030.17L590.79 1022.6 M602.44 1030.17L614.09 1043.12 M602.44 1030.17L614.09 1022.6 M602.44 1030.17L600.14 1035.55 M602.44 1030.17L600.14 1015.49 M614.09 1022.6L614.09 1033.89 M625.74 1030.17L614.09 1043.12 M625.74 1030.17L614.09 1022.6 M625.74 1030.17L637.38 1043.12 M625.74 1030.17L637.38 1022.6 M625.74 1030.17L622.92 1035.55 M625.74 1030.17L622.92 1015.49 M637.38 1022.6L637.38 1033.89 M649.03 1030.17L637.38 1043.12 M649.03 1030.17L637.38 1022.6 M649.03 1030.17L660.68 1043.12 M649.03 1030.17L660.68 1022.6 M649.03 1030.17L645.7 1035.55 M649.03 1030.17L645.7 1015.49 M660.68 1022.6L660.68 1033.89" stroke="#8a7c78" stroke-width="1.05" fill="none"/><circle cx="357.82" cy="1043.12" r="3.13" fill="url(#gS)"/><circle cx="381.12" cy="1043.12" r="3.13" fill="url(#gS)"/><circle cx="404.41" cy="1043.12" r="3.13" fill="url(#gS)"/><circle cx="427.71" cy="1043.12" r="3.13" fill="url(#gS)"/><circle cx="451.01" cy="1043.12" r="3.13" fill="url(#gS)"/><circle cx="474.31" cy="1043.12" r="3.13" fill="url(#gS)"/><circle cx="497.6" cy="1043.12" r="3.13" fill="url(#gS)"/><circle cx="520.9" cy="1043.12" r="3.13" fill="url(#gS)"/><circle cx="544.2" cy="1043.12" r="3.13" fill="url(#gS)"/><circle cx="567.49" cy="1043.12" r="3.13" fill="url(#gS)"/><circle cx="590.79" cy="1043.12" r="3.13" fill="url(#gS)"/><circle cx="614.09" cy="1043.12" r="3.13" fill="url(#gS)"/><circle cx="637.38" cy="1043.12" r="3.13" fill="url(#gS)"/><circle cx="660.68" cy="1043.12" r="3.13" fill="url(#gS)"/><circle cx="369.47" cy="1030.17" r="3.87" fill="url(#gM)"/><circle cx="392.77" cy="1030.17" r="3.87" fill="url(#gM)"/><circle cx="416.06" cy="1030.17" r="3.87" fill="url(#gM)"/><circle cx="439.36" cy="1030.17" r="3.87" fill="url(#gM)"/><circle cx="462.66" cy="1030.17" r="3.87" fill="url(#gM)"/><circle cx="485.95" cy="1030.17" r="3.87" fill="url(#gM)"/><circle cx="509.25" cy="1030.17" r="3.87" fill="url(#gM)"/><circle cx="532.55" cy="1030.17" r="3.87" fill="url(#gM)"/><circle cx="555.84" cy="1030.17" r="3.87" fill="url(#gM)"/><circle cx="579.14" cy="1030.17" r="3.87" fill="url(#gM)"/><circle cx="602.44" cy="1030.17" r="3.87" fill="url(#gM)"/><circle cx="625.74" cy="1030.17" r="3.87" fill="url(#gM)"/><circle cx="649.03" cy="1030.17" r="3.87" fill="url(#gM)"/><circle cx="357.82" cy="1022.6" r="3.13" fill="url(#gS)"/><circle cx="381.12" cy="1022.6" r="3.13" fill="url(#gS)"/><circle cx="404.41" cy="1022.6" r="3.13" fill="url(#gS)"/><circle cx="427.71" cy="1022.6" r="3.13" fill="url(#gS)"/><circle cx="451.01" cy="1022.6" r="3.13" fill="url(#gS)"/><circle cx="474.31" cy="1022.6" r="3.13" fill="url(#gS)"/><circle cx="497.6" cy="1022.6" r="3.13" fill="url(#gS)"/><circle cx="520.9" cy="1022.6" r="3.13" fill="url(#gS)"/><circle cx="544.2" cy="1022.6" r="3.13" fill="url(#gS)"/><circle cx="567.49" cy="1022.6" r="3.13" fill="url(#gS)"/><circle cx="590.79" cy="1022.6" r="3.13" fill="url(#gS)"/><circle cx="614.09" cy="1022.6" r="3.13" fill="url(#gS)"/><circle cx="637.38" cy="1022.6" r="3.13" fill="url(#gS)"/><circle cx="660.68" cy="1022.6" r="3.13" fill="url(#gS)"/><path d="M342.62 1030.05L342.62 1041.6 M354.54 1037.79L342.62 1051.05 M354.54 1037.79L342.62 1030.05 M354.54 1037.79L366.46 1051.05 M354.54 1037.79L366.46 1030.05 M354.54 1037.79L357.82 1043.12 M354.54 1037.79L357.82 1022.6 M366.46 1030.05L366.46 1041.6 M378.38 1037.79L366.46 1051.05 M378.38 1037.79L366.46 1030.05 M378.38 1037.79L390.3 1051.05 M378.38 1037.79L390.3 1030.05 M378.38 1037.79L381.12 1043.12 M378.38 1037.79L381.12 1022.6 M390.3 1030.05L390.3 1041.6 M402.22 1037.79L390.3 1051.05 M402.22 1037.79L390.3 1030.05 M402.22 1037.79L414.14 1051.05 M402.22 1037.79L414.14 1030.05 M402.22 1037.79L404.41 1043.12 M402.22 1037.79L404.41 1022.6 M414.14 1030.05L414.14 1041.6 M426.06 1037.79L414.14 1051.05 M426.06 1037.79L414.14 1030.05 M426.06 1037.79L437.97 1051.05 M426.06 1037.79L437.97 1030.05 M426.06 1037.79L427.71 1043.12 M426.06 1037.79L427.71 1022.6 M437.97 1030.05L437.97 1041.6 M449.89 1037.79L437.97 1051.05 M449.89 1037.79L437.97 1030.05 M449.89 1037.79L461.81 1051.05 M449.89 1037.79L461.81 1030.05 M449.89 1037.79L451.01 1043.12 M449.89 1037.79L451.01 1022.6 M461.81 1030.05L461.81 1041.6 M473.73 1037.79L461.81 1051.05 M473.73 1037.79L461.81 1030.05 M473.73 1037.79L485.65 1051.05 M473.73 1037.79L485.65 1030.05 M473.73 1037.79L474.31 1043.12 M473.73 1037.79L474.31 1022.6 M485.65 1030.05L485.65 1041.6 M497.57 1037.79L485.65 1051.05 M497.57 1037.79L485.65 1030.05 M497.57 1037.79L509.49 1051.05 M497.57 1037.79L509.49 1030.05 M497.57 1037.79L497.6 1043.12 M497.57 1037.79L497.6 1022.6 M509.49 1030.05L509.49 1041.6 M521.41 1037.79L509.49 1051.05 M521.41 1037.79L509.49 1030.05 M521.41 1037.79L533.33 1051.05 M521.41 1037.79L533.33 1030.05 M521.41 1037.79L520.9 1043.12 M521.41 1037.79L520.9 1022.6 M533.33 1030.05L533.33 1041.6 M545.25 1037.79L533.33 1051.05 M545.25 1037.79L533.33 1030.05 M545.25 1037.79L557.17 1051.05 M545.25 1037.79L557.17 1030.05 M545.25 1037.79L544.2 1043.12 M545.25 1037.79L544.2 1022.6 M557.17 1030.05L557.17 1041.6 M569.08 1037.79L557.17 1051.05 M569.08 1037.79L557.17 1030.05 M569.08 1037.79L581 1051.05 M569.08 1037.79L581 1030.05 M569.08 1037.79L567.49 1043.12 M569.08 1037.79L567.49 1022.6 M581 1030.05L581 1041.6 M592.92 1037.79L581 1051.05 M592.92 1037.79L581 1030.05 M592.92 1037.79L604.84 1051.05 M592.92 1037.79L604.84 1030.05 M592.92 1037.79L590.79 1043.12 M592.92 1037.79L590.79 1022.6 M604.84 1030.05L604.84 1041.6 M616.76 1037.79L604.84 1051.05 M616.76 1037.79L604.84 1030.05 M616.76 1037.79L628.68 1051.05 M616.76 1037.79L628.68 1030.05 M616.76 1037.79L614.09 1043.12 M616.76 1037.79L614.09 1022.6 M628.68 1030.05L628.68 1041.6 M640.6 1037.79L628.68 1051.05 M640.6 1037.79L628.68 1030.05 M640.6 1037.79L652.52 1051.05 M640.6 1037.79L652.52 1030.05 M640.6 1037.79L637.38 1043.12 M640.6 1037.79L637.38 1022.6 M652.52 1030.05L652.52 1041.6" stroke="#8a7c78" stroke-width="1.08" fill="none"/><circle cx="342.62" cy="1051.05" r="3.19" fill="url(#gS)"/><circle cx="366.46" cy="1051.05" r="3.19" fill="url(#gS)"/><circle cx="390.3" cy="1051.05" r="3.19" fill="url(#gS)"/><circle cx="414.14" cy="1051.05" r="3.19" fill="url(#gS)"/><circle cx="437.97" cy="1051.05" r="3.19" fill="url(#gS)"/><circle cx="461.81" cy="1051.05" r="3.19" fill="url(#gS)"/><circle cx="485.65" cy="1051.05" r="3.19" fill="url(#gS)"/><circle cx="509.49" cy="1051.05" r="3.19" fill="url(#gS)"/><circle cx="533.33" cy="1051.05" r="3.19" fill="url(#gS)"/><circle cx="557.17" cy="1051.05" r="3.19" fill="url(#gS)"/><circle cx="581" cy="1051.05" r="3.19" fill="url(#gS)"/><circle cx="604.84" cy="1051.05" r="3.19" fill="url(#gS)"/><circle cx="628.68" cy="1051.05" r="3.19" fill="url(#gS)"/><circle cx="652.52" cy="1051.05" r="3.19" fill="url(#gS)"/><circle cx="354.54" cy="1037.79" r="3.96" fill="url(#gM)"/><circle cx="378.38" cy="1037.79" r="3.96" fill="url(#gM)"/><circle cx="402.22" cy="1037.79" r="3.96" fill="url(#gM)"/><circle cx="426.06" cy="1037.79" r="3.96" fill="url(#gM)"/><circle cx="449.89" cy="1037.79" r="3.96" fill="url(#gM)"/><circle cx="473.73" cy="1037.79" r="3.96" fill="url(#gM)"/><circle cx="497.57" cy="1037.79" r="3.96" fill="url(#gM)"/><circle cx="521.41" cy="1037.79" r="3.96" fill="url(#gM)"/><circle cx="545.25" cy="1037.79" r="3.96" fill="url(#gM)"/><circle cx="569.08" cy="1037.79" r="3.96" fill="url(#gM)"/><circle cx="592.92" cy="1037.79" r="3.96" fill="url(#gM)"/><circle cx="616.76" cy="1037.79" r="3.96" fill="url(#gM)"/><circle cx="640.6" cy="1037.79" r="3.96" fill="url(#gM)"/><circle cx="342.62" cy="1030.05" r="3.19" fill="url(#gS)"/><circle cx="366.46" cy="1030.05" r="3.19" fill="url(#gS)"/><circle cx="390.3" cy="1030.05" r="3.19" fill="url(#gS)"/><circle cx="414.14" cy="1030.05" r="3.19" fill="url(#gS)"/><circle cx="437.97" cy="1030.05" r="3.19" fill="url(#gS)"/><circle cx="461.81" cy="1030.05" r="3.19" fill="url(#gS)"/><circle cx="485.65" cy="1030.05" r="3.19" fill="url(#gS)"/><circle cx="509.49" cy="1030.05" r="3.19" fill="url(#gS)"/><circle cx="533.33" cy="1030.05" r="3.19" fill="url(#gS)"/><circle cx="557.17" cy="1030.05" r="3.19" fill="url(#gS)"/><circle cx="581" cy="1030.05" r="3.19" fill="url(#gS)"/><circle cx="604.84" cy="1030.05" r="3.19" fill="url(#gS)"/><circle cx="628.68" cy="1030.05" r="3.19" fill="url(#gS)"/><circle cx="652.52" cy="1030.05" r="3.19" fill="url(#gS)"/><path d="M351.1 1037.85L351.1 1049.68 M363.31 1045.78L351.1 1059.35 M363.31 1045.78L351.1 1037.85 M363.31 1045.78L375.51 1059.35 M363.31 1045.78L375.51 1037.85 M363.31 1045.78L366.46 1051.05 M363.31 1045.78L366.46 1030.05 M375.51 1037.85L375.51 1049.68 M387.71 1045.78L375.51 1059.35 M387.71 1045.78L375.51 1037.85 M387.71 1045.78L399.91 1059.35 M387.71 1045.78L399.91 1037.85 M387.71 1045.78L390.3 1051.05 M387.71 1045.78L390.3 1030.05 M399.91 1037.85L399.91 1049.68 M412.12 1045.78L399.91 1059.35 M412.12 1045.78L399.91 1037.85 M412.12 1045.78L424.32 1059.35 M412.12 1045.78L424.32 1037.85 M412.12 1045.78L414.14 1051.05 M412.12 1045.78L414.14 1030.05 M424.32 1037.85L424.32 1049.68 M436.52 1045.78L424.32 1059.35 M436.52 1045.78L424.32 1037.85 M436.52 1045.78L448.73 1059.35 M436.52 1045.78L448.73 1037.85 M436.52 1045.78L437.97 1051.05 M436.52 1045.78L437.97 1030.05 M448.73 1037.85L448.73 1049.68 M460.93 1045.78L448.73 1059.35 M460.93 1045.78L448.73 1037.85 M460.93 1045.78L473.13 1059.35 M460.93 1045.78L473.13 1037.85 M460.93 1045.78L461.81 1051.05 M460.93 1045.78L461.81 1030.05 M473.13 1037.85L473.13 1049.68 M485.33 1045.78L473.13 1059.35 M485.33 1045.78L473.13 1037.85 M485.33 1045.78L497.54 1059.35 M485.33 1045.78L497.54 1037.85 M485.33 1045.78L485.65 1051.05 M485.33 1045.78L485.65 1030.05 M497.54 1037.85L497.54 1049.68 M509.74 1045.78L497.54 1059.35 M509.74 1045.78L497.54 1037.85 M509.74 1045.78L521.94 1059.35 M509.74 1045.78L521.94 1037.85 M509.74 1045.78L509.49 1051.05 M509.74 1045.78L509.49 1030.05 M521.94 1037.85L521.94 1049.68 M534.14 1045.78L521.94 1059.35 M534.14 1045.78L521.94 1037.85 M534.14 1045.78L546.35 1059.35 M534.14 1045.78L546.35 1037.85 M534.14 1045.78L533.33 1051.05 M534.14 1045.78L533.33 1030.05 M546.35 1037.85L546.35 1049.68 M558.55 1045.78L546.35 1059.35 M558.55 1045.78L546.35 1037.85 M558.55 1045.78L570.75 1059.35 M558.55 1045.78L570.75 1037.85 M558.55 1045.78L557.17 1051.05 M558.55 1045.78L557.17 1030.05 M570.75 1037.85L570.75 1049.68 M582.95 1045.78L570.75 1059.35 M582.95 1045.78L570.75 1037.85 M582.95 1045.78L595.16 1059.35 M582.95 1045.78L595.16 1037.85 M582.95 1045.78L581 1051.05 M582.95 1045.78L581 1030.05 M595.16 1037.85L595.16 1049.68 M607.36 1045.78L595.16 1059.35 M607.36 1045.78L595.16 1037.85 M607.36 1045.78L619.56 1059.35 M607.36 1045.78L619.56 1037.85 M607.36 1045.78L604.84 1051.05 M607.36 1045.78L604.84 1030.05 M619.56 1037.85L619.56 1049.68 M631.76 1045.78L619.56 1059.35 M631.76 1045.78L619.56 1037.85 M631.76 1045.78L643.97 1059.35 M631.76 1045.78L643.97 1037.85 M631.76 1045.78L628.68 1051.05 M631.76 1045.78L628.68 1030.05 M643.97 1037.85L643.97 1049.68 M656.17 1045.78L643.97 1059.35 M656.17 1045.78L643.97 1037.85 M656.17 1045.78L668.37 1059.35 M656.17 1045.78L668.37 1037.85 M656.17 1045.78L652.52 1051.05 M656.17 1045.78L652.52 1030.05 M668.37 1037.85L668.37 1049.68" stroke="#8a7c78" stroke-width="1.1" fill="none"/><circle cx="351.1" cy="1059.35" r="3.25" fill="url(#gS)"/><circle cx="375.51" cy="1059.35" r="3.25" fill="url(#gS)"/><circle cx="399.91" cy="1059.35" r="3.25" fill="url(#gS)"/><circle cx="424.32" cy="1059.35" r="3.25" fill="url(#gS)"/><circle cx="448.73" cy="1059.35" r="3.25" fill="url(#gS)"/><circle cx="473.13" cy="1059.35" r="3.25" fill="url(#gS)"/><circle cx="497.54" cy="1059.35" r="3.25" fill="url(#gS)"/><circle cx="521.94" cy="1059.35" r="3.25" fill="url(#gS)"/><circle cx="546.35" cy="1059.35" r="3.25" fill="url(#gS)"/><circle cx="570.75" cy="1059.35" r="3.25" fill="url(#gS)"/><circle cx="595.16" cy="1059.35" r="3.25" fill="url(#gS)"/><circle cx="619.56" cy="1059.35" r="3.25" fill="url(#gS)"/><circle cx="643.97" cy="1059.35" r="3.25" fill="url(#gS)"/><circle cx="668.37" cy="1059.35" r="3.25" fill="url(#gS)"/><circle cx="363.31" cy="1045.78" r="4.05" fill="url(#gM)"/><circle cx="387.71" cy="1045.78" r="4.05" fill="url(#gM)"/><circle cx="412.12" cy="1045.78" r="4.05" fill="url(#gM)"/><circle cx="436.52" cy="1045.78" r="4.05" fill="url(#gM)"/><circle cx="460.93" cy="1045.78" r="4.05" fill="url(#gM)"/><circle cx="485.33" cy="1045.78" r="4.05" fill="url(#gM)"/><circle cx="509.74" cy="1045.78" r="4.05" fill="url(#gM)"/><circle cx="534.14" cy="1045.78" r="4.05" fill="url(#gM)"/><circle cx="558.55" cy="1045.78" r="4.05" fill="url(#gM)"/><circle cx="582.95" cy="1045.78" r="4.05" fill="url(#gM)"/><circle cx="607.36" cy="1045.78" r="4.05" fill="url(#gM)"/><circle cx="631.76" cy="1045.78" r="4.05" fill="url(#gM)"/><circle cx="656.17" cy="1045.78" r="4.05" fill="url(#gM)"/><circle cx="351.1" cy="1037.85" r="3.25" fill="url(#gS)"/><circle cx="375.51" cy="1037.85" r="3.25" fill="url(#gS)"/><circle cx="399.91" cy="1037.85" r="3.25" fill="url(#gS)"/><circle cx="424.32" cy="1037.85" r="3.25" fill="url(#gS)"/><circle cx="448.73" cy="1037.85" r="3.25" fill="url(#gS)"/><circle cx="473.13" cy="1037.85" r="3.25" fill="url(#gS)"/><circle cx="497.54" cy="1037.85" r="3.25" fill="url(#gS)"/><circle cx="521.94" cy="1037.85" r="3.25" fill="url(#gS)"/><circle cx="546.35" cy="1037.85" r="3.25" fill="url(#gS)"/><circle cx="570.75" cy="1037.85" r="3.25" fill="url(#gS)"/><circle cx="595.16" cy="1037.85" r="3.25" fill="url(#gS)"/><circle cx="619.56" cy="1037.85" r="3.25" fill="url(#gS)"/><circle cx="643.97" cy="1037.85" r="3.25" fill="url(#gS)"/><circle cx="668.37" cy="1037.85" r="3.25" fill="url(#gS)"/><path d="M335 1046.05L335 1058.16 M347.5 1054.17L335 1068.07 M347.5 1054.17L335 1046.05 M347.5 1054.17L360 1068.07 M347.5 1054.17L360 1046.05 M347.5 1054.17L351.1 1059.35 M347.5 1054.17L351.1 1037.85 M360 1046.05L360 1058.16 M372.5 1054.17L360 1068.07 M372.5 1054.17L360 1046.05 M372.5 1054.17L385 1068.07 M372.5 1054.17L385 1046.05 M372.5 1054.17L375.51 1059.35 M372.5 1054.17L375.51 1037.85 M385 1046.05L385 1058.16 M397.5 1054.17L385 1068.07 M397.5 1054.17L385 1046.05 M397.5 1054.17L410 1068.07 M397.5 1054.17L410 1046.05 M397.5 1054.17L399.91 1059.35 M397.5 1054.17L399.91 1037.85 M410 1046.05L410 1058.16 M422.5 1054.17L410 1068.07 M422.5 1054.17L410 1046.05 M422.5 1054.17L435 1068.07 M422.5 1054.17L435 1046.05 M422.5 1054.17L424.32 1059.35 M422.5 1054.17L424.32 1037.85 M435 1046.05L435 1058.16 M447.5 1054.17L435 1068.07 M447.5 1054.17L435 1046.05 M447.5 1054.17L460 1068.07 M447.5 1054.17L460 1046.05 M447.5 1054.17L448.73 1059.35 M447.5 1054.17L448.73 1037.85 M460 1046.05L460 1058.16 M472.5 1054.17L460 1068.07 M472.5 1054.17L460 1046.05 M472.5 1054.17L485 1068.07 M472.5 1054.17L485 1046.05 M472.5 1054.17L473.13 1059.35 M472.5 1054.17L473.13 1037.85 M485 1046.05L485 1058.16 M497.5 1054.17L485 1068.07 M497.5 1054.17L485 1046.05 M497.5 1054.17L510 1068.07 M497.5 1054.17L510 1046.05 M497.5 1054.17L497.54 1059.35 M497.5 1054.17L497.54 1037.85 M510 1046.05L510 1058.16 M522.5 1054.17L510 1068.07 M522.5 1054.17L510 1046.05 M522.5 1054.17L535 1068.07 M522.5 1054.17L535 1046.05 M522.5 1054.17L521.94 1059.35 M522.5 1054.17L521.94 1037.85 M535 1046.05L535 1058.16 M547.5 1054.17L535 1068.07 M547.5 1054.17L535 1046.05 M547.5 1054.17L560 1068.07 M547.5 1054.17L560 1046.05 M547.5 1054.17L546.35 1059.35 M547.5 1054.17L546.35 1037.85 M560 1046.05L560 1058.16 M572.5 1054.17L560 1068.07 M572.5 1054.17L560 1046.05 M572.5 1054.17L585 1068.07 M572.5 1054.17L585 1046.05 M572.5 1054.17L570.75 1059.35 M572.5 1054.17L570.75 1037.85 M585 1046.05L585 1058.16 M597.5 1054.17L585 1068.07 M597.5 1054.17L585 1046.05 M597.5 1054.17L610 1068.07 M597.5 1054.17L610 1046.05 M597.5 1054.17L595.16 1059.35 M597.5 1054.17L595.16 1037.85 M610 1046.05L610 1058.16 M622.5 1054.17L610 1068.07 M622.5 1054.17L610 1046.05 M622.5 1054.17L635 1068.07 M622.5 1054.17L635 1046.05 M622.5 1054.17L619.56 1059.35 M622.5 1054.17L619.56 1037.85 M635 1046.05L635 1058.16 M647.5 1054.17L635 1068.07 M647.5 1054.17L635 1046.05 M647.5 1054.17L660 1068.07 M647.5 1054.17L660 1046.05 M647.5 1054.17L643.97 1059.35 M647.5 1054.17L643.97 1037.85 M660 1046.05L660 1058.16" stroke="#8a7c78" stroke-width="1.13" fill="none"/><circle cx="335" cy="1068.07" r="3.32" fill="url(#gS)"/><circle cx="360" cy="1068.07" r="3.32" fill="url(#gS)"/><circle cx="385" cy="1068.07" r="3.32" fill="url(#gS)"/><circle cx="410" cy="1068.07" r="3.32" fill="url(#gS)"/><circle cx="435" cy="1068.07" r="3.32" fill="url(#gS)"/><circle cx="460" cy="1068.07" r="3.32" fill="url(#gS)"/><circle cx="485" cy="1068.07" r="3.32" fill="url(#gS)"/><circle cx="510" cy="1068.07" r="3.32" fill="url(#gS)"/><circle cx="535" cy="1068.07" r="3.32" fill="url(#gS)"/><circle cx="560" cy="1068.07" r="3.32" fill="url(#gS)"/><circle cx="585" cy="1068.07" r="3.32" fill="url(#gS)"/><circle cx="610" cy="1068.07" r="3.32" fill="url(#gS)"/><circle cx="635" cy="1068.07" r="3.32" fill="url(#gS)"/><circle cx="660" cy="1068.07" r="3.32" fill="url(#gS)"/><circle cx="347.5" cy="1054.17" r="4.15" fill="url(#gM)"/><circle cx="372.5" cy="1054.17" r="4.15" fill="url(#gM)"/><circle cx="397.5" cy="1054.17" r="4.15" fill="url(#gM)"/><circle cx="422.5" cy="1054.17" r="4.15" fill="url(#gM)"/><circle cx="447.5" cy="1054.17" r="4.15" fill="url(#gM)"/><circle cx="472.5" cy="1054.17" r="4.15" fill="url(#gM)"/><circle cx="497.5" cy="1054.17" r="4.15" fill="url(#gM)"/><circle cx="522.5" cy="1054.17" r="4.15" fill="url(#gM)"/><circle cx="547.5" cy="1054.17" r="4.15" fill="url(#gM)"/><circle cx="572.5" cy="1054.17" r="4.15" fill="url(#gM)"/><circle cx="597.5" cy="1054.17" r="4.15" fill="url(#gM)"/><circle cx="622.5" cy="1054.17" r="4.15" fill="url(#gM)"/><circle cx="647.5" cy="1054.17" r="4.15" fill="url(#gM)"/><circle cx="335" cy="1046.05" r="3.32" fill="url(#gS)"/><circle cx="360" cy="1046.05" r="3.32" fill="url(#gS)"/><circle cx="385" cy="1046.05" r="3.32" fill="url(#gS)"/><circle cx="410" cy="1046.05" r="3.32" fill="url(#gS)"/><circle cx="435" cy="1046.05" r="3.32" fill="url(#gS)"/><circle cx="460" cy="1046.05" r="3.32" fill="url(#gS)"/><circle cx="485" cy="1046.05" r="3.32" fill="url(#gS)"/><circle cx="510" cy="1046.05" r="3.32" fill="url(#gS)"/><circle cx="535" cy="1046.05" r="3.32" fill="url(#gS)"/><circle cx="560" cy="1046.05" r="3.32" fill="url(#gS)"/><circle cx="585" cy="1046.05" r="3.32" fill="url(#gS)"/><circle cx="610" cy="1046.05" r="3.32" fill="url(#gS)"/><circle cx="635" cy="1046.05" r="3.32" fill="url(#gS)"/><circle cx="660" cy="1046.05" r="3.32" fill="url(#gS)"/><path d="M343.72 1054.65L343.72 1067.07 M356.53 1062.98L343.72 1077.22 M356.53 1062.98L343.72 1054.65 M356.53 1062.98L369.34 1077.22 M356.53 1062.98L369.34 1054.65 M356.53 1062.98L360 1068.07 M356.53 1062.98L360 1046.05 M369.34 1054.65L369.34 1067.07 M382.15 1062.98L369.34 1077.22 M382.15 1062.98L369.34 1054.65 M382.15 1062.98L394.96 1077.22 M382.15 1062.98L394.96 1054.65 M382.15 1062.98L385 1068.07 M382.15 1062.98L385 1046.05 M394.96 1054.65L394.96 1067.07 M407.78 1062.98L394.96 1077.22 M407.78 1062.98L394.96 1054.65 M407.78 1062.98L420.59 1077.22 M407.78 1062.98L420.59 1054.65 M407.78 1062.98L410 1068.07 M407.78 1062.98L410 1046.05 M420.59 1054.65L420.59 1067.07 M433.4 1062.98L420.59 1077.22 M433.4 1062.98L420.59 1054.65 M433.4 1062.98L446.21 1077.22 M433.4 1062.98L446.21 1054.65 M433.4 1062.98L435 1068.07 M433.4 1062.98L435 1046.05 M446.21 1054.65L446.21 1067.07 M459.03 1062.98L446.21 1077.22 M459.03 1062.98L446.21 1054.65 M459.03 1062.98L471.84 1077.22 M459.03 1062.98L471.84 1054.65 M459.03 1062.98L460 1068.07 M459.03 1062.98L460 1046.05 M471.84 1054.65L471.84 1067.07 M484.65 1062.98L471.84 1077.22 M484.65 1062.98L471.84 1054.65 M484.65 1062.98L497.46 1077.22 M484.65 1062.98L497.46 1054.65 M484.65 1062.98L485 1068.07 M484.65 1062.98L485 1046.05 M497.46 1054.65L497.46 1067.07 M510.27 1062.98L497.46 1077.22 M510.27 1062.98L497.46 1054.65 M510.27 1062.98L523.09 1077.22 M510.27 1062.98L523.09 1054.65 M510.27 1062.98L510 1068.07 M510.27 1062.98L510 1046.05 M523.09 1054.65L523.09 1067.07 M535.9 1062.98L523.09 1077.22 M535.9 1062.98L523.09 1054.65 M535.9 1062.98L548.71 1077.22 M535.9 1062.98L548.71 1054.65 M535.9 1062.98L535 1068.07 M535.9 1062.98L535 1046.05 M548.71 1054.65L548.71 1067.07 M561.52 1062.98L548.71 1077.22 M561.52 1062.98L548.71 1054.65 M561.52 1062.98L574.34 1077.22 M561.52 1062.98L574.34 1054.65 M561.52 1062.98L560 1068.07 M561.52 1062.98L560 1046.05 M574.34 1054.65L574.34 1067.07 M587.15 1062.98L574.34 1077.22 M587.15 1062.98L574.34 1054.65 M587.15 1062.98L599.96 1077.22 M587.15 1062.98L599.96 1054.65 M587.15 1062.98L585 1068.07 M587.15 1062.98L585 1046.05 M599.96 1054.65L599.96 1067.07 M612.77 1062.98L599.96 1077.22 M612.77 1062.98L599.96 1054.65 M612.77 1062.98L625.58 1077.22 M612.77 1062.98L625.58 1054.65 M612.77 1062.98L610 1068.07 M612.77 1062.98L610 1046.05 M625.58 1054.65L625.58 1067.07 M638.4 1062.98L625.58 1077.22 M638.4 1062.98L625.58 1054.65 M638.4 1062.98L651.21 1077.22 M638.4 1062.98L651.21 1054.65 M638.4 1062.98L635 1068.07 M638.4 1062.98L635 1046.05 M651.21 1054.65L651.21 1067.07 M664.02 1062.98L651.21 1077.22 M664.02 1062.98L651.21 1054.65 M664.02 1062.98L676.83 1077.22 M664.02 1062.98L676.83 1054.65 M664.02 1062.98L660 1068.07 M664.02 1062.98L660 1046.05 M676.83 1054.65L676.83 1067.07" stroke="#8a7c78" stroke-width="1.16" fill="none"/><circle cx="343.72" cy="1077.22" r="3.38" fill="url(#gS)"/><circle cx="369.34" cy="1077.22" r="3.38" fill="url(#gS)"/><circle cx="394.96" cy="1077.22" r="3.38" fill="url(#gS)"/><circle cx="420.59" cy="1077.22" r="3.38" fill="url(#gS)"/><circle cx="446.21" cy="1077.22" r="3.38" fill="url(#gS)"/><circle cx="471.84" cy="1077.22" r="3.38" fill="url(#gS)"/><circle cx="497.46" cy="1077.22" r="3.38" fill="url(#gS)"/><circle cx="523.09" cy="1077.22" r="3.38" fill="url(#gS)"/><circle cx="548.71" cy="1077.22" r="3.38" fill="url(#gS)"/><circle cx="574.34" cy="1077.22" r="3.38" fill="url(#gS)"/><circle cx="599.96" cy="1077.22" r="3.38" fill="url(#gS)"/><circle cx="625.58" cy="1077.22" r="3.38" fill="url(#gS)"/><circle cx="651.21" cy="1077.22" r="3.38" fill="url(#gS)"/><circle cx="676.83" cy="1077.22" r="3.38" fill="url(#gS)"/><circle cx="356.53" cy="1062.98" r="4.26" fill="url(#gM)"/><circle cx="382.15" cy="1062.98" r="4.26" fill="url(#gM)"/><circle cx="407.78" cy="1062.98" r="4.26" fill="url(#gM)"/><circle cx="433.4" cy="1062.98" r="4.26" fill="url(#gM)"/><circle cx="459.03" cy="1062.98" r="4.26" fill="url(#gM)"/><circle cx="484.65" cy="1062.98" r="4.26" fill="url(#gM)"/><circle cx="510.27" cy="1062.98" r="4.26" fill="url(#gM)"/><circle cx="535.9" cy="1062.98" r="4.26" fill="url(#gM)"/><circle cx="561.52" cy="1062.98" r="4.26" fill="url(#gM)"/><circle cx="587.15" cy="1062.98" r="4.26" fill="url(#gM)"/><circle cx="612.77" cy="1062.98" r="4.26" fill="url(#gM)"/><circle cx="638.4" cy="1062.98" r="4.26" fill="url(#gM)"/><circle cx="664.02" cy="1062.98" r="4.26" fill="url(#gM)"/><circle cx="343.72" cy="1054.65" r="3.38" fill="url(#gS)"/><circle cx="369.34" cy="1054.65" r="3.38" fill="url(#gS)"/><circle cx="394.96" cy="1054.65" r="3.38" fill="url(#gS)"/><circle cx="420.59" cy="1054.65" r="3.38" fill="url(#gS)"/><circle cx="446.21" cy="1054.65" r="3.38" fill="url(#gS)"/><circle cx="471.84" cy="1054.65" r="3.38" fill="url(#gS)"/><circle cx="497.46" cy="1054.65" r="3.38" fill="url(#gS)"/><circle cx="523.09" cy="1054.65" r="3.38" fill="url(#gS)"/><circle cx="548.71" cy="1054.65" r="3.38" fill="url(#gS)"/><circle cx="574.34" cy="1054.65" r="3.38" fill="url(#gS)"/><circle cx="599.96" cy="1054.65" r="3.38" fill="url(#gS)"/><circle cx="625.58" cy="1054.65" r="3.38" fill="url(#gS)"/><circle cx="651.21" cy="1054.65" r="3.38" fill="url(#gS)"/><circle cx="676.83" cy="1054.65" r="3.38" fill="url(#gS)"/><path d="M326.6 1063.71L326.6 1076.44 M339.74 1072.24L326.6 1086.86 M339.74 1072.24L326.6 1063.71 M339.74 1072.24L352.88 1086.86 M339.74 1072.24L352.88 1063.71 M339.74 1072.24L343.72 1077.22 M339.74 1072.24L343.72 1054.65 M352.88 1063.71L352.88 1076.44 M366.02 1072.24L352.88 1086.86 M366.02 1072.24L352.88 1063.71 M366.02 1072.24L379.16 1086.86 M366.02 1072.24L379.16 1063.71 M366.02 1072.24L369.34 1077.22 M366.02 1072.24L369.34 1054.65 M379.16 1063.71L379.16 1076.44 M392.3 1072.24L379.16 1086.86 M392.3 1072.24L379.16 1063.71 M392.3 1072.24L405.44 1086.86 M392.3 1072.24L405.44 1063.71 M392.3 1072.24L394.96 1077.22 M392.3 1072.24L394.96 1054.65 M405.44 1063.71L405.44 1076.44 M418.58 1072.24L405.44 1086.86 M418.58 1072.24L405.44 1063.71 M418.58 1072.24L431.72 1086.86 M418.58 1072.24L431.72 1063.71 M418.58 1072.24L420.59 1077.22 M418.58 1072.24L420.59 1054.65 M431.72 1063.71L431.72 1076.44 M444.86 1072.24L431.72 1086.86 M444.86 1072.24L431.72 1063.71 M444.86 1072.24L458 1086.86 M444.86 1072.24L458 1063.71 M444.86 1072.24L446.21 1077.22 M444.86 1072.24L446.21 1054.65 M458 1063.71L458 1076.44 M471.14 1072.24L458 1086.86 M471.14 1072.24L458 1063.71 M471.14 1072.24L484.28 1086.86 M471.14 1072.24L484.28 1063.71 M471.14 1072.24L471.84 1077.22 M471.14 1072.24L471.84 1054.65 M484.28 1063.71L484.28 1076.44 M497.42 1072.24L484.28 1086.86 M497.42 1072.24L484.28 1063.71 M497.42 1072.24L510.56 1086.86 M497.42 1072.24L510.56 1063.71 M497.42 1072.24L497.46 1077.22 M497.42 1072.24L497.46 1054.65 M510.56 1063.71L510.56 1076.44 M523.7 1072.24L510.56 1086.86 M523.7 1072.24L510.56 1063.71 M523.7 1072.24L536.84 1086.86 M523.7 1072.24L536.84 1063.71 M523.7 1072.24L523.09 1077.22 M523.7 1072.24L523.09 1054.65 M536.84 1063.71L536.84 1076.44 M549.98 1072.24L536.84 1086.86 M549.98 1072.24L536.84 1063.71 M549.98 1072.24L563.13 1086.86 M549.98 1072.24L563.13 1063.71 M549.98 1072.24L548.71 1077.22 M549.98 1072.24L548.71 1054.65 M563.13 1063.71L563.13 1076.44 M576.27 1072.24L563.13 1086.86 M576.27 1072.24L563.13 1063.71 M576.27 1072.24L589.41 1086.86 M576.27 1072.24L589.41 1063.71 M576.27 1072.24L574.34 1077.22 M576.27 1072.24L574.34 1054.65 M589.41 1063.71L589.41 1076.44 M602.55 1072.24L589.41 1086.86 M602.55 1072.24L589.41 1063.71 M602.55 1072.24L615.69 1086.86 M602.55 1072.24L615.69 1063.71 M602.55 1072.24L599.96 1077.22 M602.55 1072.24L599.96 1054.65 M615.69 1063.71L615.69 1076.44 M628.83 1072.24L615.69 1086.86 M628.83 1072.24L615.69 1063.71 M628.83 1072.24L641.97 1086.86 M628.83 1072.24L641.97 1063.71 M628.83 1072.24L625.58 1077.22 M628.83 1072.24L625.58 1054.65 M641.97 1063.71L641.97 1076.44 M655.11 1072.24L641.97 1086.86 M655.11 1072.24L641.97 1063.71 M655.11 1072.24L668.25 1086.86 M655.11 1072.24L668.25 1063.71 M655.11 1072.24L651.21 1077.22 M655.11 1072.24L651.21 1054.65 M668.25 1063.71L668.25 1076.44" stroke="#8a7c78" stroke-width="1.19" fill="none"/><circle cx="326.6" cy="1086.86" r="3.45" fill="url(#gS)"/><circle cx="352.88" cy="1086.86" r="3.45" fill="url(#gS)"/><circle cx="379.16" cy="1086.86" r="3.45" fill="url(#gS)"/><circle cx="405.44" cy="1086.86" r="3.45" fill="url(#gS)"/><circle cx="431.72" cy="1086.86" r="3.45" fill="url(#gS)"/><circle cx="458" cy="1086.86" r="3.45" fill="url(#gS)"/><circle cx="484.28" cy="1086.86" r="3.45" fill="url(#gS)"/><circle cx="510.56" cy="1086.86" r="3.45" fill="url(#gS)"/><circle cx="536.84" cy="1086.86" r="3.45" fill="url(#gS)"/><circle cx="563.13" cy="1086.86" r="3.45" fill="url(#gS)"/><circle cx="589.41" cy="1086.86" r="3.45" fill="url(#gS)"/><circle cx="615.69" cy="1086.86" r="3.45" fill="url(#gS)"/><circle cx="641.97" cy="1086.86" r="3.45" fill="url(#gS)"/><circle cx="668.25" cy="1086.86" r="3.45" fill="url(#gS)"/><circle cx="339.74" cy="1072.24" r="4.36" fill="url(#gM)"/><circle cx="366.02" cy="1072.24" r="4.36" fill="url(#gM)"/><circle cx="392.3" cy="1072.24" r="4.36" fill="url(#gM)"/><circle cx="418.58" cy="1072.24" r="4.36" fill="url(#gM)"/><circle cx="444.86" cy="1072.24" r="4.36" fill="url(#gM)"/><circle cx="471.14" cy="1072.24" r="4.36" fill="url(#gM)"/><circle cx="497.42" cy="1072.24" r="4.36" fill="url(#gM)"/><circle cx="523.7" cy="1072.24" r="4.36" fill="url(#gM)"/><circle cx="549.98" cy="1072.24" r="4.36" fill="url(#gM)"/><circle cx="576.27" cy="1072.24" r="4.36" fill="url(#gM)"/><circle cx="602.55" cy="1072.24" r="4.36" fill="url(#gM)"/><circle cx="628.83" cy="1072.24" r="4.36" fill="url(#gM)"/><circle cx="655.11" cy="1072.24" r="4.36" fill="url(#gM)"/><circle cx="326.6" cy="1063.71" r="3.45" fill="url(#gS)"/><circle cx="352.88" cy="1063.71" r="3.45" fill="url(#gS)"/><circle cx="379.16" cy="1063.71" r="3.45" fill="url(#gS)"/><circle cx="405.44" cy="1063.71" r="3.45" fill="url(#gS)"/><circle cx="431.72" cy="1063.71" r="3.45" fill="url(#gS)"/><circle cx="458" cy="1063.71" r="3.45" fill="url(#gS)"/><circle cx="484.28" cy="1063.71" r="3.45" fill="url(#gS)"/><circle cx="510.56" cy="1063.71" r="3.45" fill="url(#gS)"/><circle cx="536.84" cy="1063.71" r="3.45" fill="url(#gS)"/><circle cx="563.13" cy="1063.71" r="3.45" fill="url(#gS)"/><circle cx="589.41" cy="1063.71" r="3.45" fill="url(#gS)"/><circle cx="615.69" cy="1063.71" r="3.45" fill="url(#gS)"/><circle cx="641.97" cy="1063.71" r="3.45" fill="url(#gS)"/><circle cx="668.25" cy="1063.71" r="3.45" fill="url(#gS)"/><path d="M335.55 1073.24L335.55 1086.31 M349.04 1082L335.55 1097 M349.04 1082L335.55 1073.24 M349.04 1082L362.52 1097 M349.04 1082L362.52 1073.24 M349.04 1082L352.88 1086.86 M349.04 1082L352.88 1063.71 M362.52 1073.24L362.52 1086.31 M376.01 1082L362.52 1097 M376.01 1082L362.52 1073.24 M376.01 1082L389.49 1097 M376.01 1082L389.49 1073.24 M376.01 1082L379.16 1086.86 M376.01 1082L379.16 1063.71 M389.49 1073.24L389.49 1086.31 M402.98 1082L389.49 1097 M402.98 1082L389.49 1073.24 M402.98 1082L416.47 1097 M402.98 1082L416.47 1073.24 M402.98 1082L405.44 1086.86 M402.98 1082L405.44 1063.71 M416.47 1073.24L416.47 1086.31 M429.95 1082L416.47 1097 M429.95 1082L416.47 1073.24 M429.95 1082L443.44 1097 M429.95 1082L443.44 1073.24 M429.95 1082L431.72 1086.86 M429.95 1082L431.72 1063.71 M443.44 1073.24L443.44 1086.31 M456.92 1082L443.44 1097 M456.92 1082L443.44 1073.24 M456.92 1082L470.41 1097 M456.92 1082L470.41 1073.24 M456.92 1082L458 1086.86 M456.92 1082L458 1063.71 M470.41 1073.24L470.41 1086.31 M483.9 1082L470.41 1097 M483.9 1082L470.41 1073.24 M483.9 1082L497.38 1097 M483.9 1082L497.38 1073.24 M483.9 1082L484.28 1086.86 M483.9 1082L484.28 1063.71 M497.38 1073.24L497.38 1086.31 M510.87 1082L497.38 1097 M510.87 1082L497.38 1073.24 M510.87 1082L524.35 1097 M510.87 1082L524.35 1073.24 M510.87 1082L510.56 1086.86 M510.87 1082L510.56 1063.71 M524.35 1073.24L524.35 1086.31 M537.84 1082L524.35 1097 M537.84 1082L524.35 1073.24 M537.84 1082L551.33 1097 M537.84 1082L551.33 1073.24 M537.84 1082L536.84 1086.86 M537.84 1082L536.84 1063.71 M551.33 1073.24L551.33 1086.31 M564.81 1082L551.33 1097 M564.81 1082L551.33 1073.24 M564.81 1082L578.3 1097 M564.81 1082L578.3 1073.24 M564.81 1082L563.13 1086.86 M564.81 1082L563.13 1063.71 M578.3 1073.24L578.3 1086.31 M591.78 1082L578.3 1097 M591.78 1082L578.3 1073.24 M591.78 1082L605.27 1097 M591.78 1082L605.27 1073.24 M591.78 1082L589.41 1086.86 M591.78 1082L589.41 1063.71 M605.27 1073.24L605.27 1086.31 M618.75 1082L605.27 1097 M618.75 1082L605.27 1073.24 M618.75 1082L632.24 1097 M618.75 1082L632.24 1073.24 M618.75 1082L615.69 1086.86 M618.75 1082L615.69 1063.71 M632.24 1073.24L632.24 1086.31 M645.73 1082L632.24 1097 M645.73 1082L632.24 1073.24 M645.73 1082L659.21 1097 M645.73 1082L659.21 1073.24 M645.73 1082L641.97 1086.86 M645.73 1082L641.97 1063.71 M659.21 1073.24L659.21 1086.31 M672.7 1082L659.21 1097 M672.7 1082L659.21 1073.24 M672.7 1082L686.18 1097 M672.7 1082L686.18 1073.24 M672.7 1082L668.25 1086.86 M672.7 1082L668.25 1063.71 M686.18 1073.24L686.18 1086.31" stroke="#8a7c78" stroke-width="1.22" fill="none"/><circle cx="335.55" cy="1097" r="3.52" fill="url(#gS)"/><circle cx="362.52" cy="1097" r="3.52" fill="url(#gS)"/><circle cx="389.49" cy="1097" r="3.52" fill="url(#gS)"/><circle cx="416.47" cy="1097" r="3.52" fill="url(#gS)"/><circle cx="443.44" cy="1097" r="3.52" fill="url(#gS)"/><circle cx="470.41" cy="1097" r="3.52" fill="url(#gS)"/><circle cx="497.38" cy="1097" r="3.52" fill="url(#gS)"/><circle cx="524.35" cy="1097" r="3.52" fill="url(#gS)"/><circle cx="551.33" cy="1097" r="3.52" fill="url(#gS)"/><circle cx="578.3" cy="1097" r="3.52" fill="url(#gS)"/><circle cx="605.27" cy="1097" r="3.52" fill="url(#gS)"/><circle cx="632.24" cy="1097" r="3.52" fill="url(#gS)"/><circle cx="659.21" cy="1097" r="3.52" fill="url(#gS)"/><circle cx="686.18" cy="1097" r="3.52" fill="url(#gS)"/><circle cx="349.04" cy="1082" r="4.48" fill="url(#gM)"/><circle cx="376.01" cy="1082" r="4.48" fill="url(#gM)"/><circle cx="402.98" cy="1082" r="4.48" fill="url(#gM)"/><circle cx="429.95" cy="1082" r="4.48" fill="url(#gM)"/><circle cx="456.92" cy="1082" r="4.48" fill="url(#gM)"/><circle cx="483.9" cy="1082" r="4.48" fill="url(#gM)"/><circle cx="510.87" cy="1082" r="4.48" fill="url(#gM)"/><circle cx="537.84" cy="1082" r="4.48" fill="url(#gM)"/><circle cx="564.81" cy="1082" r="4.48" fill="url(#gM)"/><circle cx="591.78" cy="1082" r="4.48" fill="url(#gM)"/><circle cx="618.75" cy="1082" r="4.48" fill="url(#gM)"/><circle cx="645.73" cy="1082" r="4.48" fill="url(#gM)"/><circle cx="672.7" cy="1082" r="4.48" fill="url(#gM)"/><circle cx="335.55" cy="1073.24" r="3.52" fill="url(#gS)"/><circle cx="362.52" cy="1073.24" r="3.52" fill="url(#gS)"/><circle cx="389.49" cy="1073.24" r="3.52" fill="url(#gS)"/><circle cx="416.47" cy="1073.24" r="3.52" fill="url(#gS)"/><circle cx="443.44" cy="1073.24" r="3.52" fill="url(#gS)"/><circle cx="470.41" cy="1073.24" r="3.52" fill="url(#gS)"/><circle cx="497.38" cy="1073.24" r="3.52" fill="url(#gS)"/><circle cx="524.35" cy="1073.24" r="3.52" fill="url(#gS)"/><circle cx="551.33" cy="1073.24" r="3.52" fill="url(#gS)"/><circle cx="578.3" cy="1073.24" r="3.52" fill="url(#gS)"/><circle cx="605.27" cy="1073.24" r="3.52" fill="url(#gS)"/><circle cx="632.24" cy="1073.24" r="3.52" fill="url(#gS)"/><circle cx="659.21" cy="1073.24" r="3.52" fill="url(#gS)"/><circle cx="686.18" cy="1073.24" r="3.52" fill="url(#gS)"/><path d="M317.29 1083.3L317.29 1096.72 M331.14 1092.3L317.29 1107.7 M331.14 1092.3L317.29 1083.3 M331.14 1092.3L344.99 1107.7 M331.14 1092.3L344.99 1083.3 M331.14 1092.3L335.55 1097 M331.14 1092.3L335.55 1073.24 M344.99 1083.3L344.99 1096.72 M358.84 1092.3L344.99 1107.7 M358.84 1092.3L344.99 1083.3 M358.84 1092.3L372.69 1107.7 M358.84 1092.3L372.69 1083.3 M358.84 1092.3L362.52 1097 M358.84 1092.3L362.52 1073.24 M372.69 1083.3L372.69 1096.72 M386.54 1092.3L372.69 1107.7 M386.54 1092.3L372.69 1083.3 M386.54 1092.3L400.39 1107.7 M386.54 1092.3L400.39 1083.3 M386.54 1092.3L389.49 1097 M386.54 1092.3L389.49 1073.24 M400.39 1083.3L400.39 1096.72 M414.24 1092.3L400.39 1107.7 M414.24 1092.3L400.39 1083.3 M414.24 1092.3L428.09 1107.7 M414.24 1092.3L428.09 1083.3 M414.24 1092.3L416.47 1097 M414.24 1092.3L416.47 1073.24 M428.09 1083.3L428.09 1096.72 M441.94 1092.3L428.09 1107.7 M441.94 1092.3L428.09 1083.3 M441.94 1092.3L455.79 1107.7 M441.94 1092.3L455.79 1083.3 M441.94 1092.3L443.44 1097 M441.94 1092.3L443.44 1073.24 M455.79 1083.3L455.79 1096.72 M469.64 1092.3L455.79 1107.7 M469.64 1092.3L455.79 1083.3 M469.64 1092.3L483.49 1107.7 M469.64 1092.3L483.49 1083.3 M469.64 1092.3L470.41 1097 M469.64 1092.3L470.41 1073.24 M483.49 1083.3L483.49 1096.72 M497.34 1092.3L483.49 1107.7 M497.34 1092.3L483.49 1083.3 M497.34 1092.3L511.19 1107.7 M497.34 1092.3L511.19 1083.3 M497.34 1092.3L497.38 1097 M497.34 1092.3L497.38 1073.24 M511.19 1083.3L511.19 1096.72 M525.04 1092.3L511.19 1107.7 M525.04 1092.3L511.19 1083.3 M525.04 1092.3L538.89 1107.7 M525.04 1092.3L538.89 1083.3 M525.04 1092.3L524.35 1097 M525.04 1092.3L524.35 1073.24 M538.89 1083.3L538.89 1096.72 M552.74 1092.3L538.89 1107.7 M552.74 1092.3L538.89 1083.3 M552.74 1092.3L566.59 1107.7 M552.74 1092.3L566.59 1083.3 M552.74 1092.3L551.33 1097 M552.74 1092.3L551.33 1073.24 M566.59 1083.3L566.59 1096.72 M580.44 1092.3L566.59 1107.7 M580.44 1092.3L566.59 1083.3 M580.44 1092.3L594.29 1107.7 M580.44 1092.3L594.29 1083.3 M580.44 1092.3L578.3 1097 M580.44 1092.3L578.3 1073.24 M594.29 1083.3L594.29 1096.72 M608.14 1092.3L594.29 1107.7 M608.14 1092.3L594.29 1083.3 M608.14 1092.3L621.99 1107.7 M608.14 1092.3L621.99 1083.3 M608.14 1092.3L605.27 1097 M608.14 1092.3L605.27 1073.24 M621.99 1083.3L621.99 1096.72 M635.84 1092.3L621.99 1107.7 M635.84 1092.3L621.99 1083.3 M635.84 1092.3L649.69 1107.7 M635.84 1092.3L649.69 1083.3 M635.84 1092.3L632.24 1097 M635.84 1092.3L632.24 1073.24 M649.69 1083.3L649.69 1096.72 M663.54 1092.3L649.69 1107.7 M663.54 1092.3L649.69 1083.3 M663.54 1092.3L677.39 1107.7 M663.54 1092.3L677.39 1083.3 M663.54 1092.3L659.21 1097 M663.54 1092.3L659.21 1073.24 M677.39 1083.3L677.39 1096.72" stroke="#8a7c78" stroke-width="1.25" fill="none"/><circle cx="317.29" cy="1107.7" r="3.6" fill="url(#gS)"/><circle cx="344.99" cy="1107.7" r="3.6" fill="url(#gS)"/><circle cx="372.69" cy="1107.7" r="3.6" fill="url(#gS)"/><circle cx="400.39" cy="1107.7" r="3.6" fill="url(#gS)"/><circle cx="428.09" cy="1107.7" r="3.6" fill="url(#gS)"/><circle cx="455.79" cy="1107.7" r="3.6" fill="url(#gS)"/><circle cx="483.49" cy="1107.7" r="3.6" fill="url(#gS)"/><circle cx="511.19" cy="1107.7" r="3.6" fill="url(#gS)"/><circle cx="538.89" cy="1107.7" r="3.6" fill="url(#gS)"/><circle cx="566.59" cy="1107.7" r="3.6" fill="url(#gS)"/><circle cx="594.29" cy="1107.7" r="3.6" fill="url(#gS)"/><circle cx="621.99" cy="1107.7" r="3.6" fill="url(#gS)"/><circle cx="649.69" cy="1107.7" r="3.6" fill="url(#gS)"/><circle cx="677.39" cy="1107.7" r="3.6" fill="url(#gS)"/><circle cx="331.14" cy="1092.3" r="4.6" fill="url(#gM)"/><circle cx="358.84" cy="1092.3" r="4.6" fill="url(#gM)"/><circle cx="386.54" cy="1092.3" r="4.6" fill="url(#gM)"/><circle cx="414.24" cy="1092.3" r="4.6" fill="url(#gM)"/><circle cx="441.94" cy="1092.3" r="4.6" fill="url(#gM)"/><circle cx="469.64" cy="1092.3" r="4.6" fill="url(#gM)"/><circle cx="497.34" cy="1092.3" r="4.6" fill="url(#gM)"/><circle cx="525.04" cy="1092.3" r="4.6" fill="url(#gM)"/><circle cx="552.74" cy="1092.3" r="4.6" fill="url(#gM)"/><circle cx="580.44" cy="1092.3" r="4.6" fill="url(#gM)"/><circle cx="608.14" cy="1092.3" r="4.6" fill="url(#gM)"/><circle cx="635.84" cy="1092.3" r="4.6" fill="url(#gM)"/><circle cx="663.54" cy="1092.3" r="4.6" fill="url(#gM)"/><circle cx="317.29" cy="1083.3" r="3.6" fill="url(#gS)"/><circle cx="344.99" cy="1083.3" r="3.6" fill="url(#gS)"/><circle cx="372.69" cy="1083.3" r="3.6" fill="url(#gS)"/><circle cx="400.39" cy="1083.3" r="3.6" fill="url(#gS)"/><circle cx="428.09" cy="1083.3" r="3.6" fill="url(#gS)"/><circle cx="455.79" cy="1083.3" r="3.6" fill="url(#gS)"/><circle cx="483.49" cy="1083.3" r="3.6" fill="url(#gS)"/><circle cx="511.19" cy="1083.3" r="3.6" fill="url(#gS)"/><circle cx="538.89" cy="1083.3" r="3.6" fill="url(#gS)"/><circle cx="566.59" cy="1083.3" r="3.6" fill="url(#gS)"/><circle cx="594.29" cy="1083.3" r="3.6" fill="url(#gS)"/><circle cx="621.99" cy="1083.3" r="3.6" fill="url(#gS)"/><circle cx="649.69" cy="1083.3" r="3.6" fill="url(#gS)"/><circle cx="677.39" cy="1083.3" r="3.6" fill="url(#gS)"/></g>
<circle cx="436" cy="990.67" r="2.67" fill="url(#gO)"/>
<circle cx="496.67" cy="989.67" r="3" fill="url(#gO)"/>
<circle cx="496" cy="1003" r="3" fill="url(#gO)"/>
<circle cx="447.67" cy="1016.67" r="3.33" fill="url(#gO)"/>
<circle cx="452.33" cy="1019.67" r="3.33" fill="url(#gO)"/>
<circle cx="420.67" cy="1029" r="3.33" fill="url(#gO)"/>
<circle cx="473.33" cy="1023" r="3" fill="url(#gO)"/>
<circle cx="470" cy="1028.33" r="3.33" fill="url(#gO)"/>
<circle cx="496.67" cy="1037.33" r="3.33" fill="url(#gO)"/>
<circle cx="538.33" cy="999.67" r="2.33" fill="url(#gO)"/>
<circle cx="544" cy="998.33" r="2.33" fill="url(#gO)"/>
<circle cx="549" cy="1014" r="3" fill="url(#gO)"/>
<circle cx="570.67" cy="1003" r="2.67" fill="url(#gO)"/>
<circle cx="572.67" cy="1025.67" r="3" fill="url(#gO)"/>
<circle cx="570.67" cy="1030.67" r="3.33" fill="url(#gO)"/>
<circle cx="546.67" cy="1034.67" r="2.67" fill="url(#gO)"/>
<circle cx="551.67" cy="1036.67" r="3" fill="url(#gO)"/>
<circle cx="533.33" cy="1080" r="2.33" fill="url(#gO)"/>
<circle cx="544" cy="1085.67" r="2.33" fill="url(#gO)"/>
<circle cx="523.33" cy="1058" r="1.67" fill="url(#gO)"/>
<circle cx="515" cy="1020.67" r="1.67" fill="url(#gO)"/>
<circle cx="510" cy="1024.67" r="1.33" fill="url(#gO)"/>
<polygon points="423.3,988 424.6,997 406.6,1079 404.2,1061" fill="#ec9cec" />
<polygon points="423.3,988 424.2,993.5 405.6,1069.8 404.2,1061" fill="#d9a045" />
<polygon points="303.3,987.5 423.3,987.5 404.2,1061.5 247.5,1060.3" fill="url(#auTop)" />
<polygon points="247.5,1060 404.2,1061.2 404.8,1069.8 248.3,1069.3" fill="#c8933d" />
<polygon points="248.5,1069 404.8,1069.5 405.6,1079 250.5,1079" fill="#e995ea" />
<polygon points="573.3,988 572,997 593.4,1079 595.3,1061" fill="#ec9cec" />
<polygon points="573.3,988 572.4,993.5 594.2,1069.8 595.3,1061" fill="#d9a045" />
<polygon points="573.3,988 692.5,988 748.5,1060.3 595.3,1061.5" fill="url(#auTop)" />
<polygon points="595.3,1061.2 748.5,1060 748.3,1069.3 594.6,1069.8" fill="#c8933d" />
<polygon points="594.6,1069.5 748.3,1069 746,1079 594.3,1079" fill="#e995ea" />
<text class="t" x="494" y="947.5" font-size="26.5" text-anchor="middle" fill="#000" >Oxygen plasma</text>
<line x1="467.7" y1="955.7" x2="452.5" y2="1015" stroke="#111" stroke-width="1.1" />
<polygon points="451.76,1017.91 451.27,1010.55 455.72,1011.7" fill="#111" />
<line x1="497.7" y1="955.7" x2="497.7" y2="983" stroke="#111" stroke-width="1.1" />
<polygon points="497.7,986 495.4,979 500,979" fill="#111" />
<line x1="532.3" y1="955" x2="548.5" y2="1012" stroke="#111" stroke-width="1.1" />
<polygon points="549.32,1014.89 545.19,1008.78 549.62,1007.52" fill="#111" />
<text class="t" x="329.5" y="1046" font-size="25.5" text-anchor="middle" fill="#000" >Au</text>
<text class="t" x="664.5" y="1046" font-size="25.5" text-anchor="middle" fill="#000" >Au</text>
<text class="t" x="220" y="1077.8" font-size="26" text-anchor="end" fill="#000" >Ti</text>
<text class="t" x="220.5" y="1098.7" font-size="26" text-anchor="end" fill="#000" letter-spacing="0.2">Resist mask</text>
<text class="t" x="221" y="1117.5" font-size="26" text-anchor="end">n-MoS<tspan dy="4" font-size="18">2</tspan></text>
<line x1="225" y1="1071.7" x2="258.5" y2="1071.7" stroke="#222" stroke-width="1.2" />
<line x1="225" y1="1092.3" x2="318.5" y2="1092.3" stroke="#222" stroke-width="1.2" />
<line x1="225" y1="1107.7" x2="428.5" y2="1107.7" stroke="#222" stroke-width="1.2" />
<text class="t" x="779" y="1079" font-size="26" text-anchor="start" fill="#000" >Ti</text>
<text class="t" x="779" y="1114" font-size="26">p-MoS<tspan dy="4" font-size="18">2</tspan></text>
<line x1="735" y1="1073.3" x2="775" y2="1073.3" stroke="#222" stroke-width="1.2" />
<line x1="566.7" y1="1106.3" x2="775" y2="1106.3" stroke="#222" stroke-width="1.2" />
<text class="t" x="507.5" y="1171.7" font-size="26" text-anchor="middle" fill="#000" letter-spacing="0.4">Substrate</text>
</svg>
</body></html>
